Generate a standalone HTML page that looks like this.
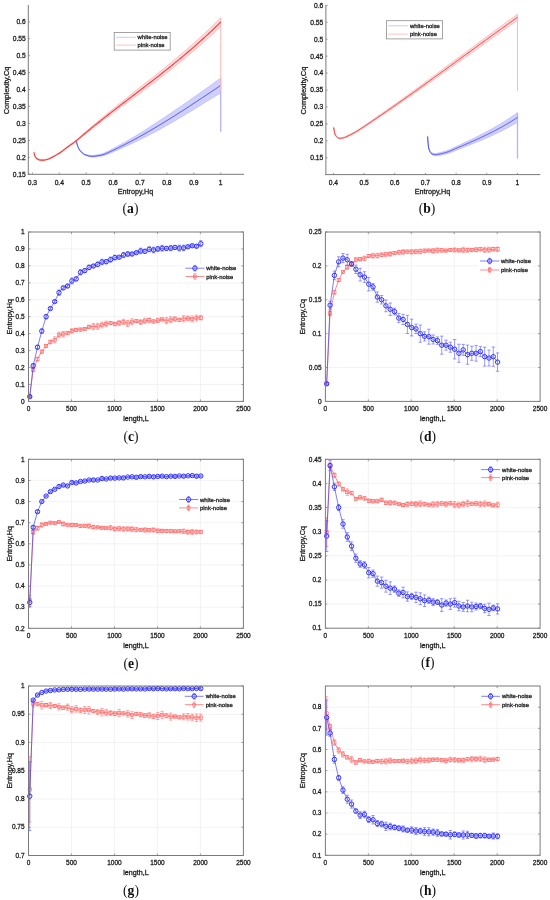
<!DOCTYPE html>
<html><head><meta charset="utf-8"><title>Figure</title>
<style>html,body{margin:0;padding:0;background:#fff;}svg{display:block;}</style></head>
<body><svg width="550" height="900" viewBox="0 0 550 900" font-family="Liberation Sans, Arial, sans-serif">
<rect width="550" height="900" fill="#fff"/>
<line x1="28.3" y1="5" x2="28.3" y2="174.8" stroke="#7a7a7a" stroke-width="1.0"/>
<line x1="27.8" y1="174.3" x2="244" y2="174.3" stroke="#7a7a7a" stroke-width="1.0"/>
<line x1="28.3" y1="174.2" x2="30.1" y2="174.2" stroke="#7a7a7a" stroke-width="0.7"/>
<text x="25.7" y="176.55" font-size="6.7" text-anchor="end" fill="#1a1a1a" stroke="#1a1a1a" stroke-width="0.28">0.15</text>
<line x1="28.3" y1="157.26" x2="30.1" y2="157.26" stroke="#7a7a7a" stroke-width="0.7"/>
<text x="25.7" y="159.61" font-size="6.7" text-anchor="end" fill="#1a1a1a" stroke="#1a1a1a" stroke-width="0.28">0.2</text>
<line x1="28.3" y1="140.33" x2="30.1" y2="140.33" stroke="#7a7a7a" stroke-width="0.7"/>
<text x="25.7" y="142.68" font-size="6.7" text-anchor="end" fill="#1a1a1a" stroke="#1a1a1a" stroke-width="0.28">0.25</text>
<line x1="28.3" y1="123.39" x2="30.1" y2="123.39" stroke="#7a7a7a" stroke-width="0.7"/>
<text x="25.7" y="125.74" font-size="6.7" text-anchor="end" fill="#1a1a1a" stroke="#1a1a1a" stroke-width="0.28">0.3</text>
<line x1="28.3" y1="106.46" x2="30.1" y2="106.46" stroke="#7a7a7a" stroke-width="0.7"/>
<text x="25.7" y="108.81" font-size="6.7" text-anchor="end" fill="#1a1a1a" stroke="#1a1a1a" stroke-width="0.28">0.35</text>
<line x1="28.3" y1="89.52" x2="30.1" y2="89.52" stroke="#7a7a7a" stroke-width="0.7"/>
<text x="25.7" y="91.87" font-size="6.7" text-anchor="end" fill="#1a1a1a" stroke="#1a1a1a" stroke-width="0.28">0.4</text>
<line x1="28.3" y1="72.59" x2="30.1" y2="72.59" stroke="#7a7a7a" stroke-width="0.7"/>
<text x="25.7" y="74.94" font-size="6.7" text-anchor="end" fill="#1a1a1a" stroke="#1a1a1a" stroke-width="0.28">0.45</text>
<line x1="28.3" y1="55.66" x2="30.1" y2="55.66" stroke="#7a7a7a" stroke-width="0.7"/>
<text x="25.7" y="58.01" font-size="6.7" text-anchor="end" fill="#1a1a1a" stroke="#1a1a1a" stroke-width="0.28">0.5</text>
<line x1="28.3" y1="38.72" x2="30.1" y2="38.72" stroke="#7a7a7a" stroke-width="0.7"/>
<text x="25.7" y="41.07" font-size="6.7" text-anchor="end" fill="#1a1a1a" stroke="#1a1a1a" stroke-width="0.28">0.55</text>
<line x1="28.3" y1="21.78" x2="30.1" y2="21.78" stroke="#7a7a7a" stroke-width="0.7"/>
<text x="25.7" y="24.13" font-size="6.7" text-anchor="end" fill="#1a1a1a" stroke="#1a1a1a" stroke-width="0.28">0.6</text>
<line x1="32.4" y1="174.3" x2="32.4" y2="172.5" stroke="#7a7a7a" stroke-width="0.7"/>
<text x="32.4" y="184.6" font-size="6.7" text-anchor="middle" fill="#1a1a1a" stroke="#1a1a1a" stroke-width="0.28">0.3</text>
<line x1="59.3" y1="174.3" x2="59.3" y2="172.5" stroke="#7a7a7a" stroke-width="0.7"/>
<text x="59.3" y="184.6" font-size="6.7" text-anchor="middle" fill="#1a1a1a" stroke="#1a1a1a" stroke-width="0.28">0.4</text>
<line x1="86.2" y1="174.3" x2="86.2" y2="172.5" stroke="#7a7a7a" stroke-width="0.7"/>
<text x="86.2" y="184.6" font-size="6.7" text-anchor="middle" fill="#1a1a1a" stroke="#1a1a1a" stroke-width="0.28">0.5</text>
<line x1="113.1" y1="174.3" x2="113.1" y2="172.5" stroke="#7a7a7a" stroke-width="0.7"/>
<text x="113.1" y="184.6" font-size="6.7" text-anchor="middle" fill="#1a1a1a" stroke="#1a1a1a" stroke-width="0.28">0.6</text>
<line x1="140" y1="174.3" x2="140" y2="172.5" stroke="#7a7a7a" stroke-width="0.7"/>
<text x="140" y="184.6" font-size="6.7" text-anchor="middle" fill="#1a1a1a" stroke="#1a1a1a" stroke-width="0.28">0.7</text>
<line x1="166.9" y1="174.3" x2="166.9" y2="172.5" stroke="#7a7a7a" stroke-width="0.7"/>
<text x="166.9" y="184.6" font-size="6.7" text-anchor="middle" fill="#1a1a1a" stroke="#1a1a1a" stroke-width="0.28">0.8</text>
<line x1="193.8" y1="174.3" x2="193.8" y2="172.5" stroke="#7a7a7a" stroke-width="0.7"/>
<text x="193.8" y="184.6" font-size="6.7" text-anchor="middle" fill="#1a1a1a" stroke="#1a1a1a" stroke-width="0.28">0.9</text>
<line x1="220.7" y1="174.3" x2="220.7" y2="172.5" stroke="#7a7a7a" stroke-width="0.7"/>
<text x="220.7" y="184.6" font-size="6.7" text-anchor="middle" fill="#1a1a1a" stroke="#1a1a1a" stroke-width="0.28">1</text>
<text x="8.9" y="90.45" font-size="7.45" text-anchor="middle" fill="#1a1a1a" stroke="#1a1a1a" stroke-width="0.28" transform="rotate(-90 8.9 90.45)">Complexity,Cq</text>
<text x="135.55" y="194.2" font-size="7.2" text-anchor="middle" fill="#1a1a1a" stroke="#1a1a1a" stroke-width="0.28">Entropy,Hq</text>
<polygon points="76.25,140.44 76.47,141.38 76.69,142.29 76.91,143.12 76.91,143.15 77.14,143.95 77.36,144.68 77.57,145.28 77.58,145.32 77.8,145.9 78.02,146.45 78.23,146.92 78.25,146.97 78.47,147.46 78.69,147.92 78.89,148.3 78.91,148.35 79.14,148.75 79.36,149.12 79.55,149.41 79.58,149.46 79.8,149.77 80.03,150.06 80.2,150.29 80.25,150.34 80.47,150.6 80.69,150.85 80.86,151.04 80.91,151.09 81.14,151.32 81.36,151.54 81.52,151.7 81.58,151.75 81.8,151.95 82.03,152.14 82.18,152.27 82.25,152.32 82.47,152.5 82.69,152.68 82.84,152.79 82.91,152.84 83.14,153.01 83.36,153.17 83.5,153.27 83.58,153.33 83.8,153.48 84.03,153.63 84.16,153.72 84.25,153.77 84.47,153.89 84.69,154 84.82,154.06 84.91,154.09 85.48,154.28 86.14,154.48 86.8,154.68 87.46,154.86 88.12,155.02 88.78,155.17 89.44,155.29 90.1,155.39 90.76,155.46 91.42,155.5 92.08,155.51 92.74,155.49 93.4,155.44 94.06,155.38 94.72,155.29 95.38,155.19 96.04,155.08 96.69,154.96 97.35,154.83 98.01,154.7 98.67,154.56 99.33,154.42 99.99,154.3 100.65,154.17 101.31,154 101.97,153.81 102.63,153.59 103.29,153.35 103.95,153.1 104.61,152.82 105.27,152.54 105.93,152.24 106.59,151.93 107.25,151.62 107.91,151.29 108.57,150.94 109.23,150.6 109.89,150.25 110.55,149.9 111.21,149.56 111.87,149.22 112.53,148.88 113.18,148.53 113.84,148.19 114.5,147.84 115.16,147.49 115.82,147.14 116.48,146.79 117.14,146.44 117.8,146.09 118.46,145.73 119.12,145.37 119.78,145.01 120.44,144.65 121.1,144.29 121.76,143.93 122.42,143.57 123.08,143.2 123.74,142.83 124.4,142.46 125.06,142.09 125.72,141.72 126.38,141.35 127.04,140.97 127.7,140.59 128.36,140.2 129.02,139.81 129.67,139.43 130.33,139.04 130.99,138.65 131.65,138.26 132.31,137.86 132.97,137.47 133.63,137.07 134.29,136.67 134.95,136.28 135.61,135.88 136.27,135.48 136.93,135.07 137.59,134.67 138.25,134.27 138.91,133.86 139.57,133.45 140.23,133.05 140.89,132.64 141.55,132.23 142.21,131.81 142.87,131.4 143.53,130.99 144.19,130.57 144.85,130.16 145.51,129.74 146.16,129.32 146.82,128.9 147.48,128.48 148.14,128.06 148.8,127.63 149.46,127.21 150.12,126.79 150.78,126.36 151.44,125.93 152.1,125.5 152.76,125.08 153.42,124.65 154.08,124.21 154.74,123.78 155.4,123.35 156.06,122.91 156.72,122.48 157.38,122.04 158.04,121.61 158.7,121.17 159.36,120.74 160.02,120.31 160.68,119.87 161.34,119.44 162,119.01 162.65,118.57 163.31,118.13 163.97,117.7 164.63,117.26 165.29,116.82 165.95,116.38 166.61,115.94 167.27,115.5 167.93,115.06 168.59,114.62 169.25,114.17 169.91,113.73 170.57,113.29 171.23,112.84 171.89,112.39 172.55,111.95 173.21,111.5 173.87,111.06 174.53,110.61 175.19,110.17 175.85,109.72 176.51,109.27 177.17,108.82 177.83,108.37 178.49,107.92 179.15,107.47 179.8,107.02 180.46,106.57 181.12,106.12 181.78,105.67 182.44,105.21 183.1,104.76 183.76,104.3 184.42,103.85 185.08,103.39 185.74,102.94 186.4,102.48 187.06,102.02 187.72,101.56 188.38,101.1 189.04,100.65 189.7,100.19 190.36,99.73 191.02,99.27 191.68,98.8 192.34,98.34 193,97.88 193.66,97.42 194.32,96.96 194.98,96.49 195.64,96.03 196.29,95.56 196.95,95.1 197.61,94.64 198.27,94.17 198.93,93.7 199.59,93.24 200.25,92.77 200.91,92.31 201.57,91.84 202.23,91.37 202.89,90.9 203.55,90.44 204.21,89.97 204.87,89.5 205.53,89.03 206.19,88.56 206.85,88.09 207.51,87.62 208.17,87.15 208.83,86.68 209.49,86.21 210.15,85.74 210.81,85.25 211.47,84.77 212.13,84.29 212.78,83.81 213.44,83.32 214.1,82.84 214.76,82.36 215.42,81.87 216.08,81.39 216.74,80.9 217.4,80.42 218.06,79.94 218.72,79.45 219.38,78.97 220.04,78.48 220.7,78 220.7,92.9 220.04,93.3 219.38,93.7 218.72,94.1 218.06,94.51 217.4,94.91 216.74,95.31 216.08,95.71 215.42,96.11 214.76,96.51 214.1,96.91 213.44,97.31 212.78,97.71 212.13,98.11 211.47,98.51 210.81,98.91 210.15,99.31 209.49,99.72 208.83,100.13 208.17,100.54 207.51,100.95 206.85,101.36 206.19,101.77 205.53,102.18 204.87,102.59 204.21,103 203.55,103.41 202.89,103.82 202.23,104.23 201.57,104.63 200.91,105.04 200.25,105.45 199.59,105.86 198.93,106.26 198.27,106.67 197.61,107.07 196.95,107.48 196.29,107.89 195.64,108.29 194.98,108.69 194.32,109.1 193.66,109.5 193,109.91 192.34,110.31 191.68,110.71 191.02,111.11 190.36,111.51 189.7,111.91 189.04,112.31 188.38,112.71 187.72,113.11 187.06,113.51 186.4,113.91 185.74,114.31 185.08,114.7 184.42,115.1 183.76,115.5 183.1,115.89 182.44,116.29 181.78,116.68 181.12,117.08 180.46,117.47 179.8,117.86 179.15,118.25 178.49,118.64 177.83,119.03 177.17,119.42 176.51,119.81 175.85,120.2 175.19,120.59 174.53,120.98 173.87,121.36 173.21,121.75 172.55,122.13 171.89,122.52 171.23,122.9 170.57,123.27 169.91,123.65 169.25,124.03 168.59,124.41 167.93,124.78 167.27,125.16 166.61,125.53 165.95,125.91 165.29,126.28 164.63,126.65 163.97,127.02 163.31,127.39 162.65,127.76 162,128.13 161.34,128.5 160.68,128.87 160.02,129.23 159.36,129.6 158.7,129.96 158.04,130.31 157.38,130.67 156.72,131.02 156.06,131.37 155.4,131.72 154.74,132.07 154.08,132.42 153.42,132.77 152.76,133.12 152.1,133.46 151.44,133.81 150.78,134.15 150.12,134.5 149.46,134.84 148.8,135.18 148.14,135.52 147.48,135.86 146.82,136.19 146.16,136.53 145.51,136.87 144.85,137.2 144.19,137.53 143.53,137.87 142.87,138.2 142.21,138.53 141.55,138.86 140.89,139.18 140.23,139.51 139.57,139.83 138.91,140.16 138.25,140.48 137.59,140.8 136.93,141.12 136.27,141.44 135.61,141.76 134.95,142.08 134.29,142.39 133.63,142.71 132.97,143.02 132.31,143.33 131.65,143.64 130.99,143.95 130.33,144.26 129.67,144.56 129.02,144.87 128.36,145.17 127.7,145.47 127.04,145.77 126.38,146.08 125.72,146.38 125.06,146.69 124.4,146.99 123.74,147.29 123.08,147.59 122.42,147.89 121.76,148.19 121.1,148.49 120.44,148.78 119.78,149.07 119.12,149.37 118.46,149.66 117.8,149.95 117.14,150.23 116.48,150.52 115.82,150.8 115.16,151.09 114.5,151.37 113.84,151.65 113.18,151.93 112.53,152.2 111.87,152.48 111.21,152.75 110.55,153.03 109.89,153.31 109.23,153.59 108.57,153.88 107.91,154.15 107.25,154.41 106.59,154.67 105.93,154.91 105.27,155.14 104.61,155.36 103.95,155.56 103.29,155.75 102.63,155.92 101.97,156.07 101.31,156.2 100.65,156.3 99.99,156.37 99.33,156.44 98.67,156.54 98.01,156.64 97.35,156.73 96.69,156.83 96.04,156.91 95.38,156.99 94.72,157.05 94.06,157.1 93.4,157.13 92.74,157.13 92.08,157.12 91.42,157.07 90.76,156.99 90.1,156.88 89.44,156.75 88.78,156.59 88.12,156.41 87.46,156.21 86.8,155.99 86.14,155.76 85.48,155.52 84.91,155.3 84.82,155.26 84.69,155.2 84.47,155.08 84.25,154.94 84.16,154.88 84.03,154.79 83.8,154.63 83.58,154.46 83.5,154.4 83.36,154.29 83.14,154.12 82.91,153.94 82.84,153.88 82.69,153.76 82.47,153.57 82.25,153.38 82.18,153.33 82.03,153.19 81.8,152.98 81.58,152.77 81.52,152.71 81.36,152.55 81.14,152.32 80.91,152.08 80.86,152.02 80.69,151.82 80.47,151.56 80.25,151.29 80.2,151.23 80.03,151 79.8,150.69 79.58,150.37 79.55,150.32 79.36,150.02 79.14,149.64 78.91,149.22 78.89,149.17 78.69,148.78 78.47,148.31 78.25,147.8 78.23,147.75 78.02,147.27 77.8,146.71 77.58,146.12 77.57,146.08 77.36,145.46 77.14,144.72 76.91,143.91 76.91,143.88 76.69,143.03 76.47,142.12 76.25,141.17" fill="#c4c4ff" stroke="none" fill-opacity="0.8"/>
<polyline points="76.25,140.44 76.47,141.38 76.69,142.29 76.91,143.12 76.91,143.15 77.14,143.95 77.36,144.68 77.57,145.28 77.58,145.32 77.8,145.9 78.02,146.45 78.23,146.92 78.25,146.97 78.47,147.46 78.69,147.92 78.89,148.3 78.91,148.35 79.14,148.75 79.36,149.12 79.55,149.41 79.58,149.46 79.8,149.77 80.03,150.06 80.2,150.29 80.25,150.34 80.47,150.6 80.69,150.85 80.86,151.04 80.91,151.09 81.14,151.32 81.36,151.54 81.52,151.7 81.58,151.75 81.8,151.95 82.03,152.14 82.18,152.27 82.25,152.32 82.47,152.5 82.69,152.68 82.84,152.79 82.91,152.84 83.14,153.01 83.36,153.17 83.5,153.27 83.58,153.33 83.8,153.48 84.03,153.63 84.16,153.72 84.25,153.77 84.47,153.89 84.69,154 84.82,154.06 84.91,154.09 85.48,154.28 86.14,154.48 86.8,154.68 87.46,154.86 88.12,155.02 88.78,155.17 89.44,155.29 90.1,155.39 90.76,155.46 91.42,155.5 92.08,155.51 92.74,155.49 93.4,155.44 94.06,155.38 94.72,155.29 95.38,155.19 96.04,155.08 96.69,154.96 97.35,154.83 98.01,154.7 98.67,154.56 99.33,154.42 99.99,154.3 100.65,154.17 101.31,154 101.97,153.81 102.63,153.59 103.29,153.35 103.95,153.1 104.61,152.82 105.27,152.54 105.93,152.24 106.59,151.93 107.25,151.62 107.91,151.29 108.57,150.94 109.23,150.6 109.89,150.25 110.55,149.9 111.21,149.56 111.87,149.22 112.53,148.88 113.18,148.53 113.84,148.19 114.5,147.84 115.16,147.49 115.82,147.14 116.48,146.79 117.14,146.44 117.8,146.09 118.46,145.73 119.12,145.37 119.78,145.01 120.44,144.65 121.1,144.29 121.76,143.93 122.42,143.57 123.08,143.2 123.74,142.83 124.4,142.46 125.06,142.09 125.72,141.72 126.38,141.35 127.04,140.97 127.7,140.59 128.36,140.2 129.02,139.81 129.67,139.43 130.33,139.04 130.99,138.65 131.65,138.26 132.31,137.86 132.97,137.47 133.63,137.07 134.29,136.67 134.95,136.28 135.61,135.88 136.27,135.48 136.93,135.07 137.59,134.67 138.25,134.27 138.91,133.86 139.57,133.45 140.23,133.05 140.89,132.64 141.55,132.23 142.21,131.81 142.87,131.4 143.53,130.99 144.19,130.57 144.85,130.16 145.51,129.74 146.16,129.32 146.82,128.9 147.48,128.48 148.14,128.06 148.8,127.63 149.46,127.21 150.12,126.79 150.78,126.36 151.44,125.93 152.1,125.5 152.76,125.08 153.42,124.65 154.08,124.21 154.74,123.78 155.4,123.35 156.06,122.91 156.72,122.48 157.38,122.04 158.04,121.61 158.7,121.17 159.36,120.74 160.02,120.31 160.68,119.87 161.34,119.44 162,119.01 162.65,118.57 163.31,118.13 163.97,117.7 164.63,117.26 165.29,116.82 165.95,116.38 166.61,115.94 167.27,115.5 167.93,115.06 168.59,114.62 169.25,114.17 169.91,113.73 170.57,113.29 171.23,112.84 171.89,112.39 172.55,111.95 173.21,111.5 173.87,111.06 174.53,110.61 175.19,110.17 175.85,109.72 176.51,109.27 177.17,108.82 177.83,108.37 178.49,107.92 179.15,107.47 179.8,107.02 180.46,106.57 181.12,106.12 181.78,105.67 182.44,105.21 183.1,104.76 183.76,104.3 184.42,103.85 185.08,103.39 185.74,102.94 186.4,102.48 187.06,102.02 187.72,101.56 188.38,101.1 189.04,100.65 189.7,100.19 190.36,99.73 191.02,99.27 191.68,98.8 192.34,98.34 193,97.88 193.66,97.42 194.32,96.96 194.98,96.49 195.64,96.03 196.29,95.56 196.95,95.1 197.61,94.64 198.27,94.17 198.93,93.7 199.59,93.24 200.25,92.77 200.91,92.31 201.57,91.84 202.23,91.37 202.89,90.9 203.55,90.44 204.21,89.97 204.87,89.5 205.53,89.03 206.19,88.56 206.85,88.09 207.51,87.62 208.17,87.15 208.83,86.68 209.49,86.21 210.15,85.74 210.81,85.25 211.47,84.77 212.13,84.29 212.78,83.81 213.44,83.32 214.1,82.84 214.76,82.36 215.42,81.87 216.08,81.39 216.74,80.9 217.4,80.42 218.06,79.94 218.72,79.45 219.38,78.97 220.04,78.48 220.7,78" fill="none" stroke="#a8a8ff" stroke-width="0.6" stroke-linejoin="round"/>
<polyline points="76.25,141.17 76.47,142.12 76.69,143.03 76.91,143.88 76.91,143.91 77.14,144.72 77.36,145.46 77.57,146.08 77.58,146.12 77.8,146.71 78.02,147.27 78.23,147.75 78.25,147.8 78.47,148.31 78.69,148.78 78.89,149.17 78.91,149.22 79.14,149.64 79.36,150.02 79.55,150.32 79.58,150.37 79.8,150.69 80.03,151 80.2,151.23 80.25,151.29 80.47,151.56 80.69,151.82 80.86,152.02 80.91,152.08 81.14,152.32 81.36,152.55 81.52,152.71 81.58,152.77 81.8,152.98 82.03,153.19 82.18,153.33 82.25,153.38 82.47,153.57 82.69,153.76 82.84,153.88 82.91,153.94 83.14,154.12 83.36,154.29 83.5,154.4 83.58,154.46 83.8,154.63 84.03,154.79 84.16,154.88 84.25,154.94 84.47,155.08 84.69,155.2 84.82,155.26 84.91,155.3 85.48,155.52 86.14,155.76 86.8,155.99 87.46,156.21 88.12,156.41 88.78,156.59 89.44,156.75 90.1,156.88 90.76,156.99 91.42,157.07 92.08,157.12 92.74,157.13 93.4,157.13 94.06,157.1 94.72,157.05 95.38,156.99 96.04,156.91 96.69,156.83 97.35,156.73 98.01,156.64 98.67,156.54 99.33,156.44 99.99,156.37 100.65,156.3 101.31,156.2 101.97,156.07 102.63,155.92 103.29,155.75 103.95,155.56 104.61,155.36 105.27,155.14 105.93,154.91 106.59,154.67 107.25,154.41 107.91,154.15 108.57,153.88 109.23,153.59 109.89,153.31 110.55,153.03 111.21,152.75 111.87,152.48 112.53,152.2 113.18,151.93 113.84,151.65 114.5,151.37 115.16,151.09 115.82,150.8 116.48,150.52 117.14,150.23 117.8,149.95 118.46,149.66 119.12,149.37 119.78,149.07 120.44,148.78 121.1,148.49 121.76,148.19 122.42,147.89 123.08,147.59 123.74,147.29 124.4,146.99 125.06,146.69 125.72,146.38 126.38,146.08 127.04,145.77 127.7,145.47 128.36,145.17 129.02,144.87 129.67,144.56 130.33,144.26 130.99,143.95 131.65,143.64 132.31,143.33 132.97,143.02 133.63,142.71 134.29,142.39 134.95,142.08 135.61,141.76 136.27,141.44 136.93,141.12 137.59,140.8 138.25,140.48 138.91,140.16 139.57,139.83 140.23,139.51 140.89,139.18 141.55,138.86 142.21,138.53 142.87,138.2 143.53,137.87 144.19,137.53 144.85,137.2 145.51,136.87 146.16,136.53 146.82,136.19 147.48,135.86 148.14,135.52 148.8,135.18 149.46,134.84 150.12,134.5 150.78,134.15 151.44,133.81 152.1,133.46 152.76,133.12 153.42,132.77 154.08,132.42 154.74,132.07 155.4,131.72 156.06,131.37 156.72,131.02 157.38,130.67 158.04,130.31 158.7,129.96 159.36,129.6 160.02,129.23 160.68,128.87 161.34,128.5 162,128.13 162.65,127.76 163.31,127.39 163.97,127.02 164.63,126.65 165.29,126.28 165.95,125.91 166.61,125.53 167.27,125.16 167.93,124.78 168.59,124.41 169.25,124.03 169.91,123.65 170.57,123.27 171.23,122.9 171.89,122.52 172.55,122.13 173.21,121.75 173.87,121.36 174.53,120.98 175.19,120.59 175.85,120.2 176.51,119.81 177.17,119.42 177.83,119.03 178.49,118.64 179.15,118.25 179.8,117.86 180.46,117.47 181.12,117.08 181.78,116.68 182.44,116.29 183.1,115.89 183.76,115.5 184.42,115.1 185.08,114.7 185.74,114.31 186.4,113.91 187.06,113.51 187.72,113.11 188.38,112.71 189.04,112.31 189.7,111.91 190.36,111.51 191.02,111.11 191.68,110.71 192.34,110.31 193,109.91 193.66,109.5 194.32,109.1 194.98,108.69 195.64,108.29 196.29,107.89 196.95,107.48 197.61,107.07 198.27,106.67 198.93,106.26 199.59,105.86 200.25,105.45 200.91,105.04 201.57,104.63 202.23,104.23 202.89,103.82 203.55,103.41 204.21,103 204.87,102.59 205.53,102.18 206.19,101.77 206.85,101.36 207.51,100.95 208.17,100.54 208.83,100.13 209.49,99.72 210.15,99.31 210.81,98.91 211.47,98.51 212.13,98.11 212.78,97.71 213.44,97.31 214.1,96.91 214.76,96.51 215.42,96.11 216.08,95.71 216.74,95.31 217.4,94.91 218.06,94.51 218.72,94.1 219.38,93.7 220.04,93.3 220.7,92.9" fill="none" stroke="#a8a8ff" stroke-width="0.6" stroke-linejoin="round"/>
<line x1="220.7" y1="78" x2="220.7" y2="131.86" stroke="#b4b4ff" stroke-width="1.3"/>
<polyline points="76.25,140.8 76.47,141.75 76.69,142.66 76.91,143.5 76.91,143.53 77.14,144.33 77.36,145.07 77.57,145.68 77.58,145.72 77.8,146.3 78.02,146.86 78.23,147.34 78.25,147.38 78.47,147.88 78.69,148.35 78.89,148.73 78.91,148.79 79.14,149.19 79.36,149.57 79.55,149.86 79.58,149.92 79.8,150.23 80.03,150.53 80.2,150.76 80.25,150.81 80.47,151.08 80.69,151.34 80.86,151.53 80.91,151.58 81.14,151.82 81.36,152.04 81.52,152.2 81.58,152.26 81.8,152.46 82.03,152.66 82.18,152.8 82.25,152.85 82.47,153.04 82.69,153.22 82.84,153.34 82.91,153.39 83.14,153.56 83.36,153.73 83.5,153.84 83.58,153.9 83.8,154.06 84.03,154.21 84.16,154.3 84.25,154.35 84.47,154.48 84.69,154.6 84.82,154.66 84.91,154.7 85.48,154.9 86.14,155.12 86.8,155.34 87.46,155.53 88.12,155.72 88.78,155.88 89.44,156.02 90.1,156.14 90.76,156.23 91.42,156.29 92.08,156.31 92.74,156.31 93.4,156.28 94.06,156.24 94.72,156.17 95.38,156.09 96.04,156 96.69,155.89 97.35,155.78 98.01,155.67 98.67,155.55 99.33,155.43 99.99,155.33 100.65,155.23 101.31,155.1 101.97,154.94 102.63,154.75 103.29,154.55 103.95,154.33 104.61,154.09 105.27,153.84 105.93,153.57 106.59,153.3 107.25,153.02 107.91,152.72 108.57,152.41 109.23,152.1 109.89,151.78 110.55,151.46 111.21,151.15 111.87,150.85 112.53,150.54 113.18,150.23 113.84,149.92 114.5,149.6 115.16,149.29 115.82,148.97 116.48,148.66 117.14,148.34 117.8,148.02 118.46,147.69 119.12,147.37 119.78,147.04 120.44,146.72 121.1,146.39 121.76,146.06 122.42,145.73 123.08,145.4 123.74,145.06 124.4,144.73 125.06,144.39 125.72,144.05 126.38,143.71 127.04,143.37 127.7,143.03 128.36,142.69 129.02,142.34 129.67,141.99 130.33,141.65 130.99,141.3 131.65,140.95 132.31,140.6 132.97,140.24 133.63,139.89 134.29,139.53 134.95,139.18 135.61,138.82 136.27,138.46 136.93,138.1 137.59,137.74 138.25,137.37 138.91,137.01 139.57,136.64 140.23,136.28 140.89,135.91 141.55,135.54 142.21,135.17 142.87,134.8 143.53,134.43 144.19,134.05 144.85,133.68 145.51,133.3 146.16,132.93 146.82,132.55 147.48,132.17 148.14,131.79 148.8,131.41 149.46,131.02 150.12,130.64 150.78,130.26 151.44,129.87 152.1,129.48 152.76,129.1 153.42,128.71 154.08,128.32 154.74,127.93 155.4,127.54 156.06,127.14 156.72,126.75 157.38,126.36 158.04,125.96 158.7,125.56 159.36,125.17 160.02,124.77 160.68,124.37 161.34,123.97 162,123.57 162.65,123.17 163.31,122.76 163.97,122.36 164.63,121.96 165.29,121.55 165.95,121.14 166.61,120.74 167.27,120.33 167.93,119.92 168.59,119.51 169.25,119.1 169.91,118.69 170.57,118.28 171.23,117.87 171.89,117.45 172.55,117.04 173.21,116.63 173.87,116.21 174.53,115.79 175.19,115.38 175.85,114.96 176.51,114.54 177.17,114.12 177.83,113.7 178.49,113.28 179.15,112.86 179.8,112.44 180.46,112.02 181.12,111.6 181.78,111.17 182.44,110.75 183.1,110.33 183.76,109.9 184.42,109.47 185.08,109.05 185.74,108.62 186.4,108.19 187.06,107.77 187.72,107.34 188.38,106.91 189.04,106.48 189.7,106.05 190.36,105.62 191.02,105.19 191.68,104.76 192.34,104.33 193,103.89 193.66,103.46 194.32,103.03 194.98,102.59 195.64,102.16 196.29,101.73 196.95,101.29 197.61,100.86 198.27,100.42 198.93,99.98 199.59,99.55 200.25,99.11 200.91,98.67 201.57,98.24 202.23,97.8 202.89,97.36 203.55,96.92 204.21,96.48 204.87,96.04 205.53,95.61 206.19,95.17 206.85,94.73 207.51,94.29 208.17,93.85 208.83,93.41 209.49,92.97 210.15,92.52 210.81,92.08 211.47,91.64 212.13,91.2 212.78,90.76 213.44,90.32 214.1,89.88 214.76,89.43 215.42,88.99 216.08,88.55 216.74,88.11 217.4,87.66 218.06,87.22 218.72,86.78 219.38,86.34 220.04,85.89 220.7,85.45" fill="none" stroke="#3a3af5" stroke-width="0.9" stroke-linejoin="round"/>
<polygon points="33.91,151.77 34.19,152.9 34.48,153.97 34.76,154.88 34.77,154.91 35.06,155.67 35.34,156.22 35.61,156.65 35.63,156.67 35.92,157.08 36.21,157.44 36.47,157.72 36.49,157.75 36.78,158.01 37.07,158.24 37.32,158.4 37.35,158.42 37.64,158.57 37.93,158.72 38.17,158.84 38.22,158.86 38.5,159 38.79,159.12 39.02,159.22 39.08,159.24 39.37,159.33 39.65,159.42 39.88,159.47 39.94,159.49 40.23,159.53 40.52,159.56 40.73,159.57 40.8,159.57 41.09,159.57 41.38,159.56 41.58,159.56 41.67,159.56 41.95,159.56 42.24,159.56 42.44,159.56 42.53,159.56 42.82,159.56 43.1,159.56 43.29,159.56 43.39,159.56 43.68,159.55 43.96,159.55 44.14,159.55 44.25,159.54 44.54,159.52 44.83,159.47 44.99,159.44 45.11,159.42 45.85,159.23 46.7,158.98 47.55,158.72 48.41,158.42 49.26,158.06 50.11,157.68 50.97,157.27 51.82,156.86 52.67,156.43 53.52,155.98 54.38,155.5 55.23,155.01 56.08,154.5 56.94,153.99 57.79,153.47 58.64,152.92 59.49,152.37 60.35,151.79 61.2,151.21 62.05,150.61 62.91,149.99 63.76,149.35 64.61,148.68 65.47,148 66.32,147.32 67.17,146.66 68.02,146.02 68.88,145.41 69.73,144.82 70.58,144.24 71.44,143.66 72.29,143.07 73.14,142.46 73.99,141.82 74.85,141.14 75.7,140.43 76.55,139.71 77.41,138.97 78.26,138.22 79.11,137.45 79.97,136.69 80.82,135.92 81.67,135.16 82.52,134.39 83.38,133.63 84.23,132.89 85.08,132.15 85.94,131.41 86.79,130.67 87.64,129.94 88.49,129.2 89.35,128.47 90.2,127.74 91.05,127.01 91.91,126.29 92.76,125.57 93.61,124.84 94.47,124.12 95.32,123.4 96.17,122.69 97.02,121.97 97.88,121.26 98.73,120.54 99.58,119.83 100.44,119.12 101.29,118.42 102.14,117.72 102.99,117.01 103.85,116.31 104.7,115.61 105.55,114.91 106.41,114.22 107.26,113.52 108.11,112.82 108.97,112.13 109.82,111.44 110.67,110.75 111.52,110.05 112.38,109.36 113.23,108.67 114.08,107.98 114.94,107.3 115.79,106.61 116.64,105.92 117.49,105.24 118.35,104.55 119.2,103.87 120.05,103.18 120.91,102.5 121.76,101.82 122.61,101.14 123.46,100.45 124.32,99.77 125.17,99.09 126.02,98.41 126.88,97.73 127.73,97.05 128.58,96.37 129.44,95.69 130.29,95.01 131.14,94.33 131.99,93.65 132.85,92.97 133.7,92.29 134.55,91.61 135.41,90.93 136.26,90.25 137.11,89.57 137.96,88.89 138.82,88.21 139.67,87.53 140.52,86.86 141.38,86.19 142.23,85.53 143.08,84.86 143.94,84.19 144.79,83.52 145.64,82.86 146.49,82.19 147.35,81.52 148.2,80.85 149.05,80.18 149.91,79.51 150.76,78.84 151.61,78.17 152.46,77.49 153.32,76.82 154.17,76.14 155.02,75.47 155.88,74.79 156.73,74.11 157.58,73.43 158.44,72.75 159.29,72.07 160.14,71.39 160.99,70.71 161.85,70.02 162.7,69.34 163.55,68.65 164.41,67.96 165.26,67.27 166.11,66.58 166.96,65.89 167.82,65.19 168.67,64.5 169.52,63.8 170.38,63.1 171.23,62.4 172.08,61.7 172.94,61 173.79,60.29 174.64,59.58 175.49,58.88 176.35,58.16 177.2,57.45 178.05,56.74 178.91,56.02 179.76,55.3 180.61,54.58 181.46,53.86 182.32,53.13 183.17,52.41 184.02,51.68 184.88,50.95 185.73,50.21 186.58,49.47 187.44,48.73 188.29,47.99 189.14,47.24 189.99,46.49 190.85,45.74 191.7,44.99 192.55,44.23 193.41,43.47 194.26,42.71 195.11,41.95 195.96,41.18 196.82,40.41 197.67,39.64 198.52,38.86 199.38,38.08 200.23,37.3 201.08,36.52 201.94,35.73 202.79,34.94 203.64,34.15 204.49,33.35 205.35,32.55 206.2,31.75 207.05,30.95 207.91,30.14 208.76,29.33 209.61,28.51 210.46,27.7 211.32,26.87 212.17,26.05 213.02,25.22 213.88,24.39 214.73,23.55 215.58,22.72 216.44,21.87 217.29,21.03 218.14,20.18 218.99,19.33 219.85,18.47 220.7,17.61 220.7,26.41 219.85,27.24 218.99,28.07 218.14,28.89 217.29,29.7 216.44,30.51 215.58,31.32 214.73,32.13 213.88,32.93 213.02,33.73 212.17,34.52 211.32,35.32 210.46,36.1 209.61,36.89 208.76,37.67 207.91,38.45 207.05,39.23 206.2,40 205.35,40.77 204.49,41.53 203.64,42.29 202.79,43.05 201.94,43.81 201.08,44.56 200.23,45.32 199.38,46.06 198.52,46.81 197.67,47.55 196.82,48.29 195.96,49.03 195.11,49.76 194.26,50.49 193.41,51.22 192.55,51.95 191.7,52.67 190.85,53.39 189.99,54.11 189.14,54.83 188.29,55.54 187.44,56.25 186.58,56.96 185.73,57.67 184.88,58.37 184.02,59.08 183.17,59.78 182.32,60.48 181.46,61.18 180.61,61.88 179.76,62.58 178.91,63.27 178.05,63.96 177.2,64.65 176.35,65.34 175.49,66.02 174.64,66.71 173.79,67.39 172.94,68.07 172.08,68.75 171.23,69.42 170.38,70.1 169.52,70.77 168.67,71.44 167.82,72.11 166.96,72.78 166.11,73.45 165.26,74.12 164.41,74.78 163.55,75.44 162.7,76.11 161.85,76.77 160.99,77.43 160.14,78.08 159.29,78.74 158.44,79.4 157.58,80.05 156.73,80.71 155.88,81.36 155.02,82.01 154.17,82.66 153.32,83.31 152.46,83.96 151.61,84.61 150.76,85.25 149.91,85.9 149.05,86.55 148.2,87.19 147.35,87.83 146.49,88.48 145.64,89.12 144.79,89.76 143.94,90.41 143.08,91.05 142.23,91.69 141.38,92.33 140.52,92.97 139.67,93.6 138.82,94.23 137.96,94.85 137.11,95.47 136.26,96.09 135.41,96.72 134.55,97.34 133.7,97.96 132.85,98.59 131.99,99.21 131.14,99.83 130.29,100.45 129.44,101.08 128.58,101.7 127.73,102.32 126.88,102.94 126.02,103.57 125.17,104.19 124.32,104.82 123.46,105.44 122.61,106.06 121.76,106.69 120.91,107.32 120.05,107.94 119.2,108.57 118.35,109.2 117.49,109.82 116.64,110.45 115.79,111.08 114.94,111.71 114.08,112.34 113.23,112.97 112.38,113.6 111.52,114.24 110.67,114.87 109.82,115.51 108.97,116.14 108.11,116.78 107.26,117.42 106.41,118.06 105.55,118.7 104.7,119.34 103.85,119.98 102.99,120.63 102.14,121.27 101.29,121.92 100.44,122.56 99.58,123.21 98.73,123.86 97.88,124.51 97.02,125.16 96.17,125.81 95.32,126.46 94.47,127.12 93.61,127.77 92.76,128.43 91.91,129.09 91.05,129.75 90.2,130.42 89.35,131.08 88.49,131.75 87.64,132.42 86.79,133.09 85.94,133.76 85.08,134.43 84.23,135.11 83.38,135.79 82.52,136.49 81.67,137.19 80.82,137.89 79.97,138.59 79.11,139.29 78.26,139.99 77.41,140.68 76.55,141.35 75.7,142.01 74.85,142.65 73.99,143.26 73.14,143.85 72.29,144.42 71.44,145.01 70.58,145.58 69.73,146.15 68.88,146.74 68.02,147.34 67.17,147.97 66.32,148.62 65.47,149.29 64.61,149.96 63.76,150.62 62.91,151.26 62.05,151.87 61.2,152.46 60.35,153.04 59.49,153.61 58.64,154.16 57.79,154.7 56.94,155.21 56.08,155.72 55.23,156.22 54.38,156.7 53.52,157.17 52.67,157.62 51.82,158.04 50.97,158.44 50.11,158.84 49.26,159.22 48.41,159.57 47.55,159.86 46.7,160.11 45.85,160.36 45.11,160.54 44.99,160.56 44.83,160.59 44.54,160.63 44.25,160.66 44.14,160.66 43.96,160.67 43.68,160.67 43.39,160.66 43.29,160.66 43.1,160.66 42.82,160.66 42.53,160.66 42.44,160.66 42.24,160.66 41.95,160.66 41.67,160.66 41.58,160.66 41.38,160.66 41.09,160.65 40.8,160.65 40.73,160.65 40.52,160.65 40.23,160.62 39.94,160.56 39.88,160.55 39.65,160.5 39.37,160.41 39.08,160.31 39.02,160.29 38.79,160.19 38.5,160.07 38.22,159.93 38.17,159.91 37.93,159.78 37.64,159.63 37.35,159.48 37.32,159.45 37.07,159.29 36.78,159.07 36.49,158.8 36.47,158.77 36.21,158.48 35.92,158.12 35.63,157.72 35.61,157.69 35.34,157.26 35.06,156.71 34.77,155.94 34.76,155.92 34.48,155 34.19,153.94 33.91,152.8" fill="#ffd0d0" stroke="none" fill-opacity="0.8"/>
<polyline points="33.91,151.77 34.19,152.9 34.48,153.97 34.76,154.88 34.77,154.91 35.06,155.67 35.34,156.22 35.61,156.65 35.63,156.67 35.92,157.08 36.21,157.44 36.47,157.72 36.49,157.75 36.78,158.01 37.07,158.24 37.32,158.4 37.35,158.42 37.64,158.57 37.93,158.72 38.17,158.84 38.22,158.86 38.5,159 38.79,159.12 39.02,159.22 39.08,159.24 39.37,159.33 39.65,159.42 39.88,159.47 39.94,159.49 40.23,159.53 40.52,159.56 40.73,159.57 40.8,159.57 41.09,159.57 41.38,159.56 41.58,159.56 41.67,159.56 41.95,159.56 42.24,159.56 42.44,159.56 42.53,159.56 42.82,159.56 43.1,159.56 43.29,159.56 43.39,159.56 43.68,159.55 43.96,159.55 44.14,159.55 44.25,159.54 44.54,159.52 44.83,159.47 44.99,159.44 45.11,159.42 45.85,159.23 46.7,158.98 47.55,158.72 48.41,158.42 49.26,158.06 50.11,157.68 50.97,157.27 51.82,156.86 52.67,156.43 53.52,155.98 54.38,155.5 55.23,155.01 56.08,154.5 56.94,153.99 57.79,153.47 58.64,152.92 59.49,152.37 60.35,151.79 61.2,151.21 62.05,150.61 62.91,149.99 63.76,149.35 64.61,148.68 65.47,148 66.32,147.32 67.17,146.66 68.02,146.02 68.88,145.41 69.73,144.82 70.58,144.24 71.44,143.66 72.29,143.07 73.14,142.46 73.99,141.82 74.85,141.14 75.7,140.43 76.55,139.71 77.41,138.97 78.26,138.22 79.11,137.45 79.97,136.69 80.82,135.92 81.67,135.16 82.52,134.39 83.38,133.63 84.23,132.89 85.08,132.15 85.94,131.41 86.79,130.67 87.64,129.94 88.49,129.2 89.35,128.47 90.2,127.74 91.05,127.01 91.91,126.29 92.76,125.57 93.61,124.84 94.47,124.12 95.32,123.4 96.17,122.69 97.02,121.97 97.88,121.26 98.73,120.54 99.58,119.83 100.44,119.12 101.29,118.42 102.14,117.72 102.99,117.01 103.85,116.31 104.7,115.61 105.55,114.91 106.41,114.22 107.26,113.52 108.11,112.82 108.97,112.13 109.82,111.44 110.67,110.75 111.52,110.05 112.38,109.36 113.23,108.67 114.08,107.98 114.94,107.3 115.79,106.61 116.64,105.92 117.49,105.24 118.35,104.55 119.2,103.87 120.05,103.18 120.91,102.5 121.76,101.82 122.61,101.14 123.46,100.45 124.32,99.77 125.17,99.09 126.02,98.41 126.88,97.73 127.73,97.05 128.58,96.37 129.44,95.69 130.29,95.01 131.14,94.33 131.99,93.65 132.85,92.97 133.7,92.29 134.55,91.61 135.41,90.93 136.26,90.25 137.11,89.57 137.96,88.89 138.82,88.21 139.67,87.53 140.52,86.86 141.38,86.19 142.23,85.53 143.08,84.86 143.94,84.19 144.79,83.52 145.64,82.86 146.49,82.19 147.35,81.52 148.2,80.85 149.05,80.18 149.91,79.51 150.76,78.84 151.61,78.17 152.46,77.49 153.32,76.82 154.17,76.14 155.02,75.47 155.88,74.79 156.73,74.11 157.58,73.43 158.44,72.75 159.29,72.07 160.14,71.39 160.99,70.71 161.85,70.02 162.7,69.34 163.55,68.65 164.41,67.96 165.26,67.27 166.11,66.58 166.96,65.89 167.82,65.19 168.67,64.5 169.52,63.8 170.38,63.1 171.23,62.4 172.08,61.7 172.94,61 173.79,60.29 174.64,59.58 175.49,58.88 176.35,58.16 177.2,57.45 178.05,56.74 178.91,56.02 179.76,55.3 180.61,54.58 181.46,53.86 182.32,53.13 183.17,52.41 184.02,51.68 184.88,50.95 185.73,50.21 186.58,49.47 187.44,48.73 188.29,47.99 189.14,47.24 189.99,46.49 190.85,45.74 191.7,44.99 192.55,44.23 193.41,43.47 194.26,42.71 195.11,41.95 195.96,41.18 196.82,40.41 197.67,39.64 198.52,38.86 199.38,38.08 200.23,37.3 201.08,36.52 201.94,35.73 202.79,34.94 203.64,34.15 204.49,33.35 205.35,32.55 206.2,31.75 207.05,30.95 207.91,30.14 208.76,29.33 209.61,28.51 210.46,27.7 211.32,26.87 212.17,26.05 213.02,25.22 213.88,24.39 214.73,23.55 215.58,22.72 216.44,21.87 217.29,21.03 218.14,20.18 218.99,19.33 219.85,18.47 220.7,17.61" fill="none" stroke="#ffa0a0" stroke-width="0.6" stroke-linejoin="round"/>
<polyline points="33.91,152.8 34.19,153.94 34.48,155 34.76,155.92 34.77,155.94 35.06,156.71 35.34,157.26 35.61,157.69 35.63,157.72 35.92,158.12 36.21,158.48 36.47,158.77 36.49,158.8 36.78,159.07 37.07,159.29 37.32,159.45 37.35,159.48 37.64,159.63 37.93,159.78 38.17,159.91 38.22,159.93 38.5,160.07 38.79,160.19 39.02,160.29 39.08,160.31 39.37,160.41 39.65,160.5 39.88,160.55 39.94,160.56 40.23,160.62 40.52,160.65 40.73,160.65 40.8,160.65 41.09,160.65 41.38,160.66 41.58,160.66 41.67,160.66 41.95,160.66 42.24,160.66 42.44,160.66 42.53,160.66 42.82,160.66 43.1,160.66 43.29,160.66 43.39,160.66 43.68,160.67 43.96,160.67 44.14,160.66 44.25,160.66 44.54,160.63 44.83,160.59 44.99,160.56 45.11,160.54 45.85,160.36 46.7,160.11 47.55,159.86 48.41,159.57 49.26,159.22 50.11,158.84 50.97,158.44 51.82,158.04 52.67,157.62 53.52,157.17 54.38,156.7 55.23,156.22 56.08,155.72 56.94,155.21 57.79,154.7 58.64,154.16 59.49,153.61 60.35,153.04 61.2,152.46 62.05,151.87 62.91,151.26 63.76,150.62 64.61,149.96 65.47,149.29 66.32,148.62 67.17,147.97 68.02,147.34 68.88,146.74 69.73,146.15 70.58,145.58 71.44,145.01 72.29,144.42 73.14,143.85 73.99,143.26 74.85,142.65 75.7,142.01 76.55,141.35 77.41,140.68 78.26,139.99 79.11,139.29 79.97,138.59 80.82,137.89 81.67,137.19 82.52,136.49 83.38,135.79 84.23,135.11 85.08,134.43 85.94,133.76 86.79,133.09 87.64,132.42 88.49,131.75 89.35,131.08 90.2,130.42 91.05,129.75 91.91,129.09 92.76,128.43 93.61,127.77 94.47,127.12 95.32,126.46 96.17,125.81 97.02,125.16 97.88,124.51 98.73,123.86 99.58,123.21 100.44,122.56 101.29,121.92 102.14,121.27 102.99,120.63 103.85,119.98 104.7,119.34 105.55,118.7 106.41,118.06 107.26,117.42 108.11,116.78 108.97,116.14 109.82,115.51 110.67,114.87 111.52,114.24 112.38,113.6 113.23,112.97 114.08,112.34 114.94,111.71 115.79,111.08 116.64,110.45 117.49,109.82 118.35,109.2 119.2,108.57 120.05,107.94 120.91,107.32 121.76,106.69 122.61,106.06 123.46,105.44 124.32,104.82 125.17,104.19 126.02,103.57 126.88,102.94 127.73,102.32 128.58,101.7 129.44,101.08 130.29,100.45 131.14,99.83 131.99,99.21 132.85,98.59 133.7,97.96 134.55,97.34 135.41,96.72 136.26,96.09 137.11,95.47 137.96,94.85 138.82,94.23 139.67,93.6 140.52,92.97 141.38,92.33 142.23,91.69 143.08,91.05 143.94,90.41 144.79,89.76 145.64,89.12 146.49,88.48 147.35,87.83 148.2,87.19 149.05,86.55 149.91,85.9 150.76,85.25 151.61,84.61 152.46,83.96 153.32,83.31 154.17,82.66 155.02,82.01 155.88,81.36 156.73,80.71 157.58,80.05 158.44,79.4 159.29,78.74 160.14,78.08 160.99,77.43 161.85,76.77 162.7,76.11 163.55,75.44 164.41,74.78 165.26,74.12 166.11,73.45 166.96,72.78 167.82,72.11 168.67,71.44 169.52,70.77 170.38,70.1 171.23,69.42 172.08,68.75 172.94,68.07 173.79,67.39 174.64,66.71 175.49,66.02 176.35,65.34 177.2,64.65 178.05,63.96 178.91,63.27 179.76,62.58 180.61,61.88 181.46,61.18 182.32,60.48 183.17,59.78 184.02,59.08 184.88,58.37 185.73,57.67 186.58,56.96 187.44,56.25 188.29,55.54 189.14,54.83 189.99,54.11 190.85,53.39 191.7,52.67 192.55,51.95 193.41,51.22 194.26,50.49 195.11,49.76 195.96,49.03 196.82,48.29 197.67,47.55 198.52,46.81 199.38,46.06 200.23,45.32 201.08,44.56 201.94,43.81 202.79,43.05 203.64,42.29 204.49,41.53 205.35,40.77 206.2,40 207.05,39.23 207.91,38.45 208.76,37.67 209.61,36.89 210.46,36.1 211.32,35.32 212.17,34.52 213.02,33.73 213.88,32.93 214.73,32.13 215.58,31.32 216.44,30.51 217.29,29.7 218.14,28.89 218.99,28.07 219.85,27.24 220.7,26.41" fill="none" stroke="#ffa0a0" stroke-width="0.6" stroke-linejoin="round"/>
<line x1="220.7" y1="17.61" x2="220.7" y2="89.86" stroke="#ffbcbc" stroke-width="1.1"/>
<polyline points="33.91,152.29 34.19,153.42 34.48,154.48 34.76,155.4 34.77,155.43 35.06,156.19 35.34,156.74 35.61,157.17 35.63,157.2 35.92,157.6 36.21,157.96 36.47,158.25 36.49,158.27 36.78,158.54 37.07,158.77 37.32,158.93 37.35,158.95 37.64,159.1 37.93,159.25 38.17,159.37 38.22,159.4 38.5,159.53 38.79,159.66 39.02,159.75 39.08,159.77 39.37,159.87 39.65,159.96 39.88,160.01 39.94,160.03 40.23,160.07 40.52,160.1 40.73,160.11 40.8,160.11 41.09,160.11 41.38,160.11 41.58,160.11 41.67,160.11 41.95,160.11 42.24,160.11 42.44,160.11 42.53,160.11 42.82,160.11 43.1,160.11 43.29,160.11 43.39,160.11 43.68,160.11 43.96,160.11 44.14,160.11 44.25,160.1 44.54,160.07 44.83,160.03 44.99,160 45.11,159.98 45.85,159.8 46.7,159.54 47.55,159.29 48.41,158.99 49.26,158.64 50.11,158.26 50.97,157.86 51.82,157.45 52.67,157.02 53.52,156.57 54.38,156.1 55.23,155.61 56.08,155.11 56.94,154.6 57.79,154.08 58.64,153.54 59.49,152.99 60.35,152.42 61.2,151.84 62.05,151.24 62.91,150.63 63.76,149.98 64.61,149.32 65.47,148.65 66.32,147.97 67.17,147.31 68.02,146.68 68.88,146.08 69.73,145.49 70.58,144.91 71.44,144.33 72.29,143.75 73.14,143.16 73.99,142.54 74.85,141.89 75.7,141.22 76.55,140.53 77.41,139.82 78.26,139.1 79.11,138.37 79.97,137.64 80.82,136.9 81.67,136.17 82.52,135.44 83.38,134.71 84.23,134 85.08,133.29 85.94,132.58 86.79,131.88 87.64,131.18 88.49,130.48 89.35,129.78 90.2,129.08 91.05,128.38 91.91,127.69 92.76,127 93.61,126.31 94.47,125.62 95.32,124.93 96.17,124.25 97.02,123.56 97.88,122.88 98.73,122.2 99.58,121.52 100.44,120.84 101.29,120.17 102.14,119.49 102.99,118.82 103.85,118.15 104.7,117.48 105.55,116.81 106.41,116.14 107.26,115.47 108.11,114.8 108.97,114.14 109.82,113.47 110.67,112.81 111.52,112.15 112.38,111.48 113.23,110.82 114.08,110.16 114.94,109.5 115.79,108.85 116.64,108.19 117.49,107.53 118.35,106.87 119.2,106.22 120.05,105.56 120.91,104.91 121.76,104.25 122.61,103.6 123.46,102.95 124.32,102.29 125.17,101.64 126.02,100.99 126.88,100.34 127.73,99.68 128.58,99.03 129.44,98.38 130.29,97.73 131.14,97.08 131.99,96.43 132.85,95.78 133.7,95.13 134.55,94.47 135.41,93.82 136.26,93.17 137.11,92.52 137.96,91.87 138.82,91.22 139.67,90.56 140.52,89.91 141.38,89.26 142.23,88.61 143.08,87.95 143.94,87.3 144.79,86.64 145.64,85.99 146.49,85.33 147.35,84.68 148.2,84.02 149.05,83.36 149.91,82.7 150.76,82.05 151.61,81.39 152.46,80.73 153.32,80.06 154.17,79.4 155.02,78.74 155.88,78.07 156.73,77.41 157.58,76.74 158.44,76.08 159.29,75.41 160.14,74.74 160.99,74.07 161.85,73.4 162.7,72.72 163.55,72.05 164.41,71.37 165.26,70.69 166.11,70.02 166.96,69.34 167.82,68.65 168.67,67.97 169.52,67.29 170.38,66.6 171.23,65.91 172.08,65.22 172.94,64.53 173.79,63.84 174.64,63.15 175.49,62.45 176.35,61.75 177.2,61.05 178.05,60.35 178.91,59.65 179.76,58.94 180.61,58.23 181.46,57.52 182.32,56.81 183.17,56.1 184.02,55.38 184.88,54.66 185.73,53.94 186.58,53.22 187.44,52.49 188.29,51.76 189.14,51.03 189.99,50.3 190.85,49.57 191.7,48.83 192.55,48.09 193.41,47.35 194.26,46.6 195.11,45.85 195.96,45.1 196.82,44.35 197.67,43.59 198.52,42.83 199.38,42.07 200.23,41.31 201.08,40.54 201.94,39.77 202.79,39 203.64,38.22 204.49,37.44 205.35,36.66 206.2,35.88 207.05,35.09 207.91,34.29 208.76,33.5 209.61,32.7 210.46,31.9 211.32,31.1 212.17,30.29 213.02,29.48 213.88,28.66 214.73,27.84 215.58,27.02 216.44,26.19 217.29,25.36 218.14,24.53 218.99,23.7 219.85,22.86 220.7,22.01" fill="none" stroke="#f23a3a" stroke-width="1.1" stroke-linejoin="round"/>
<rect x="114.2" y="32.4" width="56" height="17.7" fill="#fff" stroke="#8c8c8c" stroke-width="0.8"/>
<line x1="116.2" y1="37.3" x2="135.9" y2="37.3" stroke="#c8c8ff" stroke-width="1.0"/>
<line x1="116.2" y1="45.1" x2="135.9" y2="45.1" stroke="#ffc4c4" stroke-width="1.0"/>
<text x="137.6" y="39.4" font-size="5.95" text-anchor="start" fill="#1a1a1a" stroke="#1a1a1a" stroke-width="0.28">white-noise</text>
<text x="137.6" y="47.2" font-size="5.95" text-anchor="start" fill="#1a1a1a" stroke="#1a1a1a" stroke-width="0.28">pink-noise</text>
<text x="130.5" y="212.6" font-family="'Liberation Serif', 'Times New Roman', serif" font-size="13.6" text-anchor="middle" fill="#111">(<tspan font-weight="bold">a</tspan>)</text>
<line x1="325.9" y1="5" x2="325.9" y2="175.1" stroke="#7a7a7a" stroke-width="1.0"/>
<line x1="325.4" y1="174.6" x2="540.3" y2="174.6" stroke="#7a7a7a" stroke-width="1.0"/>
<line x1="325.9" y1="157.85" x2="327.7" y2="157.85" stroke="#7a7a7a" stroke-width="0.7"/>
<text x="323.3" y="160.2" font-size="6.7" text-anchor="end" fill="#1a1a1a" stroke="#1a1a1a" stroke-width="0.28">0.15</text>
<line x1="325.9" y1="140.9" x2="327.7" y2="140.9" stroke="#7a7a7a" stroke-width="0.7"/>
<text x="323.3" y="143.25" font-size="6.7" text-anchor="end" fill="#1a1a1a" stroke="#1a1a1a" stroke-width="0.28">0.2</text>
<line x1="325.9" y1="123.95" x2="327.7" y2="123.95" stroke="#7a7a7a" stroke-width="0.7"/>
<text x="323.3" y="126.3" font-size="6.7" text-anchor="end" fill="#1a1a1a" stroke="#1a1a1a" stroke-width="0.28">0.25</text>
<line x1="325.9" y1="107" x2="327.7" y2="107" stroke="#7a7a7a" stroke-width="0.7"/>
<text x="323.3" y="109.35" font-size="6.7" text-anchor="end" fill="#1a1a1a" stroke="#1a1a1a" stroke-width="0.28">0.3</text>
<line x1="325.9" y1="90.05" x2="327.7" y2="90.05" stroke="#7a7a7a" stroke-width="0.7"/>
<text x="323.3" y="92.4" font-size="6.7" text-anchor="end" fill="#1a1a1a" stroke="#1a1a1a" stroke-width="0.28">0.35</text>
<line x1="325.9" y1="73.1" x2="327.7" y2="73.1" stroke="#7a7a7a" stroke-width="0.7"/>
<text x="323.3" y="75.45" font-size="6.7" text-anchor="end" fill="#1a1a1a" stroke="#1a1a1a" stroke-width="0.28">0.4</text>
<line x1="325.9" y1="56.15" x2="327.7" y2="56.15" stroke="#7a7a7a" stroke-width="0.7"/>
<text x="323.3" y="58.5" font-size="6.7" text-anchor="end" fill="#1a1a1a" stroke="#1a1a1a" stroke-width="0.28">0.45</text>
<line x1="325.9" y1="39.2" x2="327.7" y2="39.2" stroke="#7a7a7a" stroke-width="0.7"/>
<text x="323.3" y="41.55" font-size="6.7" text-anchor="end" fill="#1a1a1a" stroke="#1a1a1a" stroke-width="0.28">0.5</text>
<line x1="325.9" y1="22.25" x2="327.7" y2="22.25" stroke="#7a7a7a" stroke-width="0.7"/>
<text x="323.3" y="24.6" font-size="6.7" text-anchor="end" fill="#1a1a1a" stroke="#1a1a1a" stroke-width="0.28">0.55</text>
<line x1="325.9" y1="5.3" x2="327.7" y2="5.3" stroke="#7a7a7a" stroke-width="0.7"/>
<text x="323.3" y="7.65" font-size="6.7" text-anchor="end" fill="#1a1a1a" stroke="#1a1a1a" stroke-width="0.28">0.6</text>
<line x1="333.4" y1="174.6" x2="333.4" y2="172.8" stroke="#7a7a7a" stroke-width="0.7"/>
<text x="333.4" y="184.6" font-size="6.7" text-anchor="middle" fill="#1a1a1a" stroke="#1a1a1a" stroke-width="0.28">0.4</text>
<line x1="364.08" y1="174.6" x2="364.08" y2="172.8" stroke="#7a7a7a" stroke-width="0.7"/>
<text x="364.08" y="184.6" font-size="6.7" text-anchor="middle" fill="#1a1a1a" stroke="#1a1a1a" stroke-width="0.28">0.5</text>
<line x1="394.76" y1="174.6" x2="394.76" y2="172.8" stroke="#7a7a7a" stroke-width="0.7"/>
<text x="394.76" y="184.6" font-size="6.7" text-anchor="middle" fill="#1a1a1a" stroke="#1a1a1a" stroke-width="0.28">0.6</text>
<line x1="425.44" y1="174.6" x2="425.44" y2="172.8" stroke="#7a7a7a" stroke-width="0.7"/>
<text x="425.44" y="184.6" font-size="6.7" text-anchor="middle" fill="#1a1a1a" stroke="#1a1a1a" stroke-width="0.28">0.7</text>
<line x1="456.12" y1="174.6" x2="456.12" y2="172.8" stroke="#7a7a7a" stroke-width="0.7"/>
<text x="456.12" y="184.6" font-size="6.7" text-anchor="middle" fill="#1a1a1a" stroke="#1a1a1a" stroke-width="0.28">0.8</text>
<line x1="486.8" y1="174.6" x2="486.8" y2="172.8" stroke="#7a7a7a" stroke-width="0.7"/>
<text x="486.8" y="184.6" font-size="6.7" text-anchor="middle" fill="#1a1a1a" stroke="#1a1a1a" stroke-width="0.28">0.9</text>
<line x1="517.48" y1="174.6" x2="517.48" y2="172.8" stroke="#7a7a7a" stroke-width="0.7"/>
<text x="517.48" y="184.6" font-size="6.7" text-anchor="middle" fill="#1a1a1a" stroke="#1a1a1a" stroke-width="0.28">1</text>
<text x="306.4" y="90.6" font-size="7.45" text-anchor="middle" fill="#1a1a1a" stroke="#1a1a1a" stroke-width="0.28" transform="rotate(-90 306.4 90.6)">Complexity,Cq</text>
<text x="432.5" y="194.2" font-size="7.2" text-anchor="middle" fill="#1a1a1a" stroke="#1a1a1a" stroke-width="0.28">Entropy,Hq</text>
<polygon points="427.59,135.72 427.73,137.78 427.86,139.68 428,141.28 428,141.33 428.14,142.72 428.28,144.03 428.41,145.16 428.42,145.23 428.56,146.29 428.69,147.14 428.82,147.72 428.83,147.77 428.97,148.25 429.11,148.69 429.23,149.04 429.25,149.09 429.39,149.45 429.52,149.77 429.64,150.02 429.66,150.07 429.8,150.33 429.94,150.57 430.05,150.75 430.08,150.8 430.22,151 430.35,151.2 430.46,151.35 430.49,151.39 430.63,151.57 430.77,151.75 430.87,151.88 430.91,151.92 431.04,152.08 431.18,152.24 431.28,152.34 431.32,152.38 431.46,152.51 431.6,152.63 431.69,152.7 431.74,152.74 431.87,152.83 432.01,152.9 432.1,152.94 432.15,152.96 432.29,153.01 432.43,153.05 432.51,153.08 432.57,153.09 432.7,153.13 432.84,153.17 432.92,153.19 432.98,153.21 433.33,153.3 433.74,153.38 434.16,153.45 434.57,153.49 434.98,153.52 435.39,153.51 435.8,153.49 436.21,153.44 436.62,153.38 437.03,153.31 437.44,153.23 437.85,153.14 438.26,153.05 438.67,152.96 439.08,152.87 439.49,152.78 439.9,152.69 440.31,152.59 440.72,152.48 441.13,152.38 441.54,152.27 441.95,152.16 442.36,152.05 442.77,151.93 443.19,151.8 443.6,151.68 444.01,151.56 444.42,151.44 444.83,151.32 445.24,151.2 445.65,151.07 446.06,150.93 446.47,150.79 446.88,150.64 447.29,150.49 447.7,150.34 448.11,150.18 448.52,150.02 448.93,149.86 449.34,149.68 449.75,149.51 450.16,149.33 450.57,149.15 450.98,148.96 451.39,148.78 451.81,148.59 452.22,148.4 452.63,148.2 453.04,148.01 453.45,147.82 453.86,147.62 454.27,147.43 454.68,147.23 455.09,147.03 455.5,146.84 455.91,146.64 456.32,146.45 456.73,146.26 457.14,146.08 457.55,145.89 457.96,145.7 458.37,145.51 458.78,145.32 459.19,145.13 459.6,144.94 460.01,144.76 460.43,144.57 460.84,144.38 461.25,144.19 461.66,144 462.07,143.81 462.48,143.62 462.89,143.43 463.3,143.24 463.71,143.05 464.12,142.86 464.53,142.67 464.94,142.48 465.35,142.29 465.76,142.1 466.17,141.91 466.58,141.71 466.99,141.52 467.4,141.33 467.81,141.14 468.22,140.95 468.63,140.75 469.04,140.56 469.46,140.37 469.87,140.17 470.28,139.98 470.69,139.79 471.1,139.59 471.51,139.4 471.92,139.19 472.33,138.99 472.74,138.79 473.15,138.58 473.56,138.38 473.97,138.17 474.38,137.97 474.79,137.76 475.2,137.56 475.61,137.35 476.02,137.15 476.43,136.94 476.84,136.73 477.25,136.52 477.66,136.32 478.08,136.11 478.49,135.9 478.9,135.69 479.31,135.48 479.72,135.27 480.13,135.06 480.54,134.84 480.95,134.63 481.36,134.42 481.77,134.21 482.18,133.99 482.59,133.78 483,133.56 483.41,133.35 483.82,133.13 484.23,132.92 484.64,132.7 485.05,132.48 485.46,132.26 485.87,132.04 486.28,131.82 486.69,131.6 487.11,131.38 487.52,131.16 487.93,130.94 488.34,130.72 488.75,130.49 489.16,130.27 489.57,130.05 489.98,129.82 490.39,129.59 490.8,129.37 491.21,129.14 491.62,128.91 492.03,128.68 492.44,128.45 492.85,128.22 493.26,127.99 493.67,127.76 494.08,127.52 494.49,127.29 494.9,127.06 495.31,126.82 495.73,126.58 496.14,126.35 496.55,126.11 496.96,125.87 497.37,125.63 497.78,125.39 498.19,125.15 498.6,124.91 499.01,124.67 499.42,124.42 499.83,124.18 500.24,123.93 500.65,123.69 501.06,123.44 501.47,123.19 501.88,122.94 502.29,122.69 502.7,122.44 503.11,122.19 503.52,121.93 503.93,121.68 504.35,121.42 504.76,121.17 505.17,120.91 505.58,120.65 505.99,120.39 506.4,120.13 506.81,119.87 507.22,119.61 507.63,119.35 508.04,119.08 508.45,118.82 508.86,118.55 509.27,118.28 509.68,118.01 510.09,117.74 510.5,117.47 510.91,117.2 511.32,116.93 511.73,116.65 512.14,116.38 512.55,116.1 512.96,115.82 513.38,115.55 513.79,115.27 514.2,114.98 514.61,114.7 515.02,114.42 515.43,114.13 515.84,113.85 516.25,113.56 516.66,113.27 517.07,112.98 517.48,112.69 517.48,122.18 517.07,122.43 516.66,122.68 516.25,122.92 515.84,123.17 515.43,123.41 515.02,123.66 514.61,123.9 514.2,124.14 513.79,124.38 513.38,124.61 512.96,124.85 512.55,125.09 512.14,125.32 511.73,125.55 511.32,125.79 510.91,126.02 510.5,126.25 510.09,126.47 509.68,126.7 509.27,126.93 508.86,127.15 508.45,127.38 508.04,127.6 507.63,127.82 507.22,128.04 506.81,128.26 506.4,128.48 505.99,128.7 505.58,128.92 505.17,129.13 504.76,129.35 504.35,129.56 503.93,129.77 503.52,129.99 503.11,130.2 502.7,130.41 502.29,130.62 501.88,130.82 501.47,131.03 501.06,131.24 500.65,131.44 500.24,131.65 499.83,131.85 499.42,132.05 499.01,132.25 498.6,132.45 498.19,132.65 497.78,132.85 497.37,133.05 496.96,133.25 496.55,133.44 496.14,133.64 495.73,133.83 495.31,134.03 494.9,134.22 494.49,134.41 494.08,134.6 493.67,134.79 493.26,134.98 492.85,135.17 492.44,135.36 492.03,135.55 491.62,135.74 491.21,135.92 490.8,136.11 490.39,136.29 489.98,136.48 489.57,136.66 489.16,136.84 488.75,137.02 488.34,137.2 487.93,137.38 487.52,137.56 487.11,137.74 486.69,137.92 486.28,138.1 485.87,138.28 485.46,138.45 485.05,138.63 484.64,138.8 484.23,138.98 483.82,139.15 483.41,139.33 483,139.5 482.59,139.67 482.18,139.84 481.77,140.02 481.36,140.19 480.95,140.36 480.54,140.53 480.13,140.7 479.72,140.86 479.31,141.03 478.9,141.2 478.49,141.37 478.08,141.53 477.66,141.7 477.25,141.87 476.84,142.03 476.43,142.2 476.02,142.36 475.61,142.53 475.2,142.69 474.79,142.85 474.38,143.02 473.97,143.18 473.56,143.34 473.15,143.5 472.74,143.66 472.33,143.83 471.92,143.99 471.51,144.15 471.1,144.31 470.69,144.48 470.28,144.65 469.87,144.81 469.46,144.98 469.04,145.15 468.63,145.31 468.22,145.48 467.81,145.64 467.4,145.81 466.99,145.97 466.58,146.14 466.17,146.3 465.76,146.47 465.35,146.63 464.94,146.79 464.53,146.96 464.12,147.12 463.71,147.28 463.3,147.45 462.89,147.61 462.48,147.77 462.07,147.93 461.66,148.09 461.25,148.26 460.84,148.42 460.43,148.58 460.01,148.74 459.6,148.9 459.19,149.07 458.78,149.23 458.37,149.39 457.96,149.55 457.55,149.71 457.14,149.87 456.73,150.03 456.32,150.2 455.91,150.36 455.5,150.53 455.09,150.69 454.68,150.86 454.27,151.03 453.86,151.2 453.45,151.37 453.04,151.53 452.63,151.7 452.22,151.87 451.81,152.03 451.39,152.19 450.98,152.35 450.57,152.51 450.16,152.66 449.75,152.82 449.34,152.96 448.93,153.11 448.52,153.25 448.11,153.38 447.7,153.51 447.29,153.64 446.88,153.76 446.47,153.88 446.06,153.99 445.65,154.1 445.24,154.2 444.83,154.3 444.42,154.4 444.01,154.48 443.6,154.58 443.19,154.68 442.77,154.77 442.36,154.86 441.95,154.95 441.54,155.04 441.13,155.12 440.72,155.19 440.31,155.26 439.9,155.32 439.49,155.38 439.08,155.43 438.67,155.49 438.26,155.54 437.85,155.6 437.44,155.65 437.03,155.69 436.62,155.73 436.21,155.75 435.8,155.76 435.39,155.75 434.98,155.71 434.57,155.66 434.16,155.57 433.74,155.47 433.33,155.35 432.98,155.23 432.92,155.21 432.84,155.18 432.7,155.13 432.57,155.08 432.51,155.06 432.43,155.02 432.29,154.97 432.15,154.91 432.1,154.89 432.01,154.84 431.87,154.75 431.74,154.65 431.69,154.61 431.6,154.53 431.46,154.4 431.32,154.26 431.28,154.21 431.18,154.1 431.04,153.93 430.91,153.76 430.87,153.71 430.77,153.58 430.63,153.39 430.49,153.19 430.46,153.15 430.35,152.99 430.22,152.78 430.08,152.56 430.05,152.52 429.94,152.33 429.8,152.07 429.66,151.8 429.64,151.75 429.52,151.49 429.39,151.16 429.25,150.78 429.23,150.73 429.11,150.37 428.97,149.92 428.83,149.42 428.82,149.37 428.69,148.79 428.56,147.92 428.42,146.85 428.41,146.78 428.28,145.63 428.14,144.31 428,142.91 428,142.87 427.86,141.25 427.73,139.34 427.59,137.27" fill="#c4c4ff" stroke="none" fill-opacity="0.8"/>
<polyline points="427.59,135.72 427.73,137.78 427.86,139.68 428,141.28 428,141.33 428.14,142.72 428.28,144.03 428.41,145.16 428.42,145.23 428.56,146.29 428.69,147.14 428.82,147.72 428.83,147.77 428.97,148.25 429.11,148.69 429.23,149.04 429.25,149.09 429.39,149.45 429.52,149.77 429.64,150.02 429.66,150.07 429.8,150.33 429.94,150.57 430.05,150.75 430.08,150.8 430.22,151 430.35,151.2 430.46,151.35 430.49,151.39 430.63,151.57 430.77,151.75 430.87,151.88 430.91,151.92 431.04,152.08 431.18,152.24 431.28,152.34 431.32,152.38 431.46,152.51 431.6,152.63 431.69,152.7 431.74,152.74 431.87,152.83 432.01,152.9 432.1,152.94 432.15,152.96 432.29,153.01 432.43,153.05 432.51,153.08 432.57,153.09 432.7,153.13 432.84,153.17 432.92,153.19 432.98,153.21 433.33,153.3 433.74,153.38 434.16,153.45 434.57,153.49 434.98,153.52 435.39,153.51 435.8,153.49 436.21,153.44 436.62,153.38 437.03,153.31 437.44,153.23 437.85,153.14 438.26,153.05 438.67,152.96 439.08,152.87 439.49,152.78 439.9,152.69 440.31,152.59 440.72,152.48 441.13,152.38 441.54,152.27 441.95,152.16 442.36,152.05 442.77,151.93 443.19,151.8 443.6,151.68 444.01,151.56 444.42,151.44 444.83,151.32 445.24,151.2 445.65,151.07 446.06,150.93 446.47,150.79 446.88,150.64 447.29,150.49 447.7,150.34 448.11,150.18 448.52,150.02 448.93,149.86 449.34,149.68 449.75,149.51 450.16,149.33 450.57,149.15 450.98,148.96 451.39,148.78 451.81,148.59 452.22,148.4 452.63,148.2 453.04,148.01 453.45,147.82 453.86,147.62 454.27,147.43 454.68,147.23 455.09,147.03 455.5,146.84 455.91,146.64 456.32,146.45 456.73,146.26 457.14,146.08 457.55,145.89 457.96,145.7 458.37,145.51 458.78,145.32 459.19,145.13 459.6,144.94 460.01,144.76 460.43,144.57 460.84,144.38 461.25,144.19 461.66,144 462.07,143.81 462.48,143.62 462.89,143.43 463.3,143.24 463.71,143.05 464.12,142.86 464.53,142.67 464.94,142.48 465.35,142.29 465.76,142.1 466.17,141.91 466.58,141.71 466.99,141.52 467.4,141.33 467.81,141.14 468.22,140.95 468.63,140.75 469.04,140.56 469.46,140.37 469.87,140.17 470.28,139.98 470.69,139.79 471.1,139.59 471.51,139.4 471.92,139.19 472.33,138.99 472.74,138.79 473.15,138.58 473.56,138.38 473.97,138.17 474.38,137.97 474.79,137.76 475.2,137.56 475.61,137.35 476.02,137.15 476.43,136.94 476.84,136.73 477.25,136.52 477.66,136.32 478.08,136.11 478.49,135.9 478.9,135.69 479.31,135.48 479.72,135.27 480.13,135.06 480.54,134.84 480.95,134.63 481.36,134.42 481.77,134.21 482.18,133.99 482.59,133.78 483,133.56 483.41,133.35 483.82,133.13 484.23,132.92 484.64,132.7 485.05,132.48 485.46,132.26 485.87,132.04 486.28,131.82 486.69,131.6 487.11,131.38 487.52,131.16 487.93,130.94 488.34,130.72 488.75,130.49 489.16,130.27 489.57,130.05 489.98,129.82 490.39,129.59 490.8,129.37 491.21,129.14 491.62,128.91 492.03,128.68 492.44,128.45 492.85,128.22 493.26,127.99 493.67,127.76 494.08,127.52 494.49,127.29 494.9,127.06 495.31,126.82 495.73,126.58 496.14,126.35 496.55,126.11 496.96,125.87 497.37,125.63 497.78,125.39 498.19,125.15 498.6,124.91 499.01,124.67 499.42,124.42 499.83,124.18 500.24,123.93 500.65,123.69 501.06,123.44 501.47,123.19 501.88,122.94 502.29,122.69 502.7,122.44 503.11,122.19 503.52,121.93 503.93,121.68 504.35,121.42 504.76,121.17 505.17,120.91 505.58,120.65 505.99,120.39 506.4,120.13 506.81,119.87 507.22,119.61 507.63,119.35 508.04,119.08 508.45,118.82 508.86,118.55 509.27,118.28 509.68,118.01 510.09,117.74 510.5,117.47 510.91,117.2 511.32,116.93 511.73,116.65 512.14,116.38 512.55,116.1 512.96,115.82 513.38,115.55 513.79,115.27 514.2,114.98 514.61,114.7 515.02,114.42 515.43,114.13 515.84,113.85 516.25,113.56 516.66,113.27 517.07,112.98 517.48,112.69" fill="none" stroke="#a8a8ff" stroke-width="0.6" stroke-linejoin="round"/>
<polyline points="427.59,137.27 427.73,139.34 427.86,141.25 428,142.87 428,142.91 428.14,144.31 428.28,145.63 428.41,146.78 428.42,146.85 428.56,147.92 428.69,148.79 428.82,149.37 428.83,149.42 428.97,149.92 429.11,150.37 429.23,150.73 429.25,150.78 429.39,151.16 429.52,151.49 429.64,151.75 429.66,151.8 429.8,152.07 429.94,152.33 430.05,152.52 430.08,152.56 430.22,152.78 430.35,152.99 430.46,153.15 430.49,153.19 430.63,153.39 430.77,153.58 430.87,153.71 430.91,153.76 431.04,153.93 431.18,154.1 431.28,154.21 431.32,154.26 431.46,154.4 431.6,154.53 431.69,154.61 431.74,154.65 431.87,154.75 432.01,154.84 432.1,154.89 432.15,154.91 432.29,154.97 432.43,155.02 432.51,155.06 432.57,155.08 432.7,155.13 432.84,155.18 432.92,155.21 432.98,155.23 433.33,155.35 433.74,155.47 434.16,155.57 434.57,155.66 434.98,155.71 435.39,155.75 435.8,155.76 436.21,155.75 436.62,155.73 437.03,155.69 437.44,155.65 437.85,155.6 438.26,155.54 438.67,155.49 439.08,155.43 439.49,155.38 439.9,155.32 440.31,155.26 440.72,155.19 441.13,155.12 441.54,155.04 441.95,154.95 442.36,154.86 442.77,154.77 443.19,154.68 443.6,154.58 444.01,154.48 444.42,154.4 444.83,154.3 445.24,154.2 445.65,154.1 446.06,153.99 446.47,153.88 446.88,153.76 447.29,153.64 447.7,153.51 448.11,153.38 448.52,153.25 448.93,153.11 449.34,152.96 449.75,152.82 450.16,152.66 450.57,152.51 450.98,152.35 451.39,152.19 451.81,152.03 452.22,151.87 452.63,151.7 453.04,151.53 453.45,151.37 453.86,151.2 454.27,151.03 454.68,150.86 455.09,150.69 455.5,150.53 455.91,150.36 456.32,150.2 456.73,150.03 457.14,149.87 457.55,149.71 457.96,149.55 458.37,149.39 458.78,149.23 459.19,149.07 459.6,148.9 460.01,148.74 460.43,148.58 460.84,148.42 461.25,148.26 461.66,148.09 462.07,147.93 462.48,147.77 462.89,147.61 463.3,147.45 463.71,147.28 464.12,147.12 464.53,146.96 464.94,146.79 465.35,146.63 465.76,146.47 466.17,146.3 466.58,146.14 466.99,145.97 467.4,145.81 467.81,145.64 468.22,145.48 468.63,145.31 469.04,145.15 469.46,144.98 469.87,144.81 470.28,144.65 470.69,144.48 471.1,144.31 471.51,144.15 471.92,143.99 472.33,143.83 472.74,143.66 473.15,143.5 473.56,143.34 473.97,143.18 474.38,143.02 474.79,142.85 475.2,142.69 475.61,142.53 476.02,142.36 476.43,142.2 476.84,142.03 477.25,141.87 477.66,141.7 478.08,141.53 478.49,141.37 478.9,141.2 479.31,141.03 479.72,140.86 480.13,140.7 480.54,140.53 480.95,140.36 481.36,140.19 481.77,140.02 482.18,139.84 482.59,139.67 483,139.5 483.41,139.33 483.82,139.15 484.23,138.98 484.64,138.8 485.05,138.63 485.46,138.45 485.87,138.28 486.28,138.1 486.69,137.92 487.11,137.74 487.52,137.56 487.93,137.38 488.34,137.2 488.75,137.02 489.16,136.84 489.57,136.66 489.98,136.48 490.39,136.29 490.8,136.11 491.21,135.92 491.62,135.74 492.03,135.55 492.44,135.36 492.85,135.17 493.26,134.98 493.67,134.79 494.08,134.6 494.49,134.41 494.9,134.22 495.31,134.03 495.73,133.83 496.14,133.64 496.55,133.44 496.96,133.25 497.37,133.05 497.78,132.85 498.19,132.65 498.6,132.45 499.01,132.25 499.42,132.05 499.83,131.85 500.24,131.65 500.65,131.44 501.06,131.24 501.47,131.03 501.88,130.82 502.29,130.62 502.7,130.41 503.11,130.2 503.52,129.99 503.93,129.77 504.35,129.56 504.76,129.35 505.17,129.13 505.58,128.92 505.99,128.7 506.4,128.48 506.81,128.26 507.22,128.04 507.63,127.82 508.04,127.6 508.45,127.38 508.86,127.15 509.27,126.93 509.68,126.7 510.09,126.47 510.5,126.25 510.91,126.02 511.32,125.79 511.73,125.55 512.14,125.32 512.55,125.09 512.96,124.85 513.38,124.61 513.79,124.38 514.2,124.14 514.61,123.9 515.02,123.66 515.43,123.41 515.84,123.17 516.25,122.92 516.66,122.68 517.07,122.43 517.48,122.18" fill="none" stroke="#a8a8ff" stroke-width="0.6" stroke-linejoin="round"/>
<line x1="517.48" y1="112.69" x2="517.48" y2="158.53" stroke="#b4b4ff" stroke-width="1.3"/>
<polyline points="427.59,136.49 427.73,138.56 427.86,140.47 428,142.07 428,142.12 428.14,143.52 428.28,144.83 428.41,145.97 428.42,146.04 428.56,147.1 428.69,147.97 428.82,148.54 428.83,148.59 428.97,149.09 429.11,149.53 429.23,149.89 429.25,149.94 429.39,150.3 429.52,150.63 429.64,150.89 429.66,150.93 429.8,151.2 429.94,151.45 430.05,151.64 430.08,151.68 430.22,151.89 430.35,152.09 430.46,152.25 430.49,152.29 430.63,152.48 430.77,152.66 430.87,152.8 430.91,152.84 431.04,153.01 431.18,153.17 431.28,153.28 431.32,153.32 431.46,153.46 431.6,153.58 431.69,153.66 431.74,153.69 431.87,153.79 432.01,153.87 432.1,153.92 432.15,153.94 432.29,153.99 432.43,154.04 432.51,154.07 432.57,154.09 432.7,154.13 432.84,154.18 432.92,154.2 432.98,154.22 433.33,154.32 433.74,154.43 434.16,154.51 434.57,154.57 434.98,154.61 435.39,154.63 435.8,154.62 436.21,154.6 436.62,154.55 437.03,154.5 437.44,154.44 437.85,154.37 438.26,154.3 438.67,154.22 439.08,154.15 439.49,154.08 439.9,154 440.31,153.92 440.72,153.84 441.13,153.75 441.54,153.65 441.95,153.56 442.36,153.45 442.77,153.35 443.19,153.24 443.6,153.13 444.01,153.02 444.42,152.92 444.83,152.81 445.24,152.7 445.65,152.58 446.06,152.46 446.47,152.33 446.88,152.2 447.29,152.06 447.7,151.92 448.11,151.78 448.52,151.63 448.93,151.48 449.34,151.32 449.75,151.16 450.16,151 450.57,150.83 450.98,150.66 451.39,150.48 451.81,150.31 452.22,150.13 452.63,149.95 453.04,149.77 453.45,149.59 453.86,149.41 454.27,149.23 454.68,149.05 455.09,148.86 455.5,148.68 455.91,148.5 456.32,148.32 456.73,148.15 457.14,147.97 457.55,147.8 457.96,147.62 458.37,147.45 458.78,147.27 459.19,147.1 459.6,146.92 460.01,146.75 460.43,146.57 460.84,146.4 461.25,146.22 461.66,146.05 462.07,145.87 462.48,145.7 462.89,145.52 463.3,145.34 463.71,145.17 464.12,144.99 464.53,144.81 464.94,144.64 465.35,144.46 465.76,144.28 466.17,144.1 466.58,143.93 466.99,143.75 467.4,143.57 467.81,143.39 468.22,143.21 468.63,143.03 469.04,142.85 469.46,142.67 469.87,142.49 470.28,142.31 470.69,142.13 471.1,141.95 471.51,141.77 471.92,141.59 472.33,141.41 472.74,141.23 473.15,141.04 473.56,140.86 473.97,140.68 474.38,140.49 474.79,140.31 475.2,140.12 475.61,139.94 476.02,139.75 476.43,139.57 476.84,139.38 477.25,139.2 477.66,139.01 478.08,138.82 478.49,138.63 478.9,138.44 479.31,138.26 479.72,138.07 480.13,137.88 480.54,137.69 480.95,137.49 481.36,137.3 481.77,137.11 482.18,136.92 482.59,136.73 483,136.53 483.41,136.34 483.82,136.14 484.23,135.95 484.64,135.75 485.05,135.56 485.46,135.36 485.87,135.16 486.28,134.96 486.69,134.76 487.11,134.56 487.52,134.36 487.93,134.16 488.34,133.96 488.75,133.76 489.16,133.56 489.57,133.35 489.98,133.15 490.39,132.94 490.8,132.74 491.21,132.53 491.62,132.32 492.03,132.12 492.44,131.91 492.85,131.7 493.26,131.49 493.67,131.28 494.08,131.06 494.49,130.85 494.9,130.64 495.31,130.42 495.73,130.21 496.14,129.99 496.55,129.78 496.96,129.56 497.37,129.34 497.78,129.12 498.19,128.9 498.6,128.68 499.01,128.46 499.42,128.24 499.83,128.01 500.24,127.79 500.65,127.56 501.06,127.34 501.47,127.11 501.88,126.88 502.29,126.65 502.7,126.42 503.11,126.19 503.52,125.96 503.93,125.73 504.35,125.49 504.76,125.26 505.17,125.02 505.58,124.78 505.99,124.55 506.4,124.31 506.81,124.07 507.22,123.83 507.63,123.58 508.04,123.34 508.45,123.1 508.86,122.85 509.27,122.61 509.68,122.36 510.09,122.11 510.5,121.86 510.91,121.61 511.32,121.36 511.73,121.1 512.14,120.85 512.55,120.59 512.96,120.34 513.38,120.08 513.79,119.82 514.2,119.56 514.61,119.3 515.02,119.04 515.43,118.77 515.84,118.51 516.25,118.24 516.66,117.97 517.07,117.71 517.48,117.44" fill="none" stroke="#3a3af5" stroke-width="0.9" stroke-linejoin="round"/>
<polygon points="333.71,127 333.99,128.94 334.27,130.68 334.55,132.05 334.55,132.08 334.84,133.03 335.12,133.79 335.39,134.4 335.4,134.44 335.69,134.99 335.97,135.43 336.22,135.75 336.25,135.78 336.53,136.05 336.82,136.32 337.06,136.53 337.1,136.57 337.38,136.8 337.66,137.01 337.9,137.17 337.95,137.2 338.23,137.36 338.51,137.5 338.74,137.58 338.8,137.6 339.08,137.67 339.36,137.7 339.58,137.69 339.64,137.69 339.93,137.68 340.21,137.66 340.42,137.65 340.49,137.64 340.77,137.61 341.06,137.58 341.26,137.55 341.34,137.54 341.62,137.5 341.91,137.46 342.1,137.43 342.19,137.41 342.47,137.37 342.75,137.32 342.94,137.29 343.04,137.27 343.32,137.2 343.6,137.13 343.78,137.08 343.89,137.05 344.17,136.96 344.45,136.86 344.62,136.8 344.73,136.76 345.45,136.46 346.29,136.09 347.13,135.68 347.97,135.27 348.81,134.86 349.65,134.46 350.49,134.02 351.33,133.56 352.17,133.1 353.01,132.63 353.85,132.16 354.69,131.67 355.52,131.19 356.36,130.69 357.2,130.18 358.04,129.66 358.88,129.13 359.72,128.59 360.56,128.04 361.4,127.48 362.24,126.92 363.08,126.34 363.92,125.77 364.76,125.19 365.59,124.62 366.43,124.05 367.27,123.47 368.11,122.9 368.95,122.32 369.79,121.75 370.63,121.17 371.47,120.59 372.31,120.01 373.15,119.43 373.99,118.85 374.83,118.27 375.66,117.69 376.5,117.11 377.34,116.52 378.18,115.94 379.02,115.35 379.86,114.77 380.7,114.18 381.54,113.6 382.38,113.01 383.22,112.42 384.06,111.83 384.89,111.24 385.73,110.65 386.57,110.06 387.41,109.47 388.25,108.87 389.09,108.28 389.93,107.69 390.77,107.09 391.61,106.5 392.45,105.9 393.29,105.3 394.13,104.71 394.96,104.11 395.8,103.51 396.64,102.91 397.48,102.3 398.32,101.7 399.16,101.1 400,100.49 400.84,99.89 401.68,99.29 402.52,98.68 403.36,98.07 404.2,97.47 405.03,96.86 405.87,96.25 406.71,95.65 407.55,95.04 408.39,94.43 409.23,93.82 410.07,93.21 410.91,92.6 411.75,91.99 412.59,91.38 413.43,90.77 414.26,90.15 415.1,89.54 415.94,88.93 416.78,88.32 417.62,87.7 418.46,87.09 419.3,86.47 420.14,85.86 420.98,85.24 421.82,84.63 422.66,84.01 423.5,83.4 424.33,82.78 425.17,82.16 426.01,81.54 426.85,80.93 427.69,80.31 428.53,79.69 429.37,79.07 430.21,78.45 431.05,77.83 431.89,77.21 432.73,76.59 433.57,75.97 434.4,75.35 435.24,74.73 436.08,74.11 436.92,73.49 437.76,72.87 438.6,72.25 439.44,71.63 440.28,71 441.12,70.38 441.96,69.76 442.8,69.14 443.64,68.51 444.47,67.89 445.31,67.27 446.15,66.64 446.99,66.02 447.83,65.4 448.67,64.77 449.51,64.15 450.35,63.53 451.19,62.9 452.03,62.28 452.87,61.65 453.7,61.03 454.54,60.41 455.38,59.78 456.22,59.16 457.06,58.54 457.9,57.92 458.74,57.3 459.58,56.68 460.42,56.06 461.26,55.44 462.1,54.82 462.94,54.2 463.77,53.58 464.61,52.96 465.45,52.34 466.29,51.72 467.13,51.09 467.97,50.47 468.81,49.85 469.65,49.23 470.49,48.61 471.33,47.99 472.17,47.38 473.01,46.76 473.84,46.14 474.68,45.52 475.52,44.9 476.36,44.28 477.2,43.66 478.04,43.04 478.88,42.42 479.72,41.8 480.56,41.18 481.4,40.56 482.24,39.95 483.07,39.33 483.91,38.71 484.75,38.09 485.59,37.47 486.43,36.86 487.27,36.24 488.11,35.62 488.95,35 489.79,34.39 490.63,33.77 491.47,33.16 492.31,32.54 493.14,31.92 493.98,31.31 494.82,30.69 495.66,30.08 496.5,29.46 497.34,28.85 498.18,28.24 499.02,27.62 499.86,27.01 500.7,26.4 501.54,25.78 502.38,25.17 503.21,24.56 504.05,23.95 504.89,23.34 505.73,22.73 506.57,22.11 507.41,21.5 508.25,20.89 509.09,20.29 509.93,19.68 510.77,19.07 511.61,18.46 512.45,17.85 513.28,17.24 514.12,16.64 514.96,16.03 515.8,15.43 516.64,14.82 517.48,14.22 517.48,20.32 516.64,20.9 515.8,21.49 514.96,22.08 514.12,22.67 513.28,23.25 512.45,23.84 511.61,24.43 510.77,25.02 509.93,25.61 509.09,26.2 508.25,26.79 507.41,27.38 506.57,27.98 505.73,28.57 504.89,29.16 504.05,29.75 503.21,30.35 502.38,30.94 501.54,31.53 500.7,32.13 499.86,32.72 499.02,33.32 498.18,33.91 497.34,34.51 496.5,35.1 495.66,35.7 494.82,36.3 493.98,36.89 493.14,37.49 492.31,38.09 491.47,38.68 490.63,39.28 489.79,39.88 488.95,40.48 488.11,41.07 487.27,41.67 486.43,42.27 485.59,42.87 484.75,43.47 483.91,44.07 483.07,44.67 482.24,45.27 481.4,45.87 480.56,46.47 479.72,47.07 478.88,47.67 478.04,48.27 477.2,48.87 476.36,49.47 475.52,50.07 474.68,50.67 473.84,51.27 473.01,51.87 472.17,52.48 471.33,53.08 470.49,53.68 469.65,54.28 468.81,54.88 467.97,55.48 467.13,56.08 466.29,56.69 465.45,57.29 464.61,57.89 463.77,58.49 462.94,59.09 462.1,59.69 461.26,60.3 460.42,60.9 459.58,61.5 458.74,62.1 457.9,62.7 457.06,63.3 456.22,63.91 455.38,64.5 454.54,65.1 453.7,65.7 452.87,66.29 452.03,66.89 451.19,67.48 450.35,68.08 449.51,68.68 448.67,69.27 447.83,69.87 446.99,70.46 446.15,71.06 445.31,71.66 444.47,72.25 443.64,72.85 442.8,73.44 441.96,74.04 441.12,74.63 440.28,75.22 439.44,75.82 438.6,76.41 437.76,77.01 436.92,77.6 436.08,78.19 435.24,78.79 434.4,79.38 433.57,79.97 432.73,80.56 431.89,81.16 431.05,81.75 430.21,82.34 429.37,82.93 428.53,83.52 427.69,84.11 426.85,84.7 426.01,85.29 425.17,85.88 424.33,86.47 423.5,87.06 422.66,87.65 421.82,88.24 420.98,88.82 420.14,89.41 419.3,90 418.46,90.59 417.62,91.17 416.78,91.76 415.94,92.34 415.1,92.93 414.26,93.51 413.43,94.1 412.59,94.68 411.75,95.26 410.91,95.85 410.07,96.43 409.23,97.01 408.39,97.59 407.55,98.17 406.71,98.75 405.87,99.33 405.03,99.91 404.2,100.49 403.36,101.07 402.52,101.65 401.68,102.23 400.84,102.8 400,103.38 399.16,103.96 398.32,104.53 397.48,105.11 396.64,105.68 395.8,106.25 394.96,106.83 394.13,107.4 393.29,107.97 392.45,108.55 391.61,109.12 390.77,109.69 389.93,110.26 389.09,110.83 388.25,111.4 387.41,111.97 386.57,112.54 385.73,113.11 384.89,113.68 384.06,114.25 383.22,114.81 382.38,115.38 381.54,115.94 380.7,116.51 379.86,117.07 379.02,117.63 378.18,118.19 377.34,118.75 376.5,119.31 375.66,119.87 374.83,120.43 373.99,120.99 373.15,121.55 372.31,122.1 371.47,122.66 370.63,123.21 369.79,123.77 368.95,124.32 368.11,124.87 367.27,125.43 366.43,125.98 365.59,126.53 364.76,127.07 363.92,127.63 363.08,128.18 362.24,128.73 361.4,129.27 360.56,129.81 359.72,130.33 358.88,130.85 358.04,131.36 357.2,131.86 356.36,132.34 355.52,132.81 354.69,133.28 353.85,133.74 353.01,134.19 352.17,134.63 351.33,135.07 350.49,135.51 349.65,135.92 348.81,136.31 347.97,136.69 347.13,137.08 346.29,137.46 345.45,137.81 344.73,138.09 344.62,138.13 344.45,138.18 344.17,138.27 343.89,138.35 343.78,138.38 343.6,138.43 343.32,138.49 343.04,138.55 342.94,138.57 342.75,138.6 342.47,138.64 342.19,138.67 342.1,138.69 341.91,138.71 341.62,138.74 341.34,138.78 341.26,138.78 341.06,138.8 340.77,138.83 340.49,138.85 340.42,138.86 340.21,138.87 339.93,138.88 339.64,138.88 339.58,138.88 339.36,138.88 339.08,138.84 338.8,138.77 338.74,138.75 338.51,138.66 338.23,138.51 337.95,138.34 337.9,138.31 337.66,138.15 337.38,137.92 337.1,137.68 337.06,137.65 336.82,137.43 336.53,137.16 336.25,136.87 336.22,136.84 335.97,136.52 335.69,136.07 335.4,135.51 335.39,135.47 335.12,134.85 334.84,134.09 334.55,133.13 334.55,133.09 334.27,131.72 333.99,129.97 333.71,128.02" fill="#ffd0d0" stroke="none" fill-opacity="0.8"/>
<polyline points="333.71,127 333.99,128.94 334.27,130.68 334.55,132.05 334.55,132.08 334.84,133.03 335.12,133.79 335.39,134.4 335.4,134.44 335.69,134.99 335.97,135.43 336.22,135.75 336.25,135.78 336.53,136.05 336.82,136.32 337.06,136.53 337.1,136.57 337.38,136.8 337.66,137.01 337.9,137.17 337.95,137.2 338.23,137.36 338.51,137.5 338.74,137.58 338.8,137.6 339.08,137.67 339.36,137.7 339.58,137.69 339.64,137.69 339.93,137.68 340.21,137.66 340.42,137.65 340.49,137.64 340.77,137.61 341.06,137.58 341.26,137.55 341.34,137.54 341.62,137.5 341.91,137.46 342.1,137.43 342.19,137.41 342.47,137.37 342.75,137.32 342.94,137.29 343.04,137.27 343.32,137.2 343.6,137.13 343.78,137.08 343.89,137.05 344.17,136.96 344.45,136.86 344.62,136.8 344.73,136.76 345.45,136.46 346.29,136.09 347.13,135.68 347.97,135.27 348.81,134.86 349.65,134.46 350.49,134.02 351.33,133.56 352.17,133.1 353.01,132.63 353.85,132.16 354.69,131.67 355.52,131.19 356.36,130.69 357.2,130.18 358.04,129.66 358.88,129.13 359.72,128.59 360.56,128.04 361.4,127.48 362.24,126.92 363.08,126.34 363.92,125.77 364.76,125.19 365.59,124.62 366.43,124.05 367.27,123.47 368.11,122.9 368.95,122.32 369.79,121.75 370.63,121.17 371.47,120.59 372.31,120.01 373.15,119.43 373.99,118.85 374.83,118.27 375.66,117.69 376.5,117.11 377.34,116.52 378.18,115.94 379.02,115.35 379.86,114.77 380.7,114.18 381.54,113.6 382.38,113.01 383.22,112.42 384.06,111.83 384.89,111.24 385.73,110.65 386.57,110.06 387.41,109.47 388.25,108.87 389.09,108.28 389.93,107.69 390.77,107.09 391.61,106.5 392.45,105.9 393.29,105.3 394.13,104.71 394.96,104.11 395.8,103.51 396.64,102.91 397.48,102.3 398.32,101.7 399.16,101.1 400,100.49 400.84,99.89 401.68,99.29 402.52,98.68 403.36,98.07 404.2,97.47 405.03,96.86 405.87,96.25 406.71,95.65 407.55,95.04 408.39,94.43 409.23,93.82 410.07,93.21 410.91,92.6 411.75,91.99 412.59,91.38 413.43,90.77 414.26,90.15 415.1,89.54 415.94,88.93 416.78,88.32 417.62,87.7 418.46,87.09 419.3,86.47 420.14,85.86 420.98,85.24 421.82,84.63 422.66,84.01 423.5,83.4 424.33,82.78 425.17,82.16 426.01,81.54 426.85,80.93 427.69,80.31 428.53,79.69 429.37,79.07 430.21,78.45 431.05,77.83 431.89,77.21 432.73,76.59 433.57,75.97 434.4,75.35 435.24,74.73 436.08,74.11 436.92,73.49 437.76,72.87 438.6,72.25 439.44,71.63 440.28,71 441.12,70.38 441.96,69.76 442.8,69.14 443.64,68.51 444.47,67.89 445.31,67.27 446.15,66.64 446.99,66.02 447.83,65.4 448.67,64.77 449.51,64.15 450.35,63.53 451.19,62.9 452.03,62.28 452.87,61.65 453.7,61.03 454.54,60.41 455.38,59.78 456.22,59.16 457.06,58.54 457.9,57.92 458.74,57.3 459.58,56.68 460.42,56.06 461.26,55.44 462.1,54.82 462.94,54.2 463.77,53.58 464.61,52.96 465.45,52.34 466.29,51.72 467.13,51.09 467.97,50.47 468.81,49.85 469.65,49.23 470.49,48.61 471.33,47.99 472.17,47.38 473.01,46.76 473.84,46.14 474.68,45.52 475.52,44.9 476.36,44.28 477.2,43.66 478.04,43.04 478.88,42.42 479.72,41.8 480.56,41.18 481.4,40.56 482.24,39.95 483.07,39.33 483.91,38.71 484.75,38.09 485.59,37.47 486.43,36.86 487.27,36.24 488.11,35.62 488.95,35 489.79,34.39 490.63,33.77 491.47,33.16 492.31,32.54 493.14,31.92 493.98,31.31 494.82,30.69 495.66,30.08 496.5,29.46 497.34,28.85 498.18,28.24 499.02,27.62 499.86,27.01 500.7,26.4 501.54,25.78 502.38,25.17 503.21,24.56 504.05,23.95 504.89,23.34 505.73,22.73 506.57,22.11 507.41,21.5 508.25,20.89 509.09,20.29 509.93,19.68 510.77,19.07 511.61,18.46 512.45,17.85 513.28,17.24 514.12,16.64 514.96,16.03 515.8,15.43 516.64,14.82 517.48,14.22" fill="none" stroke="#ffa0a0" stroke-width="0.6" stroke-linejoin="round"/>
<polyline points="333.71,128.02 333.99,129.97 334.27,131.72 334.55,133.09 334.55,133.13 334.84,134.09 335.12,134.85 335.39,135.47 335.4,135.51 335.69,136.07 335.97,136.52 336.22,136.84 336.25,136.87 336.53,137.16 336.82,137.43 337.06,137.65 337.1,137.68 337.38,137.92 337.66,138.15 337.9,138.31 337.95,138.34 338.23,138.51 338.51,138.66 338.74,138.75 338.8,138.77 339.08,138.84 339.36,138.88 339.58,138.88 339.64,138.88 339.93,138.88 340.21,138.87 340.42,138.86 340.49,138.85 340.77,138.83 341.06,138.8 341.26,138.78 341.34,138.78 341.62,138.74 341.91,138.71 342.1,138.69 342.19,138.67 342.47,138.64 342.75,138.6 342.94,138.57 343.04,138.55 343.32,138.49 343.6,138.43 343.78,138.38 343.89,138.35 344.17,138.27 344.45,138.18 344.62,138.13 344.73,138.09 345.45,137.81 346.29,137.46 347.13,137.08 347.97,136.69 348.81,136.31 349.65,135.92 350.49,135.51 351.33,135.07 352.17,134.63 353.01,134.19 353.85,133.74 354.69,133.28 355.52,132.81 356.36,132.34 357.2,131.86 358.04,131.36 358.88,130.85 359.72,130.33 360.56,129.81 361.4,129.27 362.24,128.73 363.08,128.18 363.92,127.63 364.76,127.07 365.59,126.53 366.43,125.98 367.27,125.43 368.11,124.87 368.95,124.32 369.79,123.77 370.63,123.21 371.47,122.66 372.31,122.1 373.15,121.55 373.99,120.99 374.83,120.43 375.66,119.87 376.5,119.31 377.34,118.75 378.18,118.19 379.02,117.63 379.86,117.07 380.7,116.51 381.54,115.94 382.38,115.38 383.22,114.81 384.06,114.25 384.89,113.68 385.73,113.11 386.57,112.54 387.41,111.97 388.25,111.4 389.09,110.83 389.93,110.26 390.77,109.69 391.61,109.12 392.45,108.55 393.29,107.97 394.13,107.4 394.96,106.83 395.8,106.25 396.64,105.68 397.48,105.11 398.32,104.53 399.16,103.96 400,103.38 400.84,102.8 401.68,102.23 402.52,101.65 403.36,101.07 404.2,100.49 405.03,99.91 405.87,99.33 406.71,98.75 407.55,98.17 408.39,97.59 409.23,97.01 410.07,96.43 410.91,95.85 411.75,95.26 412.59,94.68 413.43,94.1 414.26,93.51 415.1,92.93 415.94,92.34 416.78,91.76 417.62,91.17 418.46,90.59 419.3,90 420.14,89.41 420.98,88.82 421.82,88.24 422.66,87.65 423.5,87.06 424.33,86.47 425.17,85.88 426.01,85.29 426.85,84.7 427.69,84.11 428.53,83.52 429.37,82.93 430.21,82.34 431.05,81.75 431.89,81.16 432.73,80.56 433.57,79.97 434.4,79.38 435.24,78.79 436.08,78.19 436.92,77.6 437.76,77.01 438.6,76.41 439.44,75.82 440.28,75.22 441.12,74.63 441.96,74.04 442.8,73.44 443.64,72.85 444.47,72.25 445.31,71.66 446.15,71.06 446.99,70.46 447.83,69.87 448.67,69.27 449.51,68.68 450.35,68.08 451.19,67.48 452.03,66.89 452.87,66.29 453.7,65.7 454.54,65.1 455.38,64.5 456.22,63.91 457.06,63.3 457.9,62.7 458.74,62.1 459.58,61.5 460.42,60.9 461.26,60.3 462.1,59.69 462.94,59.09 463.77,58.49 464.61,57.89 465.45,57.29 466.29,56.69 467.13,56.08 467.97,55.48 468.81,54.88 469.65,54.28 470.49,53.68 471.33,53.08 472.17,52.48 473.01,51.87 473.84,51.27 474.68,50.67 475.52,50.07 476.36,49.47 477.2,48.87 478.04,48.27 478.88,47.67 479.72,47.07 480.56,46.47 481.4,45.87 482.24,45.27 483.07,44.67 483.91,44.07 484.75,43.47 485.59,42.87 486.43,42.27 487.27,41.67 488.11,41.07 488.95,40.48 489.79,39.88 490.63,39.28 491.47,38.68 492.31,38.09 493.14,37.49 493.98,36.89 494.82,36.3 495.66,35.7 496.5,35.1 497.34,34.51 498.18,33.91 499.02,33.32 499.86,32.72 500.7,32.13 501.54,31.53 502.38,30.94 503.21,30.35 504.05,29.75 504.89,29.16 505.73,28.57 506.57,27.98 507.41,27.38 508.25,26.79 509.09,26.2 509.93,25.61 510.77,25.02 511.61,24.43 512.45,23.84 513.28,23.25 514.12,22.67 514.96,22.08 515.8,21.49 516.64,20.9 517.48,20.32" fill="none" stroke="#ffa0a0" stroke-width="0.6" stroke-linejoin="round"/>
<line x1="517.48" y1="14.22" x2="517.48" y2="91.07" stroke="#ffbcbc" stroke-width="1.1"/>
<polyline points="333.71,127.51 333.99,129.45 334.27,131.2 334.55,132.57 334.55,132.61 334.84,133.56 335.12,134.32 335.39,134.94 335.4,134.98 335.69,135.53 335.97,135.98 336.22,136.3 336.25,136.33 336.53,136.61 336.82,136.87 337.06,137.09 337.1,137.12 337.38,137.36 337.66,137.58 337.9,137.74 337.95,137.77 338.23,137.94 338.51,138.08 338.74,138.17 338.8,138.18 339.08,138.26 339.36,138.29 339.58,138.29 339.64,138.29 339.93,138.28 340.21,138.27 340.42,138.25 340.49,138.24 340.77,138.22 341.06,138.19 341.26,138.17 341.34,138.16 341.62,138.12 341.91,138.08 342.1,138.06 342.19,138.04 342.47,138 342.75,137.96 342.94,137.93 343.04,137.91 343.32,137.85 343.6,137.78 343.78,137.73 343.89,137.7 344.17,137.61 344.45,137.52 344.62,137.46 344.73,137.42 345.45,137.14 346.29,136.77 347.13,136.38 347.97,135.98 348.81,135.58 349.65,135.19 350.49,134.77 351.33,134.32 352.17,133.86 353.01,133.41 353.85,132.95 354.69,132.48 355.52,132 356.36,131.52 357.2,131.02 358.04,130.51 358.88,129.99 359.72,129.46 360.56,128.92 361.4,128.38 362.24,127.82 363.08,127.26 363.92,126.7 364.76,126.13 365.59,125.57 366.43,125.01 367.27,124.45 368.11,123.89 368.95,123.32 369.79,122.76 370.63,122.19 371.47,121.63 372.31,121.06 373.15,120.49 373.99,119.92 374.83,119.35 375.66,118.78 376.5,118.21 377.34,117.64 378.18,117.07 379.02,116.49 379.86,115.92 380.7,115.34 381.54,114.77 382.38,114.19 383.22,113.62 384.06,113.04 384.89,112.46 385.73,111.88 386.57,111.3 387.41,110.72 388.25,110.14 389.09,109.56 389.93,108.97 390.77,108.39 391.61,107.81 392.45,107.22 393.29,106.64 394.13,106.05 394.96,105.47 395.8,104.88 396.64,104.29 397.48,103.7 398.32,103.12 399.16,102.53 400,101.94 400.84,101.35 401.68,100.76 402.52,100.16 403.36,99.57 404.2,98.98 405.03,98.39 405.87,97.79 406.71,97.2 407.55,96.61 408.39,96.01 409.23,95.42 410.07,94.82 410.91,94.22 411.75,93.63 412.59,93.03 413.43,92.43 414.26,91.83 415.1,91.24 415.94,90.64 416.78,90.04 417.62,89.44 418.46,88.84 419.3,88.24 420.14,87.64 420.98,87.03 421.82,86.43 422.66,85.83 423.5,85.23 424.33,84.62 425.17,84.02 426.01,83.42 426.85,82.81 427.69,82.21 428.53,81.61 429.37,81 430.21,80.4 431.05,79.79 431.89,79.18 432.73,78.58 433.57,77.97 434.4,77.37 435.24,76.76 436.08,76.15 436.92,75.55 437.76,74.94 438.6,74.33 439.44,73.72 440.28,73.11 441.12,72.51 441.96,71.9 442.8,71.29 443.64,70.68 444.47,70.07 445.31,69.46 446.15,68.85 446.99,68.24 447.83,67.63 448.67,67.02 449.51,66.41 450.35,65.8 451.19,65.19 452.03,64.58 452.87,63.97 453.7,63.36 454.54,62.75 455.38,62.14 456.22,61.53 457.06,60.92 457.9,60.31 458.74,59.7 459.58,59.09 460.42,58.48 461.26,57.87 462.1,57.26 462.94,56.64 463.77,56.03 464.61,55.42 465.45,54.81 466.29,54.2 467.13,53.59 467.97,52.98 468.81,52.37 469.65,51.76 470.49,51.15 471.33,50.54 472.17,49.93 473.01,49.31 473.84,48.7 474.68,48.09 475.52,47.48 476.36,46.87 477.2,46.26 478.04,45.65 478.88,45.04 479.72,44.43 480.56,43.83 481.4,43.22 482.24,42.61 483.07,42 483.91,41.39 484.75,40.78 485.59,40.17 486.43,39.56 487.27,38.96 488.11,38.35 488.95,37.74 489.79,37.13 490.63,36.53 491.47,35.92 492.31,35.31 493.14,34.71 493.98,34.1 494.82,33.49 495.66,32.89 496.5,32.28 497.34,31.68 498.18,31.07 499.02,30.47 499.86,29.87 500.7,29.26 501.54,28.66 502.38,28.06 503.21,27.45 504.05,26.85 504.89,26.25 505.73,25.65 506.57,25.05 507.41,24.44 508.25,23.84 509.09,23.24 509.93,22.64 510.77,22.04 511.61,21.45 512.45,20.85 513.28,20.25 514.12,19.65 514.96,19.05 515.8,18.46 516.64,17.86 517.48,17.27" fill="none" stroke="#f23a3a" stroke-width="1.0" stroke-linejoin="round"/>
<rect x="386.4" y="20.7" width="56" height="18.2" fill="#fff" stroke="#8c8c8c" stroke-width="0.8"/>
<line x1="388.3" y1="25.8" x2="408" y2="25.8" stroke="#c8c8ff" stroke-width="1.0"/>
<line x1="388.3" y1="34.1" x2="408" y2="34.1" stroke="#ffc4c4" stroke-width="1.0"/>
<text x="409.9" y="27.9" font-size="5.95" text-anchor="start" fill="#1a1a1a" stroke="#1a1a1a" stroke-width="0.28">white-noise</text>
<text x="409.9" y="36.2" font-size="5.95" text-anchor="start" fill="#1a1a1a" stroke="#1a1a1a" stroke-width="0.28">pink-noise</text>
<text x="427" y="212.6" font-family="'Liberation Serif', 'Times New Roman', serif" font-size="13.6" text-anchor="middle" fill="#111">(<tspan font-weight="bold">b</tspan>)</text>
<line x1="71.48" y1="232" x2="71.48" y2="401.4" stroke="#eeeeee" stroke-width="0.7"/>
<line x1="114.46" y1="232" x2="114.46" y2="401.4" stroke="#eeeeee" stroke-width="0.7"/>
<line x1="157.44" y1="232" x2="157.44" y2="401.4" stroke="#eeeeee" stroke-width="0.7"/>
<line x1="200.42" y1="232" x2="200.42" y2="401.4" stroke="#eeeeee" stroke-width="0.7"/>
<line x1="28.5" y1="384.46" x2="243.4" y2="384.46" stroke="#eeeeee" stroke-width="0.7"/>
<line x1="28.5" y1="367.52" x2="243.4" y2="367.52" stroke="#eeeeee" stroke-width="0.7"/>
<line x1="28.5" y1="350.58" x2="243.4" y2="350.58" stroke="#eeeeee" stroke-width="0.7"/>
<line x1="28.5" y1="333.64" x2="243.4" y2="333.64" stroke="#eeeeee" stroke-width="0.7"/>
<line x1="28.5" y1="316.7" x2="243.4" y2="316.7" stroke="#eeeeee" stroke-width="0.7"/>
<line x1="28.5" y1="299.76" x2="243.4" y2="299.76" stroke="#eeeeee" stroke-width="0.7"/>
<line x1="28.5" y1="282.82" x2="243.4" y2="282.82" stroke="#eeeeee" stroke-width="0.7"/>
<line x1="28.5" y1="265.88" x2="243.4" y2="265.88" stroke="#eeeeee" stroke-width="0.7"/>
<line x1="28.5" y1="248.94" x2="243.4" y2="248.94" stroke="#eeeeee" stroke-width="0.7"/>
<line x1="71.48" y1="401.4" x2="71.48" y2="399.4" stroke="#7a7a7a" stroke-width="0.7"/>
<line x1="71.48" y1="232" x2="71.48" y2="234" stroke="#7a7a7a" stroke-width="0.7"/>
<line x1="114.46" y1="401.4" x2="114.46" y2="399.4" stroke="#7a7a7a" stroke-width="0.7"/>
<line x1="114.46" y1="232" x2="114.46" y2="234" stroke="#7a7a7a" stroke-width="0.7"/>
<line x1="157.44" y1="401.4" x2="157.44" y2="399.4" stroke="#7a7a7a" stroke-width="0.7"/>
<line x1="157.44" y1="232" x2="157.44" y2="234" stroke="#7a7a7a" stroke-width="0.7"/>
<line x1="200.42" y1="401.4" x2="200.42" y2="399.4" stroke="#7a7a7a" stroke-width="0.7"/>
<line x1="200.42" y1="232" x2="200.42" y2="234" stroke="#7a7a7a" stroke-width="0.7"/>
<line x1="28.5" y1="401.4" x2="30.5" y2="401.4" stroke="#7a7a7a" stroke-width="0.7"/>
<line x1="243.4" y1="401.4" x2="241.4" y2="401.4" stroke="#7a7a7a" stroke-width="0.7"/>
<line x1="28.5" y1="384.46" x2="30.5" y2="384.46" stroke="#7a7a7a" stroke-width="0.7"/>
<line x1="243.4" y1="384.46" x2="241.4" y2="384.46" stroke="#7a7a7a" stroke-width="0.7"/>
<line x1="28.5" y1="367.52" x2="30.5" y2="367.52" stroke="#7a7a7a" stroke-width="0.7"/>
<line x1="243.4" y1="367.52" x2="241.4" y2="367.52" stroke="#7a7a7a" stroke-width="0.7"/>
<line x1="28.5" y1="350.58" x2="30.5" y2="350.58" stroke="#7a7a7a" stroke-width="0.7"/>
<line x1="243.4" y1="350.58" x2="241.4" y2="350.58" stroke="#7a7a7a" stroke-width="0.7"/>
<line x1="28.5" y1="333.64" x2="30.5" y2="333.64" stroke="#7a7a7a" stroke-width="0.7"/>
<line x1="243.4" y1="333.64" x2="241.4" y2="333.64" stroke="#7a7a7a" stroke-width="0.7"/>
<line x1="28.5" y1="316.7" x2="30.5" y2="316.7" stroke="#7a7a7a" stroke-width="0.7"/>
<line x1="243.4" y1="316.7" x2="241.4" y2="316.7" stroke="#7a7a7a" stroke-width="0.7"/>
<line x1="28.5" y1="299.76" x2="30.5" y2="299.76" stroke="#7a7a7a" stroke-width="0.7"/>
<line x1="243.4" y1="299.76" x2="241.4" y2="299.76" stroke="#7a7a7a" stroke-width="0.7"/>
<line x1="28.5" y1="282.82" x2="30.5" y2="282.82" stroke="#7a7a7a" stroke-width="0.7"/>
<line x1="243.4" y1="282.82" x2="241.4" y2="282.82" stroke="#7a7a7a" stroke-width="0.7"/>
<line x1="28.5" y1="265.88" x2="30.5" y2="265.88" stroke="#7a7a7a" stroke-width="0.7"/>
<line x1="243.4" y1="265.88" x2="241.4" y2="265.88" stroke="#7a7a7a" stroke-width="0.7"/>
<line x1="28.5" y1="248.94" x2="30.5" y2="248.94" stroke="#7a7a7a" stroke-width="0.7"/>
<line x1="243.4" y1="248.94" x2="241.4" y2="248.94" stroke="#7a7a7a" stroke-width="0.7"/>
<line x1="28.5" y1="232" x2="30.5" y2="232" stroke="#7a7a7a" stroke-width="0.7"/>
<line x1="243.4" y1="232" x2="241.4" y2="232" stroke="#7a7a7a" stroke-width="0.7"/>
<text x="28.5" y="411.1" font-size="6.5" text-anchor="middle" fill="#1a1a1a" stroke="#1a1a1a" stroke-width="0.28">0</text>
<text x="71.48" y="411.1" font-size="6.5" text-anchor="middle" fill="#1a1a1a" stroke="#1a1a1a" stroke-width="0.28">500</text>
<text x="114.46" y="411.1" font-size="6.5" text-anchor="middle" fill="#1a1a1a" stroke="#1a1a1a" stroke-width="0.28">1000</text>
<text x="157.44" y="411.1" font-size="6.5" text-anchor="middle" fill="#1a1a1a" stroke="#1a1a1a" stroke-width="0.28">1500</text>
<text x="200.42" y="411.1" font-size="6.5" text-anchor="middle" fill="#1a1a1a" stroke="#1a1a1a" stroke-width="0.28">2000</text>
<text x="243.4" y="411.1" font-size="6.5" text-anchor="middle" fill="#1a1a1a" stroke="#1a1a1a" stroke-width="0.28">2500</text>
<text x="24.6" y="403.6" font-size="6.5" text-anchor="end" fill="#1a1a1a" stroke="#1a1a1a" stroke-width="0.28">0</text>
<text x="24.6" y="386.66" font-size="6.5" text-anchor="end" fill="#1a1a1a" stroke="#1a1a1a" stroke-width="0.28">0.1</text>
<text x="24.6" y="369.72" font-size="6.5" text-anchor="end" fill="#1a1a1a" stroke="#1a1a1a" stroke-width="0.28">0.2</text>
<text x="24.6" y="352.78" font-size="6.5" text-anchor="end" fill="#1a1a1a" stroke="#1a1a1a" stroke-width="0.28">0.3</text>
<text x="24.6" y="335.84" font-size="6.5" text-anchor="end" fill="#1a1a1a" stroke="#1a1a1a" stroke-width="0.28">0.4</text>
<text x="24.6" y="318.9" font-size="6.5" text-anchor="end" fill="#1a1a1a" stroke="#1a1a1a" stroke-width="0.28">0.5</text>
<text x="24.6" y="301.96" font-size="6.5" text-anchor="end" fill="#1a1a1a" stroke="#1a1a1a" stroke-width="0.28">0.6</text>
<text x="24.6" y="285.02" font-size="6.5" text-anchor="end" fill="#1a1a1a" stroke="#1a1a1a" stroke-width="0.28">0.7</text>
<text x="24.6" y="268.08" font-size="6.5" text-anchor="end" fill="#1a1a1a" stroke="#1a1a1a" stroke-width="0.28">0.8</text>
<text x="24.6" y="251.14" font-size="6.5" text-anchor="end" fill="#1a1a1a" stroke="#1a1a1a" stroke-width="0.28">0.9</text>
<text x="24.6" y="234.2" font-size="6.5" text-anchor="end" fill="#1a1a1a" stroke="#1a1a1a" stroke-width="0.28">1</text>
<text x="11.9" y="316.7" font-size="7.2" text-anchor="middle" fill="#1a1a1a" stroke="#1a1a1a" stroke-width="0.28" transform="rotate(-90 11.9 316.7)">Entropy,Hq</text>
<text x="135.95" y="421.2" font-size="7.2" text-anchor="middle" fill="#1a1a1a" stroke="#1a1a1a" stroke-width="0.28">length,L</text>
<text x="131" y="440.6" font-family="'Liberation Serif', 'Times New Roman', serif" font-size="13.6" text-anchor="middle" fill="#111">(<tspan font-weight="bold">c</tspan>)</text>
<polyline points="29.76,396.66 33.2,369.89 37.5,359.05 41.79,351.6 46.09,346.01 50.39,341.94 54.69,339.91 58.99,335 63.28,334.32 67.58,332.96 71.88,330.93 76.18,329.91 80.48,329.57 84.77,328.9 89.07,326.86 93.37,326.53 97.67,326.36 101.97,325 106.26,323.98 110.56,322.97 114.86,323.98 119.16,322.97 123.46,321.95 127.75,323.48 132.05,321.78 136.35,321.1 140.65,322.12 144.95,320.77 149.24,320.26 153.54,321.44 157.84,320.43 162.14,319.41 166.44,320.6 170.73,319.75 175.03,319.07 179.33,319.92 183.63,318.73 187.93,318.39 192.22,318.9 196.52,318.06 200.82,317.72" fill="none" stroke="#ff4d4d" stroke-width="0.65" stroke-linejoin="round"/>
<path d="M29.76 395.98V397.33M28.06 395.98h3.4M28.06 397.33h3.4M33.2 368.56V371.22M31.5 368.56h3.4M31.5 371.22h3.4M37.5 357.08V361.02M35.8 357.08h3.4M35.8 361.02h3.4M41.79 350.15V353.04M40.09 350.15h3.4M40.09 353.04h3.4M46.09 344.76V347.25M44.39 344.76h3.4M44.39 347.25h3.4M50.39 339.96V343.93M48.69 339.96h3.4M48.69 343.93h3.4M54.69 336.79V343.03M52.99 336.79h3.4M52.99 343.03h3.4M58.99 332.13V337.86M57.29 332.13h3.4M57.29 337.86h3.4M63.28 331.53V337.1M61.58 331.53h3.4M61.58 337.1h3.4M67.58 331.37V334.55M65.88 331.37h3.4M65.88 334.55h3.4M71.88 328.65V333.21M70.18 328.65h3.4M70.18 333.21h3.4M76.18 328.2V331.62M74.48 328.2h3.4M74.48 331.62h3.4M80.48 328.09V331.06M78.78 328.09h3.4M78.78 331.06h3.4M84.77 327.56V330.23M83.07 327.56h3.4M83.07 330.23h3.4M89.07 325.29V328.44M87.37 325.29h3.4M87.37 328.44h3.4M93.37 323.38V329.67M91.67 323.38h3.4M91.67 329.67h3.4M97.67 323.43V329.28M95.97 323.43h3.4M95.97 329.28h3.4M101.97 322.12V327.88M100.27 322.12h3.4M100.27 327.88h3.4M106.26 321.12V326.85M104.56 321.12h3.4M104.56 326.85h3.4M110.56 321.44V324.49M108.86 321.44h3.4M108.86 324.49h3.4M114.86 322.2V325.77M113.16 322.2h3.4M113.16 325.77h3.4M119.16 320.49V325.45M117.46 320.49h3.4M117.46 325.45h3.4M123.46 319.24V324.66M121.76 319.24h3.4M121.76 324.66h3.4M127.75 320.49V326.46M126.05 320.49h3.4M126.05 326.46h3.4M132.05 318.74V324.82M130.35 318.74h3.4M130.35 324.82h3.4M136.35 319.81V322.4M134.65 319.81h3.4M134.65 322.4h3.4M140.65 319.69V324.56M138.95 319.69h3.4M138.95 324.56h3.4M144.95 318.19V323.35M143.25 318.19h3.4M143.25 323.35h3.4M149.24 318.04V322.47M147.54 318.04h3.4M147.54 322.47h3.4M153.54 319.95V322.94M151.84 319.95h3.4M151.84 322.94h3.4M157.84 318.28V322.57M156.14 318.28h3.4M156.14 322.57h3.4M162.14 318.11V320.71M160.44 318.11h3.4M160.44 320.71h3.4M166.44 317.44V323.76M164.74 317.44h3.4M164.74 323.76h3.4M170.73 316.74V322.76M169.03 316.74h3.4M169.03 322.76h3.4M175.03 316.76V321.38M173.33 316.76h3.4M173.33 321.38h3.4M179.33 318.16V321.68M177.63 318.16h3.4M177.63 321.68h3.4M183.63 315.63V321.84M181.93 315.63h3.4M181.93 321.84h3.4M187.93 316.03V320.76M186.23 316.03h3.4M186.23 320.76h3.4M192.22 315.86V321.95M190.52 315.86h3.4M190.52 321.95h3.4M196.52 315.09V321.02M194.82 315.09h3.4M194.82 321.02h3.4M200.82 315.5V319.94M199.12 315.5h3.4M199.12 319.94h3.4" stroke="#ff6a6a" stroke-width="0.55" fill="none"/>
<rect x="28.16" y="395.06" width="3.2" height="3.2" fill="none" stroke="#ff6262" stroke-width="0.62"/>
<rect x="31.6" y="368.29" width="3.2" height="3.2" fill="none" stroke="#ff6262" stroke-width="0.62"/>
<rect x="35.9" y="357.45" width="3.2" height="3.2" fill="none" stroke="#ff6262" stroke-width="0.62"/>
<rect x="40.19" y="350" width="3.2" height="3.2" fill="none" stroke="#ff6262" stroke-width="0.62"/>
<rect x="44.49" y="344.41" width="3.2" height="3.2" fill="none" stroke="#ff6262" stroke-width="0.62"/>
<rect x="48.79" y="340.34" width="3.2" height="3.2" fill="none" stroke="#ff6262" stroke-width="0.62"/>
<rect x="53.09" y="338.31" width="3.2" height="3.2" fill="none" stroke="#ff6262" stroke-width="0.62"/>
<rect x="57.39" y="333.4" width="3.2" height="3.2" fill="none" stroke="#ff6262" stroke-width="0.62"/>
<rect x="61.68" y="332.72" width="3.2" height="3.2" fill="none" stroke="#ff6262" stroke-width="0.62"/>
<rect x="65.98" y="331.36" width="3.2" height="3.2" fill="none" stroke="#ff6262" stroke-width="0.62"/>
<rect x="70.28" y="329.33" width="3.2" height="3.2" fill="none" stroke="#ff6262" stroke-width="0.62"/>
<rect x="74.58" y="328.31" width="3.2" height="3.2" fill="none" stroke="#ff6262" stroke-width="0.62"/>
<rect x="78.88" y="327.97" width="3.2" height="3.2" fill="none" stroke="#ff6262" stroke-width="0.62"/>
<rect x="83.17" y="327.3" width="3.2" height="3.2" fill="none" stroke="#ff6262" stroke-width="0.62"/>
<rect x="87.47" y="325.26" width="3.2" height="3.2" fill="none" stroke="#ff6262" stroke-width="0.62"/>
<rect x="91.77" y="324.93" width="3.2" height="3.2" fill="none" stroke="#ff6262" stroke-width="0.62"/>
<rect x="96.07" y="324.76" width="3.2" height="3.2" fill="none" stroke="#ff6262" stroke-width="0.62"/>
<rect x="100.37" y="323.4" width="3.2" height="3.2" fill="none" stroke="#ff6262" stroke-width="0.62"/>
<rect x="104.66" y="322.38" width="3.2" height="3.2" fill="none" stroke="#ff6262" stroke-width="0.62"/>
<rect x="108.96" y="321.37" width="3.2" height="3.2" fill="none" stroke="#ff6262" stroke-width="0.62"/>
<rect x="113.26" y="322.38" width="3.2" height="3.2" fill="none" stroke="#ff6262" stroke-width="0.62"/>
<rect x="117.56" y="321.37" width="3.2" height="3.2" fill="none" stroke="#ff6262" stroke-width="0.62"/>
<rect x="121.86" y="320.35" width="3.2" height="3.2" fill="none" stroke="#ff6262" stroke-width="0.62"/>
<rect x="126.15" y="321.88" width="3.2" height="3.2" fill="none" stroke="#ff6262" stroke-width="0.62"/>
<rect x="130.45" y="320.18" width="3.2" height="3.2" fill="none" stroke="#ff6262" stroke-width="0.62"/>
<rect x="134.75" y="319.5" width="3.2" height="3.2" fill="none" stroke="#ff6262" stroke-width="0.62"/>
<rect x="139.05" y="320.52" width="3.2" height="3.2" fill="none" stroke="#ff6262" stroke-width="0.62"/>
<rect x="143.35" y="319.17" width="3.2" height="3.2" fill="none" stroke="#ff6262" stroke-width="0.62"/>
<rect x="147.64" y="318.66" width="3.2" height="3.2" fill="none" stroke="#ff6262" stroke-width="0.62"/>
<rect x="151.94" y="319.84" width="3.2" height="3.2" fill="none" stroke="#ff6262" stroke-width="0.62"/>
<rect x="156.24" y="318.83" width="3.2" height="3.2" fill="none" stroke="#ff6262" stroke-width="0.62"/>
<rect x="160.54" y="317.81" width="3.2" height="3.2" fill="none" stroke="#ff6262" stroke-width="0.62"/>
<rect x="164.84" y="319" width="3.2" height="3.2" fill="none" stroke="#ff6262" stroke-width="0.62"/>
<rect x="169.13" y="318.15" width="3.2" height="3.2" fill="none" stroke="#ff6262" stroke-width="0.62"/>
<rect x="173.43" y="317.47" width="3.2" height="3.2" fill="none" stroke="#ff6262" stroke-width="0.62"/>
<rect x="177.73" y="318.32" width="3.2" height="3.2" fill="none" stroke="#ff6262" stroke-width="0.62"/>
<rect x="182.03" y="317.13" width="3.2" height="3.2" fill="none" stroke="#ff6262" stroke-width="0.62"/>
<rect x="186.33" y="316.79" width="3.2" height="3.2" fill="none" stroke="#ff6262" stroke-width="0.62"/>
<rect x="190.62" y="317.3" width="3.2" height="3.2" fill="none" stroke="#ff6262" stroke-width="0.62"/>
<rect x="194.92" y="316.46" width="3.2" height="3.2" fill="none" stroke="#ff6262" stroke-width="0.62"/>
<rect x="199.22" y="316.12" width="3.2" height="3.2" fill="none" stroke="#ff6262" stroke-width="0.62"/>
<polyline points="29.76,396.66 33.2,365.83 37.5,347.19 41.79,331.1 46.09,316.7 50.39,308.57 54.69,301.62 58.99,292.65 63.28,287.9 67.58,286.04 71.88,280.96 76.18,278.92 80.48,272.32 84.77,270.62 89.07,267.4 93.37,266.05 97.67,264.36 101.97,261.98 106.26,261.64 110.56,259.61 114.86,257.58 119.16,257.24 123.46,255.04 127.75,254.02 132.05,254.02 136.35,252.67 140.65,250.97 144.95,251.31 149.24,249.28 153.54,249.96 157.84,248.94 162.14,248.26 166.44,248.43 170.73,248.09 175.03,247.42 179.33,248.09 183.63,247.92 187.93,246.74 192.22,245.72 196.52,246.23 200.82,243.69" fill="none" stroke="#3a3aff" stroke-width="0.65" stroke-linejoin="round"/>
<path d="M29.76 395.98V397.33M28.06 395.98h3.4M28.06 397.33h3.4M33.2 363.7V367.95M31.5 363.7h3.4M31.5 367.95h3.4M37.5 345.42V348.96M35.8 345.42h3.4M35.8 348.96h3.4M41.79 328.85V333.34M40.09 328.85h3.4M40.09 333.34h3.4M46.09 314.41V318.99M44.39 314.41h3.4M44.39 318.99h3.4M50.39 307.42V309.72M48.69 307.42h3.4M48.69 309.72h3.4M54.69 300.58V302.67M52.99 300.58h3.4M52.99 302.67h3.4M58.99 289.93V295.36M57.29 289.93h3.4M57.29 295.36h3.4M63.28 286.36V289.45M61.58 286.36h3.4M61.58 289.45h3.4M67.58 284.55V287.53M65.88 284.55h3.4M65.88 287.53h3.4M71.88 277.92V284M70.18 277.92h3.4M70.18 284h3.4M76.18 276.95V280.9M74.48 276.95h3.4M74.48 280.9h3.4M80.48 269.6V275.03M78.78 269.6h3.4M78.78 275.03h3.4M84.77 268.64V272.61M83.07 268.64h3.4M83.07 272.61h3.4M89.07 265.09V269.72M87.37 265.09h3.4M87.37 269.72h3.4M93.37 264.73V267.37M91.67 264.73h3.4M91.67 267.37h3.4M97.67 262.05V266.66M95.97 262.05h3.4M95.97 266.66h3.4M101.97 259.2V264.76M100.27 259.2h3.4M100.27 264.76h3.4M106.26 259.57V263.72M104.56 259.57h3.4M104.56 263.72h3.4M110.56 257.09V262.14M108.86 257.09h3.4M108.86 262.14h3.4M114.86 255.2V259.96M113.16 255.2h3.4M113.16 259.96h3.4M119.16 256.09V258.39M117.46 256.09h3.4M117.46 258.39h3.4M123.46 252.48V257.6M121.76 252.48h3.4M121.76 257.6h3.4M127.75 251.8V256.24M126.05 251.8h3.4M126.05 256.24h3.4M132.05 252.39V255.65M130.35 252.39h3.4M130.35 255.65h3.4M136.35 251.59V253.75M134.65 251.59h3.4M134.65 253.75h3.4M140.65 248.2V253.75M138.95 248.2h3.4M138.95 253.75h3.4M144.95 249.33V253.29M143.25 249.33h3.4M143.25 253.29h3.4M149.24 246.8V251.76M147.54 246.8h3.4M147.54 251.76h3.4M153.54 247.15V252.76M151.84 247.15h3.4M151.84 252.76h3.4M157.84 246.47V251.41M156.14 246.47h3.4M156.14 251.41h3.4M162.14 245.37V251.15M160.44 245.37h3.4M160.44 251.15h3.4M166.44 246.61V250.25M164.74 246.61h3.4M164.74 250.25h3.4M170.73 245.45V250.74M169.03 245.45h3.4M169.03 250.74h3.4M175.03 245.5V249.34M173.33 245.5h3.4M173.33 249.34h3.4M179.33 245.17V251.01M177.63 245.17h3.4M177.63 251.01h3.4M183.63 245.12V250.73M181.93 245.12h3.4M181.93 250.73h3.4M187.93 245.52V247.95M186.23 245.52h3.4M186.23 247.95h3.4M192.22 244.43V247.01M190.52 244.43h3.4M190.52 247.01h3.4M196.52 244.77V247.69M194.82 244.77h3.4M194.82 247.69h3.4M200.82 240.71V246.67M199.12 240.71h3.4M199.12 246.67h3.4" stroke="#4a4aff" stroke-width="0.55" fill="none"/>
<circle cx="29.76" cy="396.66" r="2.2" fill="none" stroke="#2a2aff" stroke-width="0.95"/>
<circle cx="33.2" cy="365.83" r="2.2" fill="none" stroke="#2a2aff" stroke-width="0.95"/>
<circle cx="37.5" cy="347.19" r="2.2" fill="none" stroke="#2a2aff" stroke-width="0.95"/>
<circle cx="41.79" cy="331.1" r="2.2" fill="none" stroke="#2a2aff" stroke-width="0.95"/>
<circle cx="46.09" cy="316.7" r="2.2" fill="none" stroke="#2a2aff" stroke-width="0.95"/>
<circle cx="50.39" cy="308.57" r="2.2" fill="none" stroke="#2a2aff" stroke-width="0.95"/>
<circle cx="54.69" cy="301.62" r="2.2" fill="none" stroke="#2a2aff" stroke-width="0.95"/>
<circle cx="58.99" cy="292.65" r="2.2" fill="none" stroke="#2a2aff" stroke-width="0.95"/>
<circle cx="63.28" cy="287.9" r="2.2" fill="none" stroke="#2a2aff" stroke-width="0.95"/>
<circle cx="67.58" cy="286.04" r="2.2" fill="none" stroke="#2a2aff" stroke-width="0.95"/>
<circle cx="71.88" cy="280.96" r="2.2" fill="none" stroke="#2a2aff" stroke-width="0.95"/>
<circle cx="76.18" cy="278.92" r="2.2" fill="none" stroke="#2a2aff" stroke-width="0.95"/>
<circle cx="80.48" cy="272.32" r="2.2" fill="none" stroke="#2a2aff" stroke-width="0.95"/>
<circle cx="84.77" cy="270.62" r="2.2" fill="none" stroke="#2a2aff" stroke-width="0.95"/>
<circle cx="89.07" cy="267.4" r="2.2" fill="none" stroke="#2a2aff" stroke-width="0.95"/>
<circle cx="93.37" cy="266.05" r="2.2" fill="none" stroke="#2a2aff" stroke-width="0.95"/>
<circle cx="97.67" cy="264.36" r="2.2" fill="none" stroke="#2a2aff" stroke-width="0.95"/>
<circle cx="101.97" cy="261.98" r="2.2" fill="none" stroke="#2a2aff" stroke-width="0.95"/>
<circle cx="106.26" cy="261.64" r="2.2" fill="none" stroke="#2a2aff" stroke-width="0.95"/>
<circle cx="110.56" cy="259.61" r="2.2" fill="none" stroke="#2a2aff" stroke-width="0.95"/>
<circle cx="114.86" cy="257.58" r="2.2" fill="none" stroke="#2a2aff" stroke-width="0.95"/>
<circle cx="119.16" cy="257.24" r="2.2" fill="none" stroke="#2a2aff" stroke-width="0.95"/>
<circle cx="123.46" cy="255.04" r="2.2" fill="none" stroke="#2a2aff" stroke-width="0.95"/>
<circle cx="127.75" cy="254.02" r="2.2" fill="none" stroke="#2a2aff" stroke-width="0.95"/>
<circle cx="132.05" cy="254.02" r="2.2" fill="none" stroke="#2a2aff" stroke-width="0.95"/>
<circle cx="136.35" cy="252.67" r="2.2" fill="none" stroke="#2a2aff" stroke-width="0.95"/>
<circle cx="140.65" cy="250.97" r="2.2" fill="none" stroke="#2a2aff" stroke-width="0.95"/>
<circle cx="144.95" cy="251.31" r="2.2" fill="none" stroke="#2a2aff" stroke-width="0.95"/>
<circle cx="149.24" cy="249.28" r="2.2" fill="none" stroke="#2a2aff" stroke-width="0.95"/>
<circle cx="153.54" cy="249.96" r="2.2" fill="none" stroke="#2a2aff" stroke-width="0.95"/>
<circle cx="157.84" cy="248.94" r="2.2" fill="none" stroke="#2a2aff" stroke-width="0.95"/>
<circle cx="162.14" cy="248.26" r="2.2" fill="none" stroke="#2a2aff" stroke-width="0.95"/>
<circle cx="166.44" cy="248.43" r="2.2" fill="none" stroke="#2a2aff" stroke-width="0.95"/>
<circle cx="170.73" cy="248.09" r="2.2" fill="none" stroke="#2a2aff" stroke-width="0.95"/>
<circle cx="175.03" cy="247.42" r="2.2" fill="none" stroke="#2a2aff" stroke-width="0.95"/>
<circle cx="179.33" cy="248.09" r="2.2" fill="none" stroke="#2a2aff" stroke-width="0.95"/>
<circle cx="183.63" cy="247.92" r="2.2" fill="none" stroke="#2a2aff" stroke-width="0.95"/>
<circle cx="187.93" cy="246.74" r="2.2" fill="none" stroke="#2a2aff" stroke-width="0.95"/>
<circle cx="192.22" cy="245.72" r="2.2" fill="none" stroke="#2a2aff" stroke-width="0.95"/>
<circle cx="196.52" cy="246.23" r="2.2" fill="none" stroke="#2a2aff" stroke-width="0.95"/>
<circle cx="200.82" cy="243.69" r="2.2" fill="none" stroke="#2a2aff" stroke-width="0.95"/>
<rect x="28.5" y="232" width="214.9" height="169.4" fill="none" stroke="#7a7a7a" stroke-width="1.0"/>
<rect x="183.4" y="263.7" width="53.9" height="17.3" fill="#fff"/>
<line x1="185.4" y1="268.2" x2="204.4" y2="268.2" stroke="#3a3aff" stroke-width="0.65"/>
<path d="M194.9 265.4V271M193.5 265.4h2.8M193.5 271h2.8" stroke="#4a4aff" stroke-width="0.55" fill="none"/>
<circle cx="194.9" cy="268.2" r="2.2" fill="none" stroke="#2a2aff" stroke-width="0.95"/>
<line x1="185.4" y1="276.5" x2="204.4" y2="276.5" stroke="#ff4d4d" stroke-width="0.65"/>
<path d="M194.9 273.7V279.3M193.5 273.7h2.8M193.5 279.3h2.8" stroke="#ff6060" stroke-width="0.55" fill="none"/>
<rect x="193.5" y="275.1" width="2.8" height="2.8" fill="none" stroke="#ff5a5a" stroke-width="0.6"/>
<text x="206.3" y="270.3" font-size="5.95" text-anchor="start" fill="#1a1a1a" stroke="#1a1a1a" stroke-width="0.28">white-noise</text>
<text x="206.3" y="278.6" font-size="5.95" text-anchor="start" fill="#1a1a1a" stroke="#1a1a1a" stroke-width="0.28">pink-noise</text>
<line x1="368.34" y1="232" x2="368.34" y2="401.4" stroke="#eeeeee" stroke-width="0.7"/>
<line x1="411.28" y1="232" x2="411.28" y2="401.4" stroke="#eeeeee" stroke-width="0.7"/>
<line x1="454.22" y1="232" x2="454.22" y2="401.4" stroke="#eeeeee" stroke-width="0.7"/>
<line x1="497.16" y1="232" x2="497.16" y2="401.4" stroke="#eeeeee" stroke-width="0.7"/>
<line x1="325.4" y1="367.52" x2="540.1" y2="367.52" stroke="#eeeeee" stroke-width="0.7"/>
<line x1="325.4" y1="333.64" x2="540.1" y2="333.64" stroke="#eeeeee" stroke-width="0.7"/>
<line x1="325.4" y1="299.76" x2="540.1" y2="299.76" stroke="#eeeeee" stroke-width="0.7"/>
<line x1="325.4" y1="265.88" x2="540.1" y2="265.88" stroke="#eeeeee" stroke-width="0.7"/>
<line x1="368.34" y1="401.4" x2="368.34" y2="399.4" stroke="#7a7a7a" stroke-width="0.7"/>
<line x1="368.34" y1="232" x2="368.34" y2="234" stroke="#7a7a7a" stroke-width="0.7"/>
<line x1="411.28" y1="401.4" x2="411.28" y2="399.4" stroke="#7a7a7a" stroke-width="0.7"/>
<line x1="411.28" y1="232" x2="411.28" y2="234" stroke="#7a7a7a" stroke-width="0.7"/>
<line x1="454.22" y1="401.4" x2="454.22" y2="399.4" stroke="#7a7a7a" stroke-width="0.7"/>
<line x1="454.22" y1="232" x2="454.22" y2="234" stroke="#7a7a7a" stroke-width="0.7"/>
<line x1="497.16" y1="401.4" x2="497.16" y2="399.4" stroke="#7a7a7a" stroke-width="0.7"/>
<line x1="497.16" y1="232" x2="497.16" y2="234" stroke="#7a7a7a" stroke-width="0.7"/>
<line x1="325.4" y1="401.4" x2="327.4" y2="401.4" stroke="#7a7a7a" stroke-width="0.7"/>
<line x1="540.1" y1="401.4" x2="538.1" y2="401.4" stroke="#7a7a7a" stroke-width="0.7"/>
<line x1="325.4" y1="367.52" x2="327.4" y2="367.52" stroke="#7a7a7a" stroke-width="0.7"/>
<line x1="540.1" y1="367.52" x2="538.1" y2="367.52" stroke="#7a7a7a" stroke-width="0.7"/>
<line x1="325.4" y1="333.64" x2="327.4" y2="333.64" stroke="#7a7a7a" stroke-width="0.7"/>
<line x1="540.1" y1="333.64" x2="538.1" y2="333.64" stroke="#7a7a7a" stroke-width="0.7"/>
<line x1="325.4" y1="299.76" x2="327.4" y2="299.76" stroke="#7a7a7a" stroke-width="0.7"/>
<line x1="540.1" y1="299.76" x2="538.1" y2="299.76" stroke="#7a7a7a" stroke-width="0.7"/>
<line x1="325.4" y1="265.88" x2="327.4" y2="265.88" stroke="#7a7a7a" stroke-width="0.7"/>
<line x1="540.1" y1="265.88" x2="538.1" y2="265.88" stroke="#7a7a7a" stroke-width="0.7"/>
<line x1="325.4" y1="232" x2="327.4" y2="232" stroke="#7a7a7a" stroke-width="0.7"/>
<line x1="540.1" y1="232" x2="538.1" y2="232" stroke="#7a7a7a" stroke-width="0.7"/>
<text x="325.4" y="411.1" font-size="6.5" text-anchor="middle" fill="#1a1a1a" stroke="#1a1a1a" stroke-width="0.28">0</text>
<text x="368.34" y="411.1" font-size="6.5" text-anchor="middle" fill="#1a1a1a" stroke="#1a1a1a" stroke-width="0.28">500</text>
<text x="411.28" y="411.1" font-size="6.5" text-anchor="middle" fill="#1a1a1a" stroke="#1a1a1a" stroke-width="0.28">1000</text>
<text x="454.22" y="411.1" font-size="6.5" text-anchor="middle" fill="#1a1a1a" stroke="#1a1a1a" stroke-width="0.28">1500</text>
<text x="497.16" y="411.1" font-size="6.5" text-anchor="middle" fill="#1a1a1a" stroke="#1a1a1a" stroke-width="0.28">2000</text>
<text x="540.1" y="411.1" font-size="6.5" text-anchor="middle" fill="#1a1a1a" stroke="#1a1a1a" stroke-width="0.28">2500</text>
<text x="321.5" y="403.6" font-size="6.5" text-anchor="end" fill="#1a1a1a" stroke="#1a1a1a" stroke-width="0.28">0</text>
<text x="321.5" y="369.72" font-size="6.5" text-anchor="end" fill="#1a1a1a" stroke="#1a1a1a" stroke-width="0.28">0.05</text>
<text x="321.5" y="335.84" font-size="6.5" text-anchor="end" fill="#1a1a1a" stroke="#1a1a1a" stroke-width="0.28">0.1</text>
<text x="321.5" y="301.96" font-size="6.5" text-anchor="end" fill="#1a1a1a" stroke="#1a1a1a" stroke-width="0.28">0.15</text>
<text x="321.5" y="268.08" font-size="6.5" text-anchor="end" fill="#1a1a1a" stroke="#1a1a1a" stroke-width="0.28">0.2</text>
<text x="321.5" y="234.2" font-size="6.5" text-anchor="end" fill="#1a1a1a" stroke="#1a1a1a" stroke-width="0.28">0.25</text>
<text x="305.3" y="316.7" font-size="7.2" text-anchor="middle" fill="#1a1a1a" stroke="#1a1a1a" stroke-width="0.28" transform="rotate(-90 305.3 316.7)">Entropy,Cq</text>
<text x="432.75" y="421.2" font-size="7.2" text-anchor="middle" fill="#1a1a1a" stroke="#1a1a1a" stroke-width="0.28">length,L</text>
<text x="427.7" y="440.6" font-family="'Liberation Serif', 'Times New Roman', serif" font-size="13.6" text-anchor="middle" fill="#111">(<tspan font-weight="bold">d</tspan>)</text>
<polyline points="326.66,383.78 330.09,313.31 334.39,292.31 338.68,280.11 342.98,271.98 347.27,267.24 351.56,264.12 355.86,259.78 360.15,259.1 364.45,258.43 368.74,256.05 373.03,255.72 377.33,255.58 381.62,254.7 385.92,254.36 390.21,254.02 394.5,253.01 398.8,252.33 403.09,251.99 407.39,251.65 411.68,251.79 415.97,251.63 420.27,251.47 424.56,250.68 428.86,250.5 433.15,250.81 437.44,250.28 441.74,250.35 446.03,250.56 450.33,250.04 454.62,249.96 458.91,250.33 463.21,249.88 467.5,250.16 471.8,250.07 476.09,249.69 480.38,249.24 484.68,249.84 488.97,249.68 493.27,249.23 497.56,249.28" fill="none" stroke="#ff4d4d" stroke-width="0.65" stroke-linejoin="round"/>
<path d="M326.66 382.77V384.8M324.96 382.77h3.4M324.96 384.8h3.4M330.09 310.93V315.7M328.39 310.93h3.4M328.39 315.7h3.4M334.39 290.43V294.18M332.69 290.43h3.4M332.69 294.18h3.4M338.68 278.57V281.65M336.98 278.57h3.4M336.98 281.65h3.4M342.98 270.84V273.12M341.28 270.84h3.4M341.28 273.12h3.4M347.27 265.09V269.38M345.57 265.09h3.4M345.57 269.38h3.4M351.56 262.27V265.97M349.86 262.27h3.4M349.86 265.97h3.4M355.86 257.49V262.07M354.16 257.49h3.4M354.16 262.07h3.4M360.15 257.4V260.81M358.45 257.4h3.4M358.45 260.81h3.4M364.45 256.12V260.73M362.75 256.12h3.4M362.75 260.73h3.4M368.74 254.5V257.61M367.04 254.5h3.4M367.04 257.61h3.4M373.03 253.36V258.07M371.33 253.36h3.4M371.33 258.07h3.4M377.33 253.33V257.83M375.63 253.33h3.4M375.63 257.83h3.4M381.62 252.93V256.47M379.92 252.93h3.4M379.92 256.47h3.4M385.92 252.41V256.32M384.22 252.41h3.4M384.22 256.32h3.4M390.21 251.85V256.2M388.51 251.85h3.4M388.51 256.2h3.4M394.5 251.57V254.44M392.8 251.57h3.4M392.8 254.44h3.4M398.8 250.35V254.31M397.1 250.35h3.4M397.1 254.31h3.4M403.09 249.63V254.35M401.39 249.63h3.4M401.39 254.35h3.4M407.39 250.11V253.19M405.69 250.11h3.4M405.69 253.19h3.4M411.68 249.43V254.14M409.98 249.43h3.4M409.98 254.14h3.4M415.97 249.45V253.81M414.27 249.45h3.4M414.27 253.81h3.4M420.27 249.05V253.89M418.57 249.05h3.4M418.57 253.89h3.4M424.56 249.03V252.32M422.86 249.03h3.4M422.86 252.32h3.4M428.86 249.22V251.78M427.16 249.22h3.4M427.16 251.78h3.4M433.15 248.46V253.17M431.45 248.46h3.4M431.45 253.17h3.4M437.44 247.92V252.64M435.74 247.92h3.4M435.74 252.64h3.4M441.74 248.54V252.17M440.04 248.54h3.4M440.04 252.17h3.4M446.03 249.28V251.84M444.33 249.28h3.4M444.33 251.84h3.4M450.33 248.6V251.48M448.63 248.6h3.4M448.63 251.48h3.4M454.62 247.85V252.06M452.92 247.85h3.4M452.92 252.06h3.4M458.91 248.75V251.91M457.21 248.75h3.4M457.21 251.91h3.4M463.21 247.3V252.47M461.51 247.3h3.4M461.51 252.47h3.4M467.5 248.13V252.19M465.8 248.13h3.4M465.8 252.19h3.4M471.8 248.63V251.52M470.1 248.63h3.4M470.1 251.52h3.4M476.09 247.56V251.82M474.39 247.56h3.4M474.39 251.82h3.4M480.38 247.55V250.93M478.68 247.55h3.4M478.68 250.93h3.4M484.68 247.28V252.39M482.98 247.28h3.4M482.98 252.39h3.4M488.97 247.16V252.2M487.27 247.16h3.4M487.27 252.2h3.4M493.27 247.31V251.15M491.57 247.31h3.4M491.57 251.15h3.4M497.56 247.16V251.4M495.86 247.16h3.4M495.86 251.4h3.4" stroke="#ff6a6a" stroke-width="0.55" fill="none"/>
<rect x="325.06" y="382.18" width="3.2" height="3.2" fill="none" stroke="#ff6262" stroke-width="0.62"/>
<rect x="328.49" y="311.71" width="3.2" height="3.2" fill="none" stroke="#ff6262" stroke-width="0.62"/>
<rect x="332.79" y="290.71" width="3.2" height="3.2" fill="none" stroke="#ff6262" stroke-width="0.62"/>
<rect x="337.08" y="278.51" width="3.2" height="3.2" fill="none" stroke="#ff6262" stroke-width="0.62"/>
<rect x="341.38" y="270.38" width="3.2" height="3.2" fill="none" stroke="#ff6262" stroke-width="0.62"/>
<rect x="345.67" y="265.64" width="3.2" height="3.2" fill="none" stroke="#ff6262" stroke-width="0.62"/>
<rect x="349.96" y="262.52" width="3.2" height="3.2" fill="none" stroke="#ff6262" stroke-width="0.62"/>
<rect x="354.26" y="258.18" width="3.2" height="3.2" fill="none" stroke="#ff6262" stroke-width="0.62"/>
<rect x="358.55" y="257.5" width="3.2" height="3.2" fill="none" stroke="#ff6262" stroke-width="0.62"/>
<rect x="362.85" y="256.83" width="3.2" height="3.2" fill="none" stroke="#ff6262" stroke-width="0.62"/>
<rect x="367.14" y="254.45" width="3.2" height="3.2" fill="none" stroke="#ff6262" stroke-width="0.62"/>
<rect x="371.43" y="254.12" width="3.2" height="3.2" fill="none" stroke="#ff6262" stroke-width="0.62"/>
<rect x="375.73" y="253.98" width="3.2" height="3.2" fill="none" stroke="#ff6262" stroke-width="0.62"/>
<rect x="380.02" y="253.1" width="3.2" height="3.2" fill="none" stroke="#ff6262" stroke-width="0.62"/>
<rect x="384.32" y="252.76" width="3.2" height="3.2" fill="none" stroke="#ff6262" stroke-width="0.62"/>
<rect x="388.61" y="252.42" width="3.2" height="3.2" fill="none" stroke="#ff6262" stroke-width="0.62"/>
<rect x="392.9" y="251.41" width="3.2" height="3.2" fill="none" stroke="#ff6262" stroke-width="0.62"/>
<rect x="397.2" y="250.73" width="3.2" height="3.2" fill="none" stroke="#ff6262" stroke-width="0.62"/>
<rect x="401.49" y="250.39" width="3.2" height="3.2" fill="none" stroke="#ff6262" stroke-width="0.62"/>
<rect x="405.79" y="250.05" width="3.2" height="3.2" fill="none" stroke="#ff6262" stroke-width="0.62"/>
<rect x="410.08" y="250.19" width="3.2" height="3.2" fill="none" stroke="#ff6262" stroke-width="0.62"/>
<rect x="414.37" y="250.03" width="3.2" height="3.2" fill="none" stroke="#ff6262" stroke-width="0.62"/>
<rect x="418.67" y="249.87" width="3.2" height="3.2" fill="none" stroke="#ff6262" stroke-width="0.62"/>
<rect x="422.96" y="249.08" width="3.2" height="3.2" fill="none" stroke="#ff6262" stroke-width="0.62"/>
<rect x="427.26" y="248.9" width="3.2" height="3.2" fill="none" stroke="#ff6262" stroke-width="0.62"/>
<rect x="431.55" y="249.21" width="3.2" height="3.2" fill="none" stroke="#ff6262" stroke-width="0.62"/>
<rect x="435.84" y="248.68" width="3.2" height="3.2" fill="none" stroke="#ff6262" stroke-width="0.62"/>
<rect x="440.14" y="248.75" width="3.2" height="3.2" fill="none" stroke="#ff6262" stroke-width="0.62"/>
<rect x="444.43" y="248.96" width="3.2" height="3.2" fill="none" stroke="#ff6262" stroke-width="0.62"/>
<rect x="448.73" y="248.44" width="3.2" height="3.2" fill="none" stroke="#ff6262" stroke-width="0.62"/>
<rect x="453.02" y="248.36" width="3.2" height="3.2" fill="none" stroke="#ff6262" stroke-width="0.62"/>
<rect x="457.31" y="248.73" width="3.2" height="3.2" fill="none" stroke="#ff6262" stroke-width="0.62"/>
<rect x="461.61" y="248.28" width="3.2" height="3.2" fill="none" stroke="#ff6262" stroke-width="0.62"/>
<rect x="465.9" y="248.56" width="3.2" height="3.2" fill="none" stroke="#ff6262" stroke-width="0.62"/>
<rect x="470.2" y="248.47" width="3.2" height="3.2" fill="none" stroke="#ff6262" stroke-width="0.62"/>
<rect x="474.49" y="248.09" width="3.2" height="3.2" fill="none" stroke="#ff6262" stroke-width="0.62"/>
<rect x="478.78" y="247.64" width="3.2" height="3.2" fill="none" stroke="#ff6262" stroke-width="0.62"/>
<rect x="483.08" y="248.24" width="3.2" height="3.2" fill="none" stroke="#ff6262" stroke-width="0.62"/>
<rect x="487.37" y="248.08" width="3.2" height="3.2" fill="none" stroke="#ff6262" stroke-width="0.62"/>
<rect x="491.67" y="247.63" width="3.2" height="3.2" fill="none" stroke="#ff6262" stroke-width="0.62"/>
<rect x="495.96" y="247.68" width="3.2" height="3.2" fill="none" stroke="#ff6262" stroke-width="0.62"/>
<polyline points="326.66,383.78 330.09,305.18 334.39,275.37 338.68,261.81 342.98,258.09 347.27,259.78 351.56,263.85 355.86,269.27 360.15,274.69 364.45,277.06 368.74,284.18 373.03,286.89 377.33,297.05 381.62,299.76 385.92,305.86 390.21,309.25 394.5,311.62 398.8,318.06 403.09,319.41 407.39,324.42 411.68,327.54 415.97,328.9 420.27,333.64 424.56,336.35 428.86,336.69 433.15,339.47 437.44,340.62 441.74,345.16 446.03,345.16 450.33,347.19 454.62,349.22 458.91,353.29 463.21,349.9 467.5,354.65 471.8,353.29 476.09,353.29 480.38,351.6 484.68,356.68 488.97,358.03 493.27,356.68 497.56,362.1" fill="none" stroke="#3a3aff" stroke-width="0.65" stroke-linejoin="round"/>
<path d="M326.66 382.77V384.8M324.96 382.77h3.4M324.96 384.8h3.4M330.09 301.24V309.12M328.39 301.24h3.4M328.39 309.12h3.4M334.39 271.04V279.7M332.69 271.04h3.4M332.69 279.7h3.4M338.68 256.77V266.86M336.98 256.77h3.4M336.98 266.86h3.4M342.98 253.47V262.7M341.28 253.47h3.4M341.28 262.7h3.4M347.27 254.29V265.28M345.57 254.29h3.4M345.57 265.28h3.4M351.56 261.45V266.25M349.86 261.45h3.4M349.86 266.25h3.4M355.86 265.05V273.49M354.16 265.05h3.4M354.16 273.49h3.4M360.15 268.34V281.04M358.45 268.34h3.4M358.45 281.04h3.4M364.45 271.7V282.42M362.75 271.7h3.4M362.75 282.42h3.4M368.74 277.49V290.86M367.04 277.49h3.4M367.04 290.86h3.4M373.03 283.56V290.21M371.33 283.56h3.4M371.33 290.21h3.4M377.33 291.91V302.19M375.63 291.91h3.4M375.63 302.19h3.4M381.62 295.54V303.98M379.92 295.54h3.4M379.92 303.98h3.4M385.92 299.98V311.74M384.22 299.98h3.4M384.22 311.74h3.4M390.21 303.01V315.48M388.51 303.01h3.4M388.51 315.48h3.4M394.5 308.23V315.01M392.8 308.23h3.4M392.8 315.01h3.4M398.8 313.42V322.69M397.1 313.42h3.4M397.1 322.69h3.4M403.09 314.28V324.54M401.39 314.28h3.4M401.39 324.54h3.4M407.39 315.37V333.48M405.69 315.37h3.4M405.69 333.48h3.4M411.68 319.15V335.94M409.98 319.15h3.4M409.98 335.94h3.4M415.97 324.2V333.6M414.27 324.2h3.4M414.27 333.6h3.4M420.27 325.05V342.23M418.57 325.05h3.4M418.57 342.23h3.4M424.56 331.78V340.92M422.86 331.78h3.4M422.86 340.92h3.4M428.86 329.2V344.18M427.16 329.2h3.4M427.16 344.18h3.4M433.15 334.97V343.97M431.45 334.97h3.4M431.45 343.97h3.4M437.44 336.88V344.36M435.74 336.88h3.4M435.74 344.36h3.4M441.74 336.12V354.2M440.04 336.12h3.4M440.04 354.2h3.4M446.03 340.16V350.16M444.33 340.16h3.4M444.33 350.16h3.4M450.33 342.15V352.23M448.63 342.15h3.4M448.63 352.23h3.4M454.62 339.51V358.94M452.92 339.51h3.4M452.92 358.94h3.4M458.91 344.24V362.34M457.21 344.24h3.4M457.21 362.34h3.4M463.21 344.41V355.39M461.51 344.41h3.4M461.51 355.39h3.4M467.5 345.06V364.24M465.8 345.06h3.4M465.8 364.24h3.4M471.8 346.28V360.31M470.1 346.28h3.4M470.1 360.31h3.4M476.09 345.43V361.15M474.39 345.43h3.4M474.39 361.15h3.4M480.38 346.62V356.57M478.68 346.62h3.4M478.68 356.57h3.4M484.68 347.21V366.14M482.98 347.21h3.4M482.98 366.14h3.4M488.97 350.09V365.97M487.27 350.09h3.4M487.27 365.97h3.4M493.27 347.06V366.3M491.57 347.06h3.4M491.57 366.3h3.4M497.56 352.92V371.28M495.86 352.92h3.4M495.86 371.28h3.4" stroke="#4a4aff" stroke-width="0.55" fill="none"/>
<circle cx="326.66" cy="383.78" r="2.2" fill="none" stroke="#2a2aff" stroke-width="0.95"/>
<circle cx="330.09" cy="305.18" r="2.2" fill="none" stroke="#2a2aff" stroke-width="0.95"/>
<circle cx="334.39" cy="275.37" r="2.2" fill="none" stroke="#2a2aff" stroke-width="0.95"/>
<circle cx="338.68" cy="261.81" r="2.2" fill="none" stroke="#2a2aff" stroke-width="0.95"/>
<circle cx="342.98" cy="258.09" r="2.2" fill="none" stroke="#2a2aff" stroke-width="0.95"/>
<circle cx="347.27" cy="259.78" r="2.2" fill="none" stroke="#2a2aff" stroke-width="0.95"/>
<circle cx="351.56" cy="263.85" r="2.2" fill="none" stroke="#2a2aff" stroke-width="0.95"/>
<circle cx="355.86" cy="269.27" r="2.2" fill="none" stroke="#2a2aff" stroke-width="0.95"/>
<circle cx="360.15" cy="274.69" r="2.2" fill="none" stroke="#2a2aff" stroke-width="0.95"/>
<circle cx="364.45" cy="277.06" r="2.2" fill="none" stroke="#2a2aff" stroke-width="0.95"/>
<circle cx="368.74" cy="284.18" r="2.2" fill="none" stroke="#2a2aff" stroke-width="0.95"/>
<circle cx="373.03" cy="286.89" r="2.2" fill="none" stroke="#2a2aff" stroke-width="0.95"/>
<circle cx="377.33" cy="297.05" r="2.2" fill="none" stroke="#2a2aff" stroke-width="0.95"/>
<circle cx="381.62" cy="299.76" r="2.2" fill="none" stroke="#2a2aff" stroke-width="0.95"/>
<circle cx="385.92" cy="305.86" r="2.2" fill="none" stroke="#2a2aff" stroke-width="0.95"/>
<circle cx="390.21" cy="309.25" r="2.2" fill="none" stroke="#2a2aff" stroke-width="0.95"/>
<circle cx="394.5" cy="311.62" r="2.2" fill="none" stroke="#2a2aff" stroke-width="0.95"/>
<circle cx="398.8" cy="318.06" r="2.2" fill="none" stroke="#2a2aff" stroke-width="0.95"/>
<circle cx="403.09" cy="319.41" r="2.2" fill="none" stroke="#2a2aff" stroke-width="0.95"/>
<circle cx="407.39" cy="324.42" r="2.2" fill="none" stroke="#2a2aff" stroke-width="0.95"/>
<circle cx="411.68" cy="327.54" r="2.2" fill="none" stroke="#2a2aff" stroke-width="0.95"/>
<circle cx="415.97" cy="328.9" r="2.2" fill="none" stroke="#2a2aff" stroke-width="0.95"/>
<circle cx="420.27" cy="333.64" r="2.2" fill="none" stroke="#2a2aff" stroke-width="0.95"/>
<circle cx="424.56" cy="336.35" r="2.2" fill="none" stroke="#2a2aff" stroke-width="0.95"/>
<circle cx="428.86" cy="336.69" r="2.2" fill="none" stroke="#2a2aff" stroke-width="0.95"/>
<circle cx="433.15" cy="339.47" r="2.2" fill="none" stroke="#2a2aff" stroke-width="0.95"/>
<circle cx="437.44" cy="340.62" r="2.2" fill="none" stroke="#2a2aff" stroke-width="0.95"/>
<circle cx="441.74" cy="345.16" r="2.2" fill="none" stroke="#2a2aff" stroke-width="0.95"/>
<circle cx="446.03" cy="345.16" r="2.2" fill="none" stroke="#2a2aff" stroke-width="0.95"/>
<circle cx="450.33" cy="347.19" r="2.2" fill="none" stroke="#2a2aff" stroke-width="0.95"/>
<circle cx="454.62" cy="349.22" r="2.2" fill="none" stroke="#2a2aff" stroke-width="0.95"/>
<circle cx="458.91" cy="353.29" r="2.2" fill="none" stroke="#2a2aff" stroke-width="0.95"/>
<circle cx="463.21" cy="349.9" r="2.2" fill="none" stroke="#2a2aff" stroke-width="0.95"/>
<circle cx="467.5" cy="354.65" r="2.2" fill="none" stroke="#2a2aff" stroke-width="0.95"/>
<circle cx="471.8" cy="353.29" r="2.2" fill="none" stroke="#2a2aff" stroke-width="0.95"/>
<circle cx="476.09" cy="353.29" r="2.2" fill="none" stroke="#2a2aff" stroke-width="0.95"/>
<circle cx="480.38" cy="351.6" r="2.2" fill="none" stroke="#2a2aff" stroke-width="0.95"/>
<circle cx="484.68" cy="356.68" r="2.2" fill="none" stroke="#2a2aff" stroke-width="0.95"/>
<circle cx="488.97" cy="358.03" r="2.2" fill="none" stroke="#2a2aff" stroke-width="0.95"/>
<circle cx="493.27" cy="356.68" r="2.2" fill="none" stroke="#2a2aff" stroke-width="0.95"/>
<circle cx="497.56" cy="362.1" r="2.2" fill="none" stroke="#2a2aff" stroke-width="0.95"/>
<rect x="325.4" y="232" width="214.7" height="169.4" fill="none" stroke="#7a7a7a" stroke-width="1.0"/>
<rect x="478" y="256.5" width="54" height="18" fill="#fff"/>
<line x1="480" y1="261" x2="499.4" y2="261" stroke="#3a3aff" stroke-width="0.65"/>
<path d="M489.7 258.2V263.8M488.3 258.2h2.8M488.3 263.8h2.8" stroke="#4a4aff" stroke-width="0.55" fill="none"/>
<circle cx="489.7" cy="261" r="2.2" fill="none" stroke="#2a2aff" stroke-width="0.95"/>
<line x1="480" y1="270" x2="499.4" y2="270" stroke="#ff4d4d" stroke-width="0.65"/>
<path d="M489.7 267.2V272.8M488.3 267.2h2.8M488.3 272.8h2.8" stroke="#ff6060" stroke-width="0.55" fill="none"/>
<rect x="488.3" y="268.6" width="2.8" height="2.8" fill="none" stroke="#ff5a5a" stroke-width="0.6"/>
<text x="501" y="263.1" font-size="5.95" text-anchor="start" fill="#1a1a1a" stroke="#1a1a1a" stroke-width="0.28">white-noise</text>
<text x="501" y="272.1" font-size="5.95" text-anchor="start" fill="#1a1a1a" stroke="#1a1a1a" stroke-width="0.28">pink-noise</text>
<line x1="71.48" y1="459.3" x2="71.48" y2="628.3" stroke="#eeeeee" stroke-width="0.7"/>
<line x1="114.46" y1="459.3" x2="114.46" y2="628.3" stroke="#eeeeee" stroke-width="0.7"/>
<line x1="157.44" y1="459.3" x2="157.44" y2="628.3" stroke="#eeeeee" stroke-width="0.7"/>
<line x1="200.42" y1="459.3" x2="200.42" y2="628.3" stroke="#eeeeee" stroke-width="0.7"/>
<line x1="28.5" y1="607.17" x2="243.4" y2="607.17" stroke="#eeeeee" stroke-width="0.7"/>
<line x1="28.5" y1="586.05" x2="243.4" y2="586.05" stroke="#eeeeee" stroke-width="0.7"/>
<line x1="28.5" y1="564.92" x2="243.4" y2="564.92" stroke="#eeeeee" stroke-width="0.7"/>
<line x1="28.5" y1="543.8" x2="243.4" y2="543.8" stroke="#eeeeee" stroke-width="0.7"/>
<line x1="28.5" y1="522.67" x2="243.4" y2="522.67" stroke="#eeeeee" stroke-width="0.7"/>
<line x1="28.5" y1="501.55" x2="243.4" y2="501.55" stroke="#eeeeee" stroke-width="0.7"/>
<line x1="28.5" y1="480.43" x2="243.4" y2="480.43" stroke="#eeeeee" stroke-width="0.7"/>
<line x1="71.48" y1="628.3" x2="71.48" y2="626.3" stroke="#7a7a7a" stroke-width="0.7"/>
<line x1="71.48" y1="459.3" x2="71.48" y2="461.3" stroke="#7a7a7a" stroke-width="0.7"/>
<line x1="114.46" y1="628.3" x2="114.46" y2="626.3" stroke="#7a7a7a" stroke-width="0.7"/>
<line x1="114.46" y1="459.3" x2="114.46" y2="461.3" stroke="#7a7a7a" stroke-width="0.7"/>
<line x1="157.44" y1="628.3" x2="157.44" y2="626.3" stroke="#7a7a7a" stroke-width="0.7"/>
<line x1="157.44" y1="459.3" x2="157.44" y2="461.3" stroke="#7a7a7a" stroke-width="0.7"/>
<line x1="200.42" y1="628.3" x2="200.42" y2="626.3" stroke="#7a7a7a" stroke-width="0.7"/>
<line x1="200.42" y1="459.3" x2="200.42" y2="461.3" stroke="#7a7a7a" stroke-width="0.7"/>
<line x1="28.5" y1="628.3" x2="30.5" y2="628.3" stroke="#7a7a7a" stroke-width="0.7"/>
<line x1="243.4" y1="628.3" x2="241.4" y2="628.3" stroke="#7a7a7a" stroke-width="0.7"/>
<line x1="28.5" y1="607.17" x2="30.5" y2="607.17" stroke="#7a7a7a" stroke-width="0.7"/>
<line x1="243.4" y1="607.17" x2="241.4" y2="607.17" stroke="#7a7a7a" stroke-width="0.7"/>
<line x1="28.5" y1="586.05" x2="30.5" y2="586.05" stroke="#7a7a7a" stroke-width="0.7"/>
<line x1="243.4" y1="586.05" x2="241.4" y2="586.05" stroke="#7a7a7a" stroke-width="0.7"/>
<line x1="28.5" y1="564.92" x2="30.5" y2="564.92" stroke="#7a7a7a" stroke-width="0.7"/>
<line x1="243.4" y1="564.92" x2="241.4" y2="564.92" stroke="#7a7a7a" stroke-width="0.7"/>
<line x1="28.5" y1="543.8" x2="30.5" y2="543.8" stroke="#7a7a7a" stroke-width="0.7"/>
<line x1="243.4" y1="543.8" x2="241.4" y2="543.8" stroke="#7a7a7a" stroke-width="0.7"/>
<line x1="28.5" y1="522.67" x2="30.5" y2="522.67" stroke="#7a7a7a" stroke-width="0.7"/>
<line x1="243.4" y1="522.67" x2="241.4" y2="522.67" stroke="#7a7a7a" stroke-width="0.7"/>
<line x1="28.5" y1="501.55" x2="30.5" y2="501.55" stroke="#7a7a7a" stroke-width="0.7"/>
<line x1="243.4" y1="501.55" x2="241.4" y2="501.55" stroke="#7a7a7a" stroke-width="0.7"/>
<line x1="28.5" y1="480.43" x2="30.5" y2="480.43" stroke="#7a7a7a" stroke-width="0.7"/>
<line x1="243.4" y1="480.43" x2="241.4" y2="480.43" stroke="#7a7a7a" stroke-width="0.7"/>
<line x1="28.5" y1="459.3" x2="30.5" y2="459.3" stroke="#7a7a7a" stroke-width="0.7"/>
<line x1="243.4" y1="459.3" x2="241.4" y2="459.3" stroke="#7a7a7a" stroke-width="0.7"/>
<text x="28.5" y="638" font-size="6.5" text-anchor="middle" fill="#1a1a1a" stroke="#1a1a1a" stroke-width="0.28">0</text>
<text x="71.48" y="638" font-size="6.5" text-anchor="middle" fill="#1a1a1a" stroke="#1a1a1a" stroke-width="0.28">500</text>
<text x="114.46" y="638" font-size="6.5" text-anchor="middle" fill="#1a1a1a" stroke="#1a1a1a" stroke-width="0.28">1000</text>
<text x="157.44" y="638" font-size="6.5" text-anchor="middle" fill="#1a1a1a" stroke="#1a1a1a" stroke-width="0.28">1500</text>
<text x="200.42" y="638" font-size="6.5" text-anchor="middle" fill="#1a1a1a" stroke="#1a1a1a" stroke-width="0.28">2000</text>
<text x="243.4" y="638" font-size="6.5" text-anchor="middle" fill="#1a1a1a" stroke="#1a1a1a" stroke-width="0.28">2500</text>
<text x="24.6" y="630.5" font-size="6.5" text-anchor="end" fill="#1a1a1a" stroke="#1a1a1a" stroke-width="0.28">0.2</text>
<text x="24.6" y="609.38" font-size="6.5" text-anchor="end" fill="#1a1a1a" stroke="#1a1a1a" stroke-width="0.28">0.3</text>
<text x="24.6" y="588.25" font-size="6.5" text-anchor="end" fill="#1a1a1a" stroke="#1a1a1a" stroke-width="0.28">0.4</text>
<text x="24.6" y="567.12" font-size="6.5" text-anchor="end" fill="#1a1a1a" stroke="#1a1a1a" stroke-width="0.28">0.5</text>
<text x="24.6" y="546" font-size="6.5" text-anchor="end" fill="#1a1a1a" stroke="#1a1a1a" stroke-width="0.28">0.6</text>
<text x="24.6" y="524.88" font-size="6.5" text-anchor="end" fill="#1a1a1a" stroke="#1a1a1a" stroke-width="0.28">0.7</text>
<text x="24.6" y="503.75" font-size="6.5" text-anchor="end" fill="#1a1a1a" stroke="#1a1a1a" stroke-width="0.28">0.8</text>
<text x="24.6" y="482.62" font-size="6.5" text-anchor="end" fill="#1a1a1a" stroke="#1a1a1a" stroke-width="0.28">0.9</text>
<text x="24.6" y="461.5" font-size="6.5" text-anchor="end" fill="#1a1a1a" stroke="#1a1a1a" stroke-width="0.28">1</text>
<text x="11.9" y="543.8" font-size="7.2" text-anchor="middle" fill="#1a1a1a" stroke="#1a1a1a" stroke-width="0.28" transform="rotate(-90 11.9 543.8)">Entropy,Hq</text>
<text x="135.95" y="648.1" font-size="7.2" text-anchor="middle" fill="#1a1a1a" stroke="#1a1a1a" stroke-width="0.28">length,L</text>
<text x="131" y="667.5" font-family="'Liberation Serif', 'Times New Roman', serif" font-size="13.6" text-anchor="middle" fill="#111">(<tspan font-weight="bold">e</tspan>)</text>
<polyline points="29.76,600.84 33.2,532.18 37.5,528.17 41.79,525 46.09,523.94 50.39,522.67 54.69,523.1 58.99,522.04 63.28,523.94 67.58,524.79 71.88,525 76.18,525 80.48,526.05 84.77,525.84 89.07,526.05 93.37,527.11 97.67,527.32 101.97,527.75 106.26,528.17 110.56,527.75 114.86,529.01 119.16,528.59 123.46,529.01 127.75,528.8 132.05,529.22 136.35,529.6 140.65,529.86 144.95,529.99 149.24,530.28 153.54,529.95 157.84,530.7 162.14,530.85 166.44,530.91 170.73,531.12 175.03,531.34 179.33,531.23 183.63,531.34 187.93,532.05 192.22,531.97 196.52,531.95 200.82,531.97" fill="none" stroke="#ff4d4d" stroke-width="0.65" stroke-linejoin="round"/>
<path d="M29.76 595.56V606.12M28.06 595.56h3.4M28.06 606.12h3.4M33.2 530.18V534.18M31.5 530.18h3.4M31.5 534.18h3.4M37.5 526.17V530.17M35.8 526.17h3.4M35.8 530.17h3.4M41.79 522.72V527.28M40.09 522.72h3.4M40.09 527.28h3.4M46.09 522.78V525.1M44.39 522.78h3.4M44.39 525.1h3.4M50.39 521.44V523.91M48.69 521.44h3.4M48.69 523.91h3.4M54.69 522V524.19M52.99 522h3.4M52.99 524.19h3.4M58.99 520.82V523.27M57.29 520.82h3.4M57.29 523.27h3.4M63.28 521.86V526.03M61.58 521.86h3.4M61.58 526.03h3.4M67.58 523.72V525.85M65.88 523.72h3.4M65.88 525.85h3.4M71.88 523.26V526.74M70.18 523.26h3.4M70.18 526.74h3.4M76.18 523.79V526.21M74.48 523.79h3.4M74.48 526.21h3.4M80.48 524.71V527.4M78.78 524.71h3.4M78.78 527.4h3.4M84.77 524.27V527.42M83.07 524.27h3.4M83.07 527.42h3.4M89.07 523.79V528.32M87.37 523.79h3.4M87.37 528.32h3.4M93.37 525.24V528.98M91.67 525.24h3.4M91.67 528.98h3.4M97.67 526.45V528.19M95.97 526.45h3.4M95.97 528.19h3.4M101.97 526.43V529.06M100.27 526.43h3.4M100.27 529.06h3.4M106.26 527.07V529.26M104.56 527.07h3.4M104.56 529.26h3.4M110.56 525.43V530.06M108.86 525.43h3.4M108.86 530.06h3.4M114.86 526.8V531.23M113.16 526.8h3.4M113.16 531.23h3.4M119.16 526.38V530.8M117.46 526.38h3.4M117.46 530.8h3.4M123.46 526.77V531.25M121.76 526.77h3.4M121.76 531.25h3.4M127.75 526.7V530.9M126.05 526.7h3.4M126.05 530.9h3.4M132.05 526.77V531.67M130.35 526.77h3.4M130.35 531.67h3.4M136.35 527.41V531.79M134.65 527.41h3.4M134.65 531.79h3.4M140.65 528.58V531.14M138.95 528.58h3.4M138.95 531.14h3.4M144.95 527.71V532.27M143.25 527.71h3.4M143.25 532.27h3.4M149.24 528.61V531.95M147.54 528.61h3.4M147.54 531.95h3.4M153.54 527.83V532.07M151.84 527.83h3.4M151.84 532.07h3.4M157.84 528.9V532.5M156.14 528.9h3.4M156.14 532.5h3.4M162.14 529.28V532.42M160.44 529.28h3.4M160.44 532.42h3.4M166.44 529.45V532.37M164.74 529.45h3.4M164.74 532.37h3.4M170.73 529.54V532.69M169.03 529.54h3.4M169.03 532.69h3.4M175.03 529.96V532.71M173.33 529.96h3.4M173.33 532.71h3.4M179.33 530.18V532.27M177.63 530.18h3.4M177.63 532.27h3.4M183.63 529.11V533.57M181.93 529.11h3.4M181.93 533.57h3.4M187.93 529.86V534.25M186.23 529.86h3.4M186.23 534.25h3.4M192.22 529.46V534.48M190.52 529.46h3.4M190.52 534.48h3.4M196.52 529.94V533.97M194.82 529.94h3.4M194.82 533.97h3.4M200.82 530.19V533.75M199.12 530.19h3.4M199.12 533.75h3.4" stroke="#ff6a6a" stroke-width="0.55" fill="none"/>
<rect x="28.16" y="599.24" width="3.2" height="3.2" fill="none" stroke="#ff6262" stroke-width="0.62"/>
<rect x="31.6" y="530.58" width="3.2" height="3.2" fill="none" stroke="#ff6262" stroke-width="0.62"/>
<rect x="35.9" y="526.57" width="3.2" height="3.2" fill="none" stroke="#ff6262" stroke-width="0.62"/>
<rect x="40.19" y="523.4" width="3.2" height="3.2" fill="none" stroke="#ff6262" stroke-width="0.62"/>
<rect x="44.49" y="522.34" width="3.2" height="3.2" fill="none" stroke="#ff6262" stroke-width="0.62"/>
<rect x="48.79" y="521.07" width="3.2" height="3.2" fill="none" stroke="#ff6262" stroke-width="0.62"/>
<rect x="53.09" y="521.5" width="3.2" height="3.2" fill="none" stroke="#ff6262" stroke-width="0.62"/>
<rect x="57.39" y="520.44" width="3.2" height="3.2" fill="none" stroke="#ff6262" stroke-width="0.62"/>
<rect x="61.68" y="522.34" width="3.2" height="3.2" fill="none" stroke="#ff6262" stroke-width="0.62"/>
<rect x="65.98" y="523.19" width="3.2" height="3.2" fill="none" stroke="#ff6262" stroke-width="0.62"/>
<rect x="70.28" y="523.4" width="3.2" height="3.2" fill="none" stroke="#ff6262" stroke-width="0.62"/>
<rect x="74.58" y="523.4" width="3.2" height="3.2" fill="none" stroke="#ff6262" stroke-width="0.62"/>
<rect x="78.88" y="524.45" width="3.2" height="3.2" fill="none" stroke="#ff6262" stroke-width="0.62"/>
<rect x="83.17" y="524.24" width="3.2" height="3.2" fill="none" stroke="#ff6262" stroke-width="0.62"/>
<rect x="87.47" y="524.45" width="3.2" height="3.2" fill="none" stroke="#ff6262" stroke-width="0.62"/>
<rect x="91.77" y="525.51" width="3.2" height="3.2" fill="none" stroke="#ff6262" stroke-width="0.62"/>
<rect x="96.07" y="525.72" width="3.2" height="3.2" fill="none" stroke="#ff6262" stroke-width="0.62"/>
<rect x="100.37" y="526.14" width="3.2" height="3.2" fill="none" stroke="#ff6262" stroke-width="0.62"/>
<rect x="104.66" y="526.57" width="3.2" height="3.2" fill="none" stroke="#ff6262" stroke-width="0.62"/>
<rect x="108.96" y="526.14" width="3.2" height="3.2" fill="none" stroke="#ff6262" stroke-width="0.62"/>
<rect x="113.26" y="527.41" width="3.2" height="3.2" fill="none" stroke="#ff6262" stroke-width="0.62"/>
<rect x="117.56" y="526.99" width="3.2" height="3.2" fill="none" stroke="#ff6262" stroke-width="0.62"/>
<rect x="121.86" y="527.41" width="3.2" height="3.2" fill="none" stroke="#ff6262" stroke-width="0.62"/>
<rect x="126.15" y="527.2" width="3.2" height="3.2" fill="none" stroke="#ff6262" stroke-width="0.62"/>
<rect x="130.45" y="527.62" width="3.2" height="3.2" fill="none" stroke="#ff6262" stroke-width="0.62"/>
<rect x="134.75" y="528" width="3.2" height="3.2" fill="none" stroke="#ff6262" stroke-width="0.62"/>
<rect x="139.05" y="528.26" width="3.2" height="3.2" fill="none" stroke="#ff6262" stroke-width="0.62"/>
<rect x="143.35" y="528.39" width="3.2" height="3.2" fill="none" stroke="#ff6262" stroke-width="0.62"/>
<rect x="147.64" y="528.68" width="3.2" height="3.2" fill="none" stroke="#ff6262" stroke-width="0.62"/>
<rect x="151.94" y="528.35" width="3.2" height="3.2" fill="none" stroke="#ff6262" stroke-width="0.62"/>
<rect x="156.24" y="529.1" width="3.2" height="3.2" fill="none" stroke="#ff6262" stroke-width="0.62"/>
<rect x="160.54" y="529.25" width="3.2" height="3.2" fill="none" stroke="#ff6262" stroke-width="0.62"/>
<rect x="164.84" y="529.31" width="3.2" height="3.2" fill="none" stroke="#ff6262" stroke-width="0.62"/>
<rect x="169.13" y="529.52" width="3.2" height="3.2" fill="none" stroke="#ff6262" stroke-width="0.62"/>
<rect x="173.43" y="529.74" width="3.2" height="3.2" fill="none" stroke="#ff6262" stroke-width="0.62"/>
<rect x="177.73" y="529.63" width="3.2" height="3.2" fill="none" stroke="#ff6262" stroke-width="0.62"/>
<rect x="182.03" y="529.74" width="3.2" height="3.2" fill="none" stroke="#ff6262" stroke-width="0.62"/>
<rect x="186.33" y="530.45" width="3.2" height="3.2" fill="none" stroke="#ff6262" stroke-width="0.62"/>
<rect x="190.62" y="530.37" width="3.2" height="3.2" fill="none" stroke="#ff6262" stroke-width="0.62"/>
<rect x="194.92" y="530.35" width="3.2" height="3.2" fill="none" stroke="#ff6262" stroke-width="0.62"/>
<rect x="199.22" y="530.37" width="3.2" height="3.2" fill="none" stroke="#ff6262" stroke-width="0.62"/>
<polyline points="29.76,602.53 33.2,527.32 37.5,511.69 41.79,501.55 46.09,496.06 50.39,491.62 54.69,489.3 58.99,486.55 63.28,485.07 67.58,485.92 71.88,482.54 76.18,482.96 80.48,481.48 84.77,481.06 89.07,480 93.37,480 97.67,480 101.97,478.52 106.26,478.95 110.56,478.1 114.86,478.1 119.16,477.89 123.46,477.89 127.75,477.05 132.05,476.83 136.35,477.26 140.65,476.62 144.95,476.83 149.24,476.41 153.54,476.83 157.84,476.41 162.14,476.2 166.44,476.62 170.73,476.2 175.03,476.41 179.33,475.99 183.63,476.2 187.93,475.78 192.22,475.57 196.52,476.2 200.82,475.99" fill="none" stroke="#3a3aff" stroke-width="0.65" stroke-linejoin="round"/>
<path d="M29.76 598.3V606.75M28.06 598.3h3.4M28.06 606.75h3.4M33.2 526.22V528.42M31.5 526.22h3.4M31.5 528.42h3.4M37.5 510.58V512.8M35.8 510.58h3.4M35.8 512.8h3.4M41.79 500.94V502.16M40.09 500.94h3.4M40.09 502.16h3.4M46.09 495.57V496.54M44.39 495.57h3.4M44.39 496.54h3.4M50.39 490.79V492.45M48.69 490.79h3.4M48.69 492.45h3.4M54.69 488.56V490.03M52.99 488.56h3.4M52.99 490.03h3.4M58.99 485.31V487.8M57.29 485.31h3.4M57.29 487.8h3.4M63.28 483.94V486.2M61.58 483.94h3.4M61.58 486.2h3.4M67.58 484.87V486.96M65.88 484.87h3.4M65.88 486.96h3.4M71.88 481.53V483.54M70.18 481.53h3.4M70.18 483.54h3.4M76.18 481.86V484.06M74.48 481.86h3.4M74.48 484.06h3.4M80.48 480.87V482.09M78.78 480.87h3.4M78.78 482.09h3.4M84.77 480.17V481.95M83.07 480.17h3.4M83.07 481.95h3.4M89.07 479.37V480.63M87.37 479.37h3.4M87.37 480.63h3.4M93.37 478.67V481.34M91.67 478.67h3.4M91.67 481.34h3.4M97.67 479.47V480.53M95.97 479.47h3.4M95.97 480.53h3.4M101.97 477.27V479.78M100.27 477.27h3.4M100.27 479.78h3.4M106.26 478.4V479.49M104.56 478.4h3.4M104.56 479.49h3.4M110.56 476.97V479.23M108.86 476.97h3.4M108.86 479.23h3.4M114.86 477.31V478.9M113.16 477.31h3.4M113.16 478.9h3.4M119.16 477.03V478.75M117.46 477.03h3.4M117.46 478.75h3.4M123.46 476.61V479.17M121.76 476.61h3.4M121.76 479.17h3.4M127.75 476.55V477.54M126.05 476.55h3.4M126.05 477.54h3.4M132.05 476.3V477.37M130.35 476.3h3.4M130.35 477.37h3.4M136.35 475.91V478.6M134.65 475.91h3.4M134.65 478.6h3.4M140.65 475.66V477.58M138.95 475.66h3.4M138.95 477.58h3.4M144.95 476.27V477.4M143.25 476.27h3.4M143.25 477.4h3.4M149.24 475V477.82M147.54 475h3.4M147.54 477.82h3.4M153.54 475.46V478.21M151.84 475.46h3.4M151.84 478.21h3.4M157.84 475.83V476.99M156.14 475.83h3.4M156.14 476.99h3.4M162.14 475.32V477.08M160.44 475.32h3.4M160.44 477.08h3.4M166.44 476.02V477.23M164.74 476.02h3.4M164.74 477.23h3.4M170.73 475.43V476.97M169.03 475.43h3.4M169.03 476.97h3.4M175.03 475.35V477.48M173.33 475.35h3.4M173.33 477.48h3.4M179.33 475.36V476.62M177.63 475.36h3.4M177.63 476.62h3.4M183.63 475.06V477.34M181.93 475.06h3.4M181.93 477.34h3.4M187.93 475.25V476.3M186.23 475.25h3.4M186.23 476.3h3.4M192.22 474.93V476.2M190.52 474.93h3.4M190.52 476.2h3.4M196.52 474.95V477.45M194.82 474.95h3.4M194.82 477.45h3.4M200.82 475.13V476.84M199.12 475.13h3.4M199.12 476.84h3.4" stroke="#4a4aff" stroke-width="0.55" fill="none"/>
<circle cx="29.76" cy="602.53" r="2.2" fill="none" stroke="#2a2aff" stroke-width="0.95"/>
<circle cx="33.2" cy="527.32" r="2.2" fill="none" stroke="#2a2aff" stroke-width="0.95"/>
<circle cx="37.5" cy="511.69" r="2.2" fill="none" stroke="#2a2aff" stroke-width="0.95"/>
<circle cx="41.79" cy="501.55" r="2.2" fill="none" stroke="#2a2aff" stroke-width="0.95"/>
<circle cx="46.09" cy="496.06" r="2.2" fill="none" stroke="#2a2aff" stroke-width="0.95"/>
<circle cx="50.39" cy="491.62" r="2.2" fill="none" stroke="#2a2aff" stroke-width="0.95"/>
<circle cx="54.69" cy="489.3" r="2.2" fill="none" stroke="#2a2aff" stroke-width="0.95"/>
<circle cx="58.99" cy="486.55" r="2.2" fill="none" stroke="#2a2aff" stroke-width="0.95"/>
<circle cx="63.28" cy="485.07" r="2.2" fill="none" stroke="#2a2aff" stroke-width="0.95"/>
<circle cx="67.58" cy="485.92" r="2.2" fill="none" stroke="#2a2aff" stroke-width="0.95"/>
<circle cx="71.88" cy="482.54" r="2.2" fill="none" stroke="#2a2aff" stroke-width="0.95"/>
<circle cx="76.18" cy="482.96" r="2.2" fill="none" stroke="#2a2aff" stroke-width="0.95"/>
<circle cx="80.48" cy="481.48" r="2.2" fill="none" stroke="#2a2aff" stroke-width="0.95"/>
<circle cx="84.77" cy="481.06" r="2.2" fill="none" stroke="#2a2aff" stroke-width="0.95"/>
<circle cx="89.07" cy="480" r="2.2" fill="none" stroke="#2a2aff" stroke-width="0.95"/>
<circle cx="93.37" cy="480" r="2.2" fill="none" stroke="#2a2aff" stroke-width="0.95"/>
<circle cx="97.67" cy="480" r="2.2" fill="none" stroke="#2a2aff" stroke-width="0.95"/>
<circle cx="101.97" cy="478.52" r="2.2" fill="none" stroke="#2a2aff" stroke-width="0.95"/>
<circle cx="106.26" cy="478.95" r="2.2" fill="none" stroke="#2a2aff" stroke-width="0.95"/>
<circle cx="110.56" cy="478.1" r="2.2" fill="none" stroke="#2a2aff" stroke-width="0.95"/>
<circle cx="114.86" cy="478.1" r="2.2" fill="none" stroke="#2a2aff" stroke-width="0.95"/>
<circle cx="119.16" cy="477.89" r="2.2" fill="none" stroke="#2a2aff" stroke-width="0.95"/>
<circle cx="123.46" cy="477.89" r="2.2" fill="none" stroke="#2a2aff" stroke-width="0.95"/>
<circle cx="127.75" cy="477.05" r="2.2" fill="none" stroke="#2a2aff" stroke-width="0.95"/>
<circle cx="132.05" cy="476.83" r="2.2" fill="none" stroke="#2a2aff" stroke-width="0.95"/>
<circle cx="136.35" cy="477.26" r="2.2" fill="none" stroke="#2a2aff" stroke-width="0.95"/>
<circle cx="140.65" cy="476.62" r="2.2" fill="none" stroke="#2a2aff" stroke-width="0.95"/>
<circle cx="144.95" cy="476.83" r="2.2" fill="none" stroke="#2a2aff" stroke-width="0.95"/>
<circle cx="149.24" cy="476.41" r="2.2" fill="none" stroke="#2a2aff" stroke-width="0.95"/>
<circle cx="153.54" cy="476.83" r="2.2" fill="none" stroke="#2a2aff" stroke-width="0.95"/>
<circle cx="157.84" cy="476.41" r="2.2" fill="none" stroke="#2a2aff" stroke-width="0.95"/>
<circle cx="162.14" cy="476.2" r="2.2" fill="none" stroke="#2a2aff" stroke-width="0.95"/>
<circle cx="166.44" cy="476.62" r="2.2" fill="none" stroke="#2a2aff" stroke-width="0.95"/>
<circle cx="170.73" cy="476.2" r="2.2" fill="none" stroke="#2a2aff" stroke-width="0.95"/>
<circle cx="175.03" cy="476.41" r="2.2" fill="none" stroke="#2a2aff" stroke-width="0.95"/>
<circle cx="179.33" cy="475.99" r="2.2" fill="none" stroke="#2a2aff" stroke-width="0.95"/>
<circle cx="183.63" cy="476.2" r="2.2" fill="none" stroke="#2a2aff" stroke-width="0.95"/>
<circle cx="187.93" cy="475.78" r="2.2" fill="none" stroke="#2a2aff" stroke-width="0.95"/>
<circle cx="192.22" cy="475.57" r="2.2" fill="none" stroke="#2a2aff" stroke-width="0.95"/>
<circle cx="196.52" cy="476.2" r="2.2" fill="none" stroke="#2a2aff" stroke-width="0.95"/>
<circle cx="200.82" cy="475.99" r="2.2" fill="none" stroke="#2a2aff" stroke-width="0.95"/>
<rect x="28.5" y="459.3" width="214.9" height="169" fill="none" stroke="#7a7a7a" stroke-width="1.0"/>
<rect x="177.1" y="495" width="53.9" height="17.4" fill="#fff"/>
<line x1="179.1" y1="499.5" x2="198" y2="499.5" stroke="#3a3aff" stroke-width="0.65"/>
<path d="M188.55 496.7V502.3M187.15 496.7h2.8M187.15 502.3h2.8" stroke="#4a4aff" stroke-width="0.55" fill="none"/>
<circle cx="188.55" cy="499.5" r="2.2" fill="none" stroke="#2a2aff" stroke-width="0.95"/>
<line x1="179.1" y1="507.9" x2="198" y2="507.9" stroke="#ff4d4d" stroke-width="0.65"/>
<path d="M188.55 505.1V510.7M187.15 505.1h2.8M187.15 510.7h2.8" stroke="#ff6060" stroke-width="0.55" fill="none"/>
<rect x="187.15" y="506.5" width="2.8" height="2.8" fill="none" stroke="#ff5a5a" stroke-width="0.6"/>
<text x="200" y="501.6" font-size="5.95" text-anchor="start" fill="#1a1a1a" stroke="#1a1a1a" stroke-width="0.28">white-noise</text>
<text x="200" y="510" font-size="5.95" text-anchor="start" fill="#1a1a1a" stroke="#1a1a1a" stroke-width="0.28">pink-noise</text>
<line x1="368.34" y1="459.3" x2="368.34" y2="628.2" stroke="#eeeeee" stroke-width="0.7"/>
<line x1="411.28" y1="459.3" x2="411.28" y2="628.2" stroke="#eeeeee" stroke-width="0.7"/>
<line x1="454.22" y1="459.3" x2="454.22" y2="628.2" stroke="#eeeeee" stroke-width="0.7"/>
<line x1="497.16" y1="459.3" x2="497.16" y2="628.2" stroke="#eeeeee" stroke-width="0.7"/>
<line x1="325.4" y1="604.07" x2="540.1" y2="604.07" stroke="#eeeeee" stroke-width="0.7"/>
<line x1="325.4" y1="579.94" x2="540.1" y2="579.94" stroke="#eeeeee" stroke-width="0.7"/>
<line x1="325.4" y1="555.81" x2="540.1" y2="555.81" stroke="#eeeeee" stroke-width="0.7"/>
<line x1="325.4" y1="531.69" x2="540.1" y2="531.69" stroke="#eeeeee" stroke-width="0.7"/>
<line x1="325.4" y1="507.56" x2="540.1" y2="507.56" stroke="#eeeeee" stroke-width="0.7"/>
<line x1="325.4" y1="483.43" x2="540.1" y2="483.43" stroke="#eeeeee" stroke-width="0.7"/>
<line x1="368.34" y1="628.2" x2="368.34" y2="626.2" stroke="#7a7a7a" stroke-width="0.7"/>
<line x1="368.34" y1="459.3" x2="368.34" y2="461.3" stroke="#7a7a7a" stroke-width="0.7"/>
<line x1="411.28" y1="628.2" x2="411.28" y2="626.2" stroke="#7a7a7a" stroke-width="0.7"/>
<line x1="411.28" y1="459.3" x2="411.28" y2="461.3" stroke="#7a7a7a" stroke-width="0.7"/>
<line x1="454.22" y1="628.2" x2="454.22" y2="626.2" stroke="#7a7a7a" stroke-width="0.7"/>
<line x1="454.22" y1="459.3" x2="454.22" y2="461.3" stroke="#7a7a7a" stroke-width="0.7"/>
<line x1="497.16" y1="628.2" x2="497.16" y2="626.2" stroke="#7a7a7a" stroke-width="0.7"/>
<line x1="497.16" y1="459.3" x2="497.16" y2="461.3" stroke="#7a7a7a" stroke-width="0.7"/>
<line x1="325.4" y1="628.2" x2="327.4" y2="628.2" stroke="#7a7a7a" stroke-width="0.7"/>
<line x1="540.1" y1="628.2" x2="538.1" y2="628.2" stroke="#7a7a7a" stroke-width="0.7"/>
<line x1="325.4" y1="604.07" x2="327.4" y2="604.07" stroke="#7a7a7a" stroke-width="0.7"/>
<line x1="540.1" y1="604.07" x2="538.1" y2="604.07" stroke="#7a7a7a" stroke-width="0.7"/>
<line x1="325.4" y1="579.94" x2="327.4" y2="579.94" stroke="#7a7a7a" stroke-width="0.7"/>
<line x1="540.1" y1="579.94" x2="538.1" y2="579.94" stroke="#7a7a7a" stroke-width="0.7"/>
<line x1="325.4" y1="555.81" x2="327.4" y2="555.81" stroke="#7a7a7a" stroke-width="0.7"/>
<line x1="540.1" y1="555.81" x2="538.1" y2="555.81" stroke="#7a7a7a" stroke-width="0.7"/>
<line x1="325.4" y1="531.69" x2="327.4" y2="531.69" stroke="#7a7a7a" stroke-width="0.7"/>
<line x1="540.1" y1="531.69" x2="538.1" y2="531.69" stroke="#7a7a7a" stroke-width="0.7"/>
<line x1="325.4" y1="507.56" x2="327.4" y2="507.56" stroke="#7a7a7a" stroke-width="0.7"/>
<line x1="540.1" y1="507.56" x2="538.1" y2="507.56" stroke="#7a7a7a" stroke-width="0.7"/>
<line x1="325.4" y1="483.43" x2="327.4" y2="483.43" stroke="#7a7a7a" stroke-width="0.7"/>
<line x1="540.1" y1="483.43" x2="538.1" y2="483.43" stroke="#7a7a7a" stroke-width="0.7"/>
<line x1="325.4" y1="459.3" x2="327.4" y2="459.3" stroke="#7a7a7a" stroke-width="0.7"/>
<line x1="540.1" y1="459.3" x2="538.1" y2="459.3" stroke="#7a7a7a" stroke-width="0.7"/>
<text x="325.4" y="637.9" font-size="6.5" text-anchor="middle" fill="#1a1a1a" stroke="#1a1a1a" stroke-width="0.28">0</text>
<text x="368.34" y="637.9" font-size="6.5" text-anchor="middle" fill="#1a1a1a" stroke="#1a1a1a" stroke-width="0.28">500</text>
<text x="411.28" y="637.9" font-size="6.5" text-anchor="middle" fill="#1a1a1a" stroke="#1a1a1a" stroke-width="0.28">1000</text>
<text x="454.22" y="637.9" font-size="6.5" text-anchor="middle" fill="#1a1a1a" stroke="#1a1a1a" stroke-width="0.28">1500</text>
<text x="497.16" y="637.9" font-size="6.5" text-anchor="middle" fill="#1a1a1a" stroke="#1a1a1a" stroke-width="0.28">2000</text>
<text x="540.1" y="637.9" font-size="6.5" text-anchor="middle" fill="#1a1a1a" stroke="#1a1a1a" stroke-width="0.28">2500</text>
<text x="321.5" y="630.4" font-size="6.5" text-anchor="end" fill="#1a1a1a" stroke="#1a1a1a" stroke-width="0.28">0.1</text>
<text x="321.5" y="606.27" font-size="6.5" text-anchor="end" fill="#1a1a1a" stroke="#1a1a1a" stroke-width="0.28">0.15</text>
<text x="321.5" y="582.14" font-size="6.5" text-anchor="end" fill="#1a1a1a" stroke="#1a1a1a" stroke-width="0.28">0.2</text>
<text x="321.5" y="558.01" font-size="6.5" text-anchor="end" fill="#1a1a1a" stroke="#1a1a1a" stroke-width="0.28">0.25</text>
<text x="321.5" y="533.89" font-size="6.5" text-anchor="end" fill="#1a1a1a" stroke="#1a1a1a" stroke-width="0.28">0.3</text>
<text x="321.5" y="509.76" font-size="6.5" text-anchor="end" fill="#1a1a1a" stroke="#1a1a1a" stroke-width="0.28">0.35</text>
<text x="321.5" y="485.63" font-size="6.5" text-anchor="end" fill="#1a1a1a" stroke="#1a1a1a" stroke-width="0.28">0.4</text>
<text x="321.5" y="461.5" font-size="6.5" text-anchor="end" fill="#1a1a1a" stroke="#1a1a1a" stroke-width="0.28">0.45</text>
<text x="305.3" y="543.75" font-size="7.2" text-anchor="middle" fill="#1a1a1a" stroke="#1a1a1a" stroke-width="0.28" transform="rotate(-90 305.3 543.75)">Entropy,Cq</text>
<text x="432.75" y="648" font-size="7.2" text-anchor="middle" fill="#1a1a1a" stroke="#1a1a1a" stroke-width="0.28">length,L</text>
<text x="427.7" y="667.4" font-family="'Liberation Serif', 'Times New Roman', serif" font-size="13.6" text-anchor="middle" fill="#111">(<tspan font-weight="bold">f</tspan>)</text>
<polyline points="326.66,532.17 330.09,465.57 334.39,475.22 338.68,483.91 342.98,489.22 347.27,492.11 351.56,493.08 355.86,498.87 360.15,497.42 364.45,498.39 368.74,500.8 373.03,501.28 377.33,501.28 381.62,499.84 385.92,502.73 390.21,502.73 394.5,502.73 398.8,504.18 403.09,505.14 407.39,504.18 411.68,503.7 415.97,504.18 420.27,503.7 424.56,504.18 428.86,504.66 433.15,504.37 437.44,504.18 441.74,503.44 446.03,504.18 450.33,503.31 454.62,504.66 458.91,504.93 463.21,504.18 467.5,503.3 471.8,503.7 476.09,503.45 480.38,504.18 484.68,503.79 488.97,504.18 493.27,505.36 497.56,504.66" fill="none" stroke="#ff4d4d" stroke-width="0.65" stroke-linejoin="round"/>
<path d="M326.66 517.69V546.65M324.96 517.69h3.4M324.96 546.65h3.4M330.09 462.78V468.36M328.39 462.78h3.4M328.39 468.36h3.4M334.39 473.01V477.44M332.69 473.01h3.4M332.69 477.44h3.4M338.68 481.71V486.11M336.98 481.71h3.4M336.98 486.11h3.4M342.98 487.28V491.16M341.28 487.28h3.4M341.28 491.16h3.4M347.27 488.86V495.37M345.57 488.86h3.4M345.57 495.37h3.4M351.56 491.37V494.79M349.86 491.37h3.4M349.86 494.79h3.4M355.86 497.46V500.28M354.16 497.46h3.4M354.16 500.28h3.4M360.15 495.77V499.08M358.45 495.77h3.4M358.45 499.08h3.4M364.45 496.74V500.04M362.75 496.74h3.4M362.75 500.04h3.4M368.74 499V502.6M367.04 499h3.4M367.04 502.6h3.4M373.03 499.62V502.95M371.33 499.62h3.4M371.33 502.95h3.4M377.33 499.96V502.6M375.63 499.96h3.4M375.63 502.6h3.4M381.62 498.04V501.63M379.92 498.04h3.4M379.92 501.63h3.4M385.92 500.97V504.49M384.22 500.97h3.4M384.22 504.49h3.4M390.21 500.41V505.05M388.51 500.41h3.4M388.51 505.05h3.4M394.5 501.21V504.26M392.8 501.21h3.4M392.8 504.26h3.4M398.8 502.94V505.42M397.1 502.94h3.4M397.1 505.42h3.4M403.09 503.62V506.67M401.39 503.62h3.4M401.39 506.67h3.4M407.39 501.92V506.44M405.69 501.92h3.4M405.69 506.44h3.4M411.68 501.77V505.63M409.98 501.77h3.4M409.98 505.63h3.4M415.97 501.5V506.86M414.27 501.5h3.4M414.27 506.86h3.4M420.27 500.87V506.53M418.57 500.87h3.4M418.57 506.53h3.4M424.56 502.19V506.16M422.86 502.19h3.4M422.86 506.16h3.4M428.86 503.36V505.96M427.16 503.36h3.4M427.16 505.96h3.4M433.15 501.7V507.03M431.45 501.7h3.4M431.45 507.03h3.4M437.44 501.45V506.91M435.74 501.45h3.4M435.74 506.91h3.4M441.74 501.49V505.39M440.04 501.49h3.4M440.04 505.39h3.4M446.03 501.66V506.69M444.33 501.66h3.4M444.33 506.69h3.4M450.33 501.57V505.04M448.63 501.57h3.4M448.63 505.04h3.4M454.62 501.59V507.73M452.92 501.59h3.4M452.92 507.73h3.4M458.91 502.03V507.82M457.21 502.03h3.4M457.21 507.82h3.4M463.21 501.37V506.98M461.51 501.37h3.4M461.51 506.98h3.4M467.5 500.14V506.45M465.8 500.14h3.4M465.8 506.45h3.4M471.8 502.11V505.29M470.1 502.11h3.4M470.1 505.29h3.4M476.09 501.18V505.71M474.39 501.18h3.4M474.39 505.71h3.4M480.38 501.51V506.85M478.68 501.51h3.4M478.68 506.85h3.4M484.68 500.96V506.62M482.98 500.96h3.4M482.98 506.62h3.4M488.97 502.25V506.11M487.27 502.25h3.4M487.27 506.11h3.4M493.27 503.97V506.75M491.57 503.97h3.4M491.57 506.75h3.4M497.56 502.22V507.11M495.86 502.22h3.4M495.86 507.11h3.4" stroke="#ff6a6a" stroke-width="0.55" fill="none"/>
<rect x="325.06" y="530.57" width="3.2" height="3.2" fill="none" stroke="#ff6262" stroke-width="0.62"/>
<rect x="328.49" y="463.97" width="3.2" height="3.2" fill="none" stroke="#ff6262" stroke-width="0.62"/>
<rect x="332.79" y="473.62" width="3.2" height="3.2" fill="none" stroke="#ff6262" stroke-width="0.62"/>
<rect x="337.08" y="482.31" width="3.2" height="3.2" fill="none" stroke="#ff6262" stroke-width="0.62"/>
<rect x="341.38" y="487.62" width="3.2" height="3.2" fill="none" stroke="#ff6262" stroke-width="0.62"/>
<rect x="345.67" y="490.51" width="3.2" height="3.2" fill="none" stroke="#ff6262" stroke-width="0.62"/>
<rect x="349.96" y="491.48" width="3.2" height="3.2" fill="none" stroke="#ff6262" stroke-width="0.62"/>
<rect x="354.26" y="497.27" width="3.2" height="3.2" fill="none" stroke="#ff6262" stroke-width="0.62"/>
<rect x="358.55" y="495.82" width="3.2" height="3.2" fill="none" stroke="#ff6262" stroke-width="0.62"/>
<rect x="362.85" y="496.79" width="3.2" height="3.2" fill="none" stroke="#ff6262" stroke-width="0.62"/>
<rect x="367.14" y="499.2" width="3.2" height="3.2" fill="none" stroke="#ff6262" stroke-width="0.62"/>
<rect x="371.43" y="499.68" width="3.2" height="3.2" fill="none" stroke="#ff6262" stroke-width="0.62"/>
<rect x="375.73" y="499.68" width="3.2" height="3.2" fill="none" stroke="#ff6262" stroke-width="0.62"/>
<rect x="380.02" y="498.24" width="3.2" height="3.2" fill="none" stroke="#ff6262" stroke-width="0.62"/>
<rect x="384.32" y="501.13" width="3.2" height="3.2" fill="none" stroke="#ff6262" stroke-width="0.62"/>
<rect x="388.61" y="501.13" width="3.2" height="3.2" fill="none" stroke="#ff6262" stroke-width="0.62"/>
<rect x="392.9" y="501.13" width="3.2" height="3.2" fill="none" stroke="#ff6262" stroke-width="0.62"/>
<rect x="397.2" y="502.58" width="3.2" height="3.2" fill="none" stroke="#ff6262" stroke-width="0.62"/>
<rect x="401.49" y="503.54" width="3.2" height="3.2" fill="none" stroke="#ff6262" stroke-width="0.62"/>
<rect x="405.79" y="502.58" width="3.2" height="3.2" fill="none" stroke="#ff6262" stroke-width="0.62"/>
<rect x="410.08" y="502.1" width="3.2" height="3.2" fill="none" stroke="#ff6262" stroke-width="0.62"/>
<rect x="414.37" y="502.58" width="3.2" height="3.2" fill="none" stroke="#ff6262" stroke-width="0.62"/>
<rect x="418.67" y="502.1" width="3.2" height="3.2" fill="none" stroke="#ff6262" stroke-width="0.62"/>
<rect x="422.96" y="502.58" width="3.2" height="3.2" fill="none" stroke="#ff6262" stroke-width="0.62"/>
<rect x="427.26" y="503.06" width="3.2" height="3.2" fill="none" stroke="#ff6262" stroke-width="0.62"/>
<rect x="431.55" y="502.77" width="3.2" height="3.2" fill="none" stroke="#ff6262" stroke-width="0.62"/>
<rect x="435.84" y="502.58" width="3.2" height="3.2" fill="none" stroke="#ff6262" stroke-width="0.62"/>
<rect x="440.14" y="501.84" width="3.2" height="3.2" fill="none" stroke="#ff6262" stroke-width="0.62"/>
<rect x="444.43" y="502.58" width="3.2" height="3.2" fill="none" stroke="#ff6262" stroke-width="0.62"/>
<rect x="448.73" y="501.71" width="3.2" height="3.2" fill="none" stroke="#ff6262" stroke-width="0.62"/>
<rect x="453.02" y="503.06" width="3.2" height="3.2" fill="none" stroke="#ff6262" stroke-width="0.62"/>
<rect x="457.31" y="503.33" width="3.2" height="3.2" fill="none" stroke="#ff6262" stroke-width="0.62"/>
<rect x="461.61" y="502.58" width="3.2" height="3.2" fill="none" stroke="#ff6262" stroke-width="0.62"/>
<rect x="465.9" y="501.7" width="3.2" height="3.2" fill="none" stroke="#ff6262" stroke-width="0.62"/>
<rect x="470.2" y="502.1" width="3.2" height="3.2" fill="none" stroke="#ff6262" stroke-width="0.62"/>
<rect x="474.49" y="501.85" width="3.2" height="3.2" fill="none" stroke="#ff6262" stroke-width="0.62"/>
<rect x="478.78" y="502.58" width="3.2" height="3.2" fill="none" stroke="#ff6262" stroke-width="0.62"/>
<rect x="483.08" y="502.19" width="3.2" height="3.2" fill="none" stroke="#ff6262" stroke-width="0.62"/>
<rect x="487.37" y="502.58" width="3.2" height="3.2" fill="none" stroke="#ff6262" stroke-width="0.62"/>
<rect x="491.67" y="503.76" width="3.2" height="3.2" fill="none" stroke="#ff6262" stroke-width="0.62"/>
<rect x="495.96" y="503.06" width="3.2" height="3.2" fill="none" stroke="#ff6262" stroke-width="0.62"/>
<polyline points="326.66,536.03 330.09,465.57 334.39,486.81 338.68,507.56 342.98,523.96 347.27,536.99 351.56,546.16 355.86,558.23 360.15,564.02 364.45,564.98 368.74,572.7 373.03,573.67 377.33,581.15 381.62,582.6 385.92,586.22 390.21,588.15 394.5,589.11 398.8,593.17 403.09,592.49 407.39,596.54 411.68,596.35 415.97,597.32 420.27,598.76 424.56,600.69 428.86,600.21 433.15,602.14 437.44,602.14 441.74,605.04 446.03,603.11 450.33,604.07 454.62,602.62 458.91,606 463.21,606.97 467.5,606 471.8,606.97 476.09,606.48 480.38,606 484.68,608.41 488.97,609.38 493.27,607.93 497.56,608.9" fill="none" stroke="#3a3aff" stroke-width="0.65" stroke-linejoin="round"/>
<path d="M326.66 520.59V551.47M324.96 520.59h3.4M324.96 551.47h3.4M330.09 460.53V470.62M328.39 460.53h3.4M328.39 470.62h3.4M334.39 483.18V490.43M332.69 483.18h3.4M332.69 490.43h3.4M338.68 504.53V510.59M336.98 504.53h3.4M336.98 510.59h3.4M342.98 519.67V528.26M341.28 519.67h3.4M341.28 528.26h3.4M347.27 532.68V541.31M345.57 532.68h3.4M345.57 541.31h3.4M351.56 541.91V550.42M349.86 541.91h3.4M349.86 550.42h3.4M355.86 554.06V562.39M354.16 554.06h3.4M354.16 562.39h3.4M360.15 560.7V567.34M358.45 560.7h3.4M358.45 567.34h3.4M364.45 561.71V568.26M362.75 561.71h3.4M362.75 568.26h3.4M368.74 567.53V577.88M367.04 567.53h3.4M367.04 577.88h3.4M373.03 570.09V577.25M371.33 570.09h3.4M371.33 577.25h3.4M377.33 576.05V586.25M375.63 576.05h3.4M375.63 586.25h3.4M381.62 577.01V588.19M379.92 577.01h3.4M379.92 588.19h3.4M385.92 580.28V592.15M384.22 580.28h3.4M384.22 592.15h3.4M390.21 581.87V594.42M388.51 581.87h3.4M388.51 594.42h3.4M394.5 585.92V592.3M392.8 585.92h3.4M392.8 592.3h3.4M398.8 589.96V596.37M397.1 589.96h3.4M397.1 596.37h3.4M403.09 587.13V597.85M401.39 587.13h3.4M401.39 597.85h3.4M407.39 591.87V601.21M405.69 591.87h3.4M405.69 601.21h3.4M411.68 593.3V599.4M409.98 593.3h3.4M409.98 599.4h3.4M415.97 592.2V602.43M414.27 592.2h3.4M414.27 602.43h3.4M420.27 592.8V604.73M418.57 592.8h3.4M418.57 604.73h3.4M424.56 594.89V606.49M422.86 594.89h3.4M422.86 606.49h3.4M428.86 597.1V603.32M427.16 597.1h3.4M427.16 603.32h3.4M433.15 598.67V605.61M431.45 598.67h3.4M431.45 605.61h3.4M437.44 599.94V604.34M435.74 599.94h3.4M435.74 604.34h3.4M441.74 598.63V611.45M440.04 598.63h3.4M440.04 611.45h3.4M446.03 599.98V606.24M444.33 599.98h3.4M444.33 606.24h3.4M450.33 598.74V609.4M448.63 598.74h3.4M448.63 609.4h3.4M454.62 598.12V607.13M452.92 598.12h3.4M452.92 607.13h3.4M458.91 601.25V610.75M457.21 601.25h3.4M457.21 610.75h3.4M463.21 602.51V611.43M461.51 602.51h3.4M461.51 611.43h3.4M467.5 600.24V611.76M465.8 600.24h3.4M465.8 611.76h3.4M471.8 602.19V611.74M470.1 602.19h3.4M470.1 611.74h3.4M476.09 603V609.97M474.39 603h3.4M474.39 609.97h3.4M480.38 603.33V608.67M478.68 603.33h3.4M478.68 608.67h3.4M484.68 604.17V612.66M482.98 604.17h3.4M482.98 612.66h3.4M488.97 603.2V615.56M487.27 603.2h3.4M487.27 615.56h3.4M493.27 605.13V610.73M491.57 605.13h3.4M491.57 610.73h3.4M497.56 603.76V614.04M495.86 603.76h3.4M495.86 614.04h3.4" stroke="#4a4aff" stroke-width="0.55" fill="none"/>
<circle cx="326.66" cy="536.03" r="2.2" fill="none" stroke="#2a2aff" stroke-width="0.95"/>
<circle cx="330.09" cy="465.57" r="2.2" fill="none" stroke="#2a2aff" stroke-width="0.95"/>
<circle cx="334.39" cy="486.81" r="2.2" fill="none" stroke="#2a2aff" stroke-width="0.95"/>
<circle cx="338.68" cy="507.56" r="2.2" fill="none" stroke="#2a2aff" stroke-width="0.95"/>
<circle cx="342.98" cy="523.96" r="2.2" fill="none" stroke="#2a2aff" stroke-width="0.95"/>
<circle cx="347.27" cy="536.99" r="2.2" fill="none" stroke="#2a2aff" stroke-width="0.95"/>
<circle cx="351.56" cy="546.16" r="2.2" fill="none" stroke="#2a2aff" stroke-width="0.95"/>
<circle cx="355.86" cy="558.23" r="2.2" fill="none" stroke="#2a2aff" stroke-width="0.95"/>
<circle cx="360.15" cy="564.02" r="2.2" fill="none" stroke="#2a2aff" stroke-width="0.95"/>
<circle cx="364.45" cy="564.98" r="2.2" fill="none" stroke="#2a2aff" stroke-width="0.95"/>
<circle cx="368.74" cy="572.7" r="2.2" fill="none" stroke="#2a2aff" stroke-width="0.95"/>
<circle cx="373.03" cy="573.67" r="2.2" fill="none" stroke="#2a2aff" stroke-width="0.95"/>
<circle cx="377.33" cy="581.15" r="2.2" fill="none" stroke="#2a2aff" stroke-width="0.95"/>
<circle cx="381.62" cy="582.6" r="2.2" fill="none" stroke="#2a2aff" stroke-width="0.95"/>
<circle cx="385.92" cy="586.22" r="2.2" fill="none" stroke="#2a2aff" stroke-width="0.95"/>
<circle cx="390.21" cy="588.15" r="2.2" fill="none" stroke="#2a2aff" stroke-width="0.95"/>
<circle cx="394.5" cy="589.11" r="2.2" fill="none" stroke="#2a2aff" stroke-width="0.95"/>
<circle cx="398.8" cy="593.17" r="2.2" fill="none" stroke="#2a2aff" stroke-width="0.95"/>
<circle cx="403.09" cy="592.49" r="2.2" fill="none" stroke="#2a2aff" stroke-width="0.95"/>
<circle cx="407.39" cy="596.54" r="2.2" fill="none" stroke="#2a2aff" stroke-width="0.95"/>
<circle cx="411.68" cy="596.35" r="2.2" fill="none" stroke="#2a2aff" stroke-width="0.95"/>
<circle cx="415.97" cy="597.32" r="2.2" fill="none" stroke="#2a2aff" stroke-width="0.95"/>
<circle cx="420.27" cy="598.76" r="2.2" fill="none" stroke="#2a2aff" stroke-width="0.95"/>
<circle cx="424.56" cy="600.69" r="2.2" fill="none" stroke="#2a2aff" stroke-width="0.95"/>
<circle cx="428.86" cy="600.21" r="2.2" fill="none" stroke="#2a2aff" stroke-width="0.95"/>
<circle cx="433.15" cy="602.14" r="2.2" fill="none" stroke="#2a2aff" stroke-width="0.95"/>
<circle cx="437.44" cy="602.14" r="2.2" fill="none" stroke="#2a2aff" stroke-width="0.95"/>
<circle cx="441.74" cy="605.04" r="2.2" fill="none" stroke="#2a2aff" stroke-width="0.95"/>
<circle cx="446.03" cy="603.11" r="2.2" fill="none" stroke="#2a2aff" stroke-width="0.95"/>
<circle cx="450.33" cy="604.07" r="2.2" fill="none" stroke="#2a2aff" stroke-width="0.95"/>
<circle cx="454.62" cy="602.62" r="2.2" fill="none" stroke="#2a2aff" stroke-width="0.95"/>
<circle cx="458.91" cy="606" r="2.2" fill="none" stroke="#2a2aff" stroke-width="0.95"/>
<circle cx="463.21" cy="606.97" r="2.2" fill="none" stroke="#2a2aff" stroke-width="0.95"/>
<circle cx="467.5" cy="606" r="2.2" fill="none" stroke="#2a2aff" stroke-width="0.95"/>
<circle cx="471.8" cy="606.97" r="2.2" fill="none" stroke="#2a2aff" stroke-width="0.95"/>
<circle cx="476.09" cy="606.48" r="2.2" fill="none" stroke="#2a2aff" stroke-width="0.95"/>
<circle cx="480.38" cy="606" r="2.2" fill="none" stroke="#2a2aff" stroke-width="0.95"/>
<circle cx="484.68" cy="608.41" r="2.2" fill="none" stroke="#2a2aff" stroke-width="0.95"/>
<circle cx="488.97" cy="609.38" r="2.2" fill="none" stroke="#2a2aff" stroke-width="0.95"/>
<circle cx="493.27" cy="607.93" r="2.2" fill="none" stroke="#2a2aff" stroke-width="0.95"/>
<circle cx="497.56" cy="608.9" r="2.2" fill="none" stroke="#2a2aff" stroke-width="0.95"/>
<rect x="325.4" y="459.3" width="214.7" height="168.9" fill="none" stroke="#7a7a7a" stroke-width="1.0"/>
<rect x="479.2" y="465.1" width="53.9" height="17" fill="#fff"/>
<line x1="481.2" y1="469.6" x2="500" y2="469.6" stroke="#3a3aff" stroke-width="0.65"/>
<path d="M490.6 466.8V472.4M489.2 466.8h2.8M489.2 472.4h2.8" stroke="#4a4aff" stroke-width="0.55" fill="none"/>
<circle cx="490.6" cy="469.6" r="2.2" fill="none" stroke="#2a2aff" stroke-width="0.95"/>
<line x1="481.2" y1="477.6" x2="500" y2="477.6" stroke="#ff4d4d" stroke-width="0.65"/>
<path d="M490.6 474.8V480.4M489.2 474.8h2.8M489.2 480.4h2.8" stroke="#ff6060" stroke-width="0.55" fill="none"/>
<rect x="489.2" y="476.2" width="2.8" height="2.8" fill="none" stroke="#ff5a5a" stroke-width="0.6"/>
<text x="502.1" y="471.7" font-size="5.95" text-anchor="start" fill="#1a1a1a" stroke="#1a1a1a" stroke-width="0.28">white-noise</text>
<text x="502.1" y="479.7" font-size="5.95" text-anchor="start" fill="#1a1a1a" stroke="#1a1a1a" stroke-width="0.28">pink-noise</text>
<line x1="71.48" y1="686" x2="71.48" y2="855.5" stroke="#eeeeee" stroke-width="0.7"/>
<line x1="114.46" y1="686" x2="114.46" y2="855.5" stroke="#eeeeee" stroke-width="0.7"/>
<line x1="157.44" y1="686" x2="157.44" y2="855.5" stroke="#eeeeee" stroke-width="0.7"/>
<line x1="200.42" y1="686" x2="200.42" y2="855.5" stroke="#eeeeee" stroke-width="0.7"/>
<line x1="28.5" y1="827.25" x2="243.4" y2="827.25" stroke="#eeeeee" stroke-width="0.7"/>
<line x1="28.5" y1="799" x2="243.4" y2="799" stroke="#eeeeee" stroke-width="0.7"/>
<line x1="28.5" y1="770.75" x2="243.4" y2="770.75" stroke="#eeeeee" stroke-width="0.7"/>
<line x1="28.5" y1="742.5" x2="243.4" y2="742.5" stroke="#eeeeee" stroke-width="0.7"/>
<line x1="28.5" y1="714.25" x2="243.4" y2="714.25" stroke="#eeeeee" stroke-width="0.7"/>
<line x1="71.48" y1="855.5" x2="71.48" y2="853.5" stroke="#7a7a7a" stroke-width="0.7"/>
<line x1="71.48" y1="686" x2="71.48" y2="688" stroke="#7a7a7a" stroke-width="0.7"/>
<line x1="114.46" y1="855.5" x2="114.46" y2="853.5" stroke="#7a7a7a" stroke-width="0.7"/>
<line x1="114.46" y1="686" x2="114.46" y2="688" stroke="#7a7a7a" stroke-width="0.7"/>
<line x1="157.44" y1="855.5" x2="157.44" y2="853.5" stroke="#7a7a7a" stroke-width="0.7"/>
<line x1="157.44" y1="686" x2="157.44" y2="688" stroke="#7a7a7a" stroke-width="0.7"/>
<line x1="200.42" y1="855.5" x2="200.42" y2="853.5" stroke="#7a7a7a" stroke-width="0.7"/>
<line x1="200.42" y1="686" x2="200.42" y2="688" stroke="#7a7a7a" stroke-width="0.7"/>
<line x1="28.5" y1="855.5" x2="30.5" y2="855.5" stroke="#7a7a7a" stroke-width="0.7"/>
<line x1="243.4" y1="855.5" x2="241.4" y2="855.5" stroke="#7a7a7a" stroke-width="0.7"/>
<line x1="28.5" y1="827.25" x2="30.5" y2="827.25" stroke="#7a7a7a" stroke-width="0.7"/>
<line x1="243.4" y1="827.25" x2="241.4" y2="827.25" stroke="#7a7a7a" stroke-width="0.7"/>
<line x1="28.5" y1="799" x2="30.5" y2="799" stroke="#7a7a7a" stroke-width="0.7"/>
<line x1="243.4" y1="799" x2="241.4" y2="799" stroke="#7a7a7a" stroke-width="0.7"/>
<line x1="28.5" y1="770.75" x2="30.5" y2="770.75" stroke="#7a7a7a" stroke-width="0.7"/>
<line x1="243.4" y1="770.75" x2="241.4" y2="770.75" stroke="#7a7a7a" stroke-width="0.7"/>
<line x1="28.5" y1="742.5" x2="30.5" y2="742.5" stroke="#7a7a7a" stroke-width="0.7"/>
<line x1="243.4" y1="742.5" x2="241.4" y2="742.5" stroke="#7a7a7a" stroke-width="0.7"/>
<line x1="28.5" y1="714.25" x2="30.5" y2="714.25" stroke="#7a7a7a" stroke-width="0.7"/>
<line x1="243.4" y1="714.25" x2="241.4" y2="714.25" stroke="#7a7a7a" stroke-width="0.7"/>
<line x1="28.5" y1="686" x2="30.5" y2="686" stroke="#7a7a7a" stroke-width="0.7"/>
<line x1="243.4" y1="686" x2="241.4" y2="686" stroke="#7a7a7a" stroke-width="0.7"/>
<text x="28.5" y="865.2" font-size="6.5" text-anchor="middle" fill="#1a1a1a" stroke="#1a1a1a" stroke-width="0.28">0</text>
<text x="71.48" y="865.2" font-size="6.5" text-anchor="middle" fill="#1a1a1a" stroke="#1a1a1a" stroke-width="0.28">500</text>
<text x="114.46" y="865.2" font-size="6.5" text-anchor="middle" fill="#1a1a1a" stroke="#1a1a1a" stroke-width="0.28">1000</text>
<text x="157.44" y="865.2" font-size="6.5" text-anchor="middle" fill="#1a1a1a" stroke="#1a1a1a" stroke-width="0.28">1500</text>
<text x="200.42" y="865.2" font-size="6.5" text-anchor="middle" fill="#1a1a1a" stroke="#1a1a1a" stroke-width="0.28">2000</text>
<text x="243.4" y="865.2" font-size="6.5" text-anchor="middle" fill="#1a1a1a" stroke="#1a1a1a" stroke-width="0.28">2500</text>
<text x="24.6" y="857.7" font-size="6.5" text-anchor="end" fill="#1a1a1a" stroke="#1a1a1a" stroke-width="0.28">0.7</text>
<text x="24.6" y="829.45" font-size="6.5" text-anchor="end" fill="#1a1a1a" stroke="#1a1a1a" stroke-width="0.28">0.75</text>
<text x="24.6" y="801.2" font-size="6.5" text-anchor="end" fill="#1a1a1a" stroke="#1a1a1a" stroke-width="0.28">0.8</text>
<text x="24.6" y="772.95" font-size="6.5" text-anchor="end" fill="#1a1a1a" stroke="#1a1a1a" stroke-width="0.28">0.85</text>
<text x="24.6" y="744.7" font-size="6.5" text-anchor="end" fill="#1a1a1a" stroke="#1a1a1a" stroke-width="0.28">0.9</text>
<text x="24.6" y="716.45" font-size="6.5" text-anchor="end" fill="#1a1a1a" stroke="#1a1a1a" stroke-width="0.28">0.95</text>
<text x="24.6" y="688.2" font-size="6.5" text-anchor="end" fill="#1a1a1a" stroke="#1a1a1a" stroke-width="0.28">1</text>
<text x="11.9" y="770.75" font-size="7.2" text-anchor="middle" fill="#1a1a1a" stroke="#1a1a1a" stroke-width="0.28" transform="rotate(-90 11.9 770.75)">Entropy,Hq</text>
<text x="135.95" y="875.3" font-size="7.2" text-anchor="middle" fill="#1a1a1a" stroke="#1a1a1a" stroke-width="0.28">length,L</text>
<text x="131" y="894.7" font-family="'Liberation Serif', 'Times New Roman', serif" font-size="13.6" text-anchor="middle" fill="#111">(<tspan font-weight="bold">g</tspan>)</text>
<polyline points="29.76,789.39 33.2,703.51 37.5,704.08 41.79,705.21 46.09,705.21 50.39,705.49 54.69,706 58.99,706.9 63.28,707.64 67.58,707.19 71.88,709.73 76.18,708.88 80.48,710.3 84.77,710.01 89.07,710.18 93.37,711.03 97.67,711.99 101.97,712.27 106.26,712.56 110.56,713.12 114.86,713.69 119.16,713.12 123.46,713.4 127.75,713.97 132.05,715.04 136.35,714.01 140.65,714.53 144.95,715.57 149.24,715.38 153.54,716.47 157.84,715.95 162.14,714.96 166.44,715.66 170.73,716.62 175.03,716.51 179.33,717.29 183.63,716.79 187.93,716.82 192.22,717.36 196.52,717.76 200.82,717.64" fill="none" stroke="#ff4d4d" stroke-width="0.65" stroke-linejoin="round"/>
<path d="M29.76 756.62V822.17M28.06 756.62h3.4M28.06 822.17h3.4M33.2 700.11V706.92M31.5 700.11h3.4M31.5 706.92h3.4M37.5 702.34V705.82M35.8 702.34h3.4M35.8 705.82h3.4M41.79 701.4V709.02M40.09 701.4h3.4M40.09 709.02h3.4M46.09 703.45V706.97M44.39 703.45h3.4M44.39 706.97h3.4M50.39 702.52V708.47M48.69 702.52h3.4M48.69 708.47h3.4M54.69 704.5V707.51M52.99 704.5h3.4M52.99 707.51h3.4M58.99 703.71V710.1M57.29 703.71h3.4M57.29 710.1h3.4M63.28 705.98V709.3M61.58 705.98h3.4M61.58 709.3h3.4M67.58 704.12V710.26M65.88 704.12h3.4M65.88 710.26h3.4M71.88 706.62V712.84M70.18 706.62h3.4M70.18 712.84h3.4M76.18 705.66V712.1M74.48 705.66h3.4M74.48 712.1h3.4M80.48 707.9V712.69M78.78 707.9h3.4M78.78 712.69h3.4M84.77 706.54V713.48M83.07 706.54h3.4M83.07 713.48h3.4M89.07 706.4V713.97M87.37 706.4h3.4M87.37 713.97h3.4M93.37 709.46V712.59M91.67 709.46h3.4M91.67 712.59h3.4M97.67 709.4V714.58M95.97 709.4h3.4M95.97 714.58h3.4M101.97 708.57V715.98M100.27 708.57h3.4M100.27 715.98h3.4M106.26 709.4V715.71M104.56 709.4h3.4M104.56 715.71h3.4M110.56 710.72V715.52M108.86 710.72h3.4M108.86 715.52h3.4M114.86 711.64V715.73M113.16 711.64h3.4M113.16 715.73h3.4M119.16 709.43V716.81M117.46 709.43h3.4M117.46 716.81h3.4M123.46 711.91V714.89M121.76 711.91h3.4M121.76 714.89h3.4M127.75 710.76V717.17M126.05 710.76h3.4M126.05 717.17h3.4M132.05 711.63V718.46M130.35 711.63h3.4M130.35 718.46h3.4M136.35 712.34V715.68M134.65 712.34h3.4M134.65 715.68h3.4M140.65 712.43V716.63M138.95 712.43h3.4M138.95 716.63h3.4M144.95 713.52V717.61M143.25 713.52h3.4M143.25 717.61h3.4M149.24 712.73V718.03M147.54 712.73h3.4M147.54 718.03h3.4M153.54 714.27V718.67M151.84 714.27h3.4M151.84 718.67h3.4M157.84 712.4V719.49M156.14 712.4h3.4M156.14 719.49h3.4M162.14 711.34V718.58M160.44 711.34h3.4M160.44 718.58h3.4M166.44 713.59V717.74M164.74 713.59h3.4M164.74 717.74h3.4M170.73 713.08V720.17M169.03 713.08h3.4M169.03 720.17h3.4M175.03 715.06V717.96M173.33 715.06h3.4M173.33 717.96h3.4M179.33 715.78V718.81M177.63 715.78h3.4M177.63 718.81h3.4M183.63 713.83V719.75M181.93 713.83h3.4M181.93 719.75h3.4M187.93 713.52V720.12M186.23 713.52h3.4M186.23 720.12h3.4M192.22 714V720.71M190.52 714h3.4M190.52 720.71h3.4M196.52 713.97V721.55M194.82 713.97h3.4M194.82 721.55h3.4M200.82 714.18V721.1M199.12 714.18h3.4M199.12 721.1h3.4" stroke="#ff6a6a" stroke-width="0.55" fill="none"/>
<rect x="28.16" y="787.79" width="3.2" height="3.2" fill="none" stroke="#ff6262" stroke-width="0.62"/>
<rect x="31.6" y="701.91" width="3.2" height="3.2" fill="none" stroke="#ff6262" stroke-width="0.62"/>
<rect x="35.9" y="702.48" width="3.2" height="3.2" fill="none" stroke="#ff6262" stroke-width="0.62"/>
<rect x="40.19" y="703.61" width="3.2" height="3.2" fill="none" stroke="#ff6262" stroke-width="0.62"/>
<rect x="44.49" y="703.61" width="3.2" height="3.2" fill="none" stroke="#ff6262" stroke-width="0.62"/>
<rect x="48.79" y="703.89" width="3.2" height="3.2" fill="none" stroke="#ff6262" stroke-width="0.62"/>
<rect x="53.09" y="704.4" width="3.2" height="3.2" fill="none" stroke="#ff6262" stroke-width="0.62"/>
<rect x="57.39" y="705.3" width="3.2" height="3.2" fill="none" stroke="#ff6262" stroke-width="0.62"/>
<rect x="61.68" y="706.04" width="3.2" height="3.2" fill="none" stroke="#ff6262" stroke-width="0.62"/>
<rect x="65.98" y="705.59" width="3.2" height="3.2" fill="none" stroke="#ff6262" stroke-width="0.62"/>
<rect x="70.28" y="708.13" width="3.2" height="3.2" fill="none" stroke="#ff6262" stroke-width="0.62"/>
<rect x="74.58" y="707.28" width="3.2" height="3.2" fill="none" stroke="#ff6262" stroke-width="0.62"/>
<rect x="78.88" y="708.7" width="3.2" height="3.2" fill="none" stroke="#ff6262" stroke-width="0.62"/>
<rect x="83.17" y="708.41" width="3.2" height="3.2" fill="none" stroke="#ff6262" stroke-width="0.62"/>
<rect x="87.47" y="708.58" width="3.2" height="3.2" fill="none" stroke="#ff6262" stroke-width="0.62"/>
<rect x="91.77" y="709.43" width="3.2" height="3.2" fill="none" stroke="#ff6262" stroke-width="0.62"/>
<rect x="96.07" y="710.39" width="3.2" height="3.2" fill="none" stroke="#ff6262" stroke-width="0.62"/>
<rect x="100.37" y="710.67" width="3.2" height="3.2" fill="none" stroke="#ff6262" stroke-width="0.62"/>
<rect x="104.66" y="710.96" width="3.2" height="3.2" fill="none" stroke="#ff6262" stroke-width="0.62"/>
<rect x="108.96" y="711.52" width="3.2" height="3.2" fill="none" stroke="#ff6262" stroke-width="0.62"/>
<rect x="113.26" y="712.09" width="3.2" height="3.2" fill="none" stroke="#ff6262" stroke-width="0.62"/>
<rect x="117.56" y="711.52" width="3.2" height="3.2" fill="none" stroke="#ff6262" stroke-width="0.62"/>
<rect x="121.86" y="711.8" width="3.2" height="3.2" fill="none" stroke="#ff6262" stroke-width="0.62"/>
<rect x="126.15" y="712.37" width="3.2" height="3.2" fill="none" stroke="#ff6262" stroke-width="0.62"/>
<rect x="130.45" y="713.44" width="3.2" height="3.2" fill="none" stroke="#ff6262" stroke-width="0.62"/>
<rect x="134.75" y="712.41" width="3.2" height="3.2" fill="none" stroke="#ff6262" stroke-width="0.62"/>
<rect x="139.05" y="712.93" width="3.2" height="3.2" fill="none" stroke="#ff6262" stroke-width="0.62"/>
<rect x="143.35" y="713.97" width="3.2" height="3.2" fill="none" stroke="#ff6262" stroke-width="0.62"/>
<rect x="147.64" y="713.78" width="3.2" height="3.2" fill="none" stroke="#ff6262" stroke-width="0.62"/>
<rect x="151.94" y="714.87" width="3.2" height="3.2" fill="none" stroke="#ff6262" stroke-width="0.62"/>
<rect x="156.24" y="714.35" width="3.2" height="3.2" fill="none" stroke="#ff6262" stroke-width="0.62"/>
<rect x="160.54" y="713.36" width="3.2" height="3.2" fill="none" stroke="#ff6262" stroke-width="0.62"/>
<rect x="164.84" y="714.06" width="3.2" height="3.2" fill="none" stroke="#ff6262" stroke-width="0.62"/>
<rect x="169.13" y="715.02" width="3.2" height="3.2" fill="none" stroke="#ff6262" stroke-width="0.62"/>
<rect x="173.43" y="714.91" width="3.2" height="3.2" fill="none" stroke="#ff6262" stroke-width="0.62"/>
<rect x="177.73" y="715.69" width="3.2" height="3.2" fill="none" stroke="#ff6262" stroke-width="0.62"/>
<rect x="182.03" y="715.19" width="3.2" height="3.2" fill="none" stroke="#ff6262" stroke-width="0.62"/>
<rect x="186.33" y="715.22" width="3.2" height="3.2" fill="none" stroke="#ff6262" stroke-width="0.62"/>
<rect x="190.62" y="715.76" width="3.2" height="3.2" fill="none" stroke="#ff6262" stroke-width="0.62"/>
<rect x="194.92" y="716.16" width="3.2" height="3.2" fill="none" stroke="#ff6262" stroke-width="0.62"/>
<rect x="199.22" y="716.04" width="3.2" height="3.2" fill="none" stroke="#ff6262" stroke-width="0.62"/>
<polyline points="29.76,796.17 33.2,700.12 37.5,695.04 41.79,692.5 46.09,691.09 50.39,690.52 54.69,689.95 58.99,689.82 63.28,689.39 67.58,689.27 71.88,689.26 76.18,689.29 80.48,689.38 84.77,689.08 89.07,689.04 93.37,689.14 97.67,689.11 101.97,689.07 106.26,689.16 110.56,689.23 114.86,689.02 119.16,688.89 123.46,689.09 127.75,688.73 132.05,688.83 136.35,688.93 140.65,688.91 144.95,688.98 149.24,688.53 153.54,688.63 157.84,688.55 162.14,688.65 166.44,688.89 170.73,688.74 175.03,688.65 179.33,688.8 183.63,688.41 187.93,688.65 192.22,688.73 196.52,688.42 200.82,688.54" fill="none" stroke="#3a3aff" stroke-width="0.65" stroke-linejoin="round"/>
<path d="M29.76 761.71V830.64M28.06 761.71h3.4M28.06 830.64h3.4M33.2 699.2V701.05M31.5 699.2h3.4M31.5 701.05h3.4M37.5 694.15V695.93M35.8 694.15h3.4M35.8 695.93h3.4M41.79 692.05V692.95M40.09 692.05h3.4M40.09 692.95h3.4M46.09 690.36V691.81M44.39 690.36h3.4M44.39 691.81h3.4M50.39 689.88V691.16M48.69 689.88h3.4M48.69 691.16h3.4M54.69 689.26V690.65M52.99 689.26h3.4M52.99 690.65h3.4M58.99 689.35V690.3M57.29 689.35h3.4M57.29 690.3h3.4M63.28 688.88V689.9M61.58 688.88h3.4M61.58 689.9h3.4M67.58 688.62V689.92M65.88 688.62h3.4M65.88 689.92h3.4M71.88 688.73V689.79M70.18 688.73h3.4M70.18 689.79h3.4M76.18 688.64V689.95M74.48 688.64h3.4M74.48 689.95h3.4M80.48 688.96V689.8M78.78 688.96h3.4M78.78 689.8h3.4M84.77 688.63V689.53M83.07 688.63h3.4M83.07 689.53h3.4M89.07 688.25V689.83M87.37 688.25h3.4M87.37 689.83h3.4M93.37 688.5V689.77M91.67 688.5h3.4M91.67 689.77h3.4M97.67 688.42V689.79M95.97 688.42h3.4M95.97 689.79h3.4M101.97 688.26V689.87M100.27 688.26h3.4M100.27 689.87h3.4M106.26 688.55V689.76M104.56 688.55h3.4M104.56 689.76h3.4M110.56 688.79V689.66M108.86 688.79h3.4M108.86 689.66h3.4M114.86 688.19V689.86M113.16 688.19h3.4M113.16 689.86h3.4M119.16 688.17V689.62M117.46 688.17h3.4M117.46 689.62h3.4M123.46 688.33V689.85M121.76 688.33h3.4M121.76 689.85h3.4M127.75 687.98V689.47M126.05 687.98h3.4M126.05 689.47h3.4M132.05 687.89V689.76M130.35 687.89h3.4M130.35 689.76h3.4M136.35 688.32V689.53M134.65 688.32h3.4M134.65 689.53h3.4M140.65 688.09V689.73M138.95 688.09h3.4M138.95 689.73h3.4M144.95 688.37V689.59M143.25 688.37h3.4M143.25 689.59h3.4M149.24 687.81V689.25M147.54 687.81h3.4M147.54 689.25h3.4M153.54 687.86V689.39M151.84 687.86h3.4M151.84 689.39h3.4M157.84 687.97V689.13M156.14 687.97h3.4M156.14 689.13h3.4M162.14 688.2V689.1M160.44 688.2h3.4M160.44 689.1h3.4M166.44 688.23V689.56M164.74 688.23h3.4M164.74 689.56h3.4M170.73 687.95V689.54M169.03 687.95h3.4M169.03 689.54h3.4M175.03 687.92V689.38M173.33 687.92h3.4M173.33 689.38h3.4M179.33 688.15V689.45M177.63 688.15h3.4M177.63 689.45h3.4M183.63 687.65V689.16M181.93 687.65h3.4M181.93 689.16h3.4M187.93 688.15V689.16M186.23 688.15h3.4M186.23 689.16h3.4M192.22 688.23V689.24M190.52 688.23h3.4M190.52 689.24h3.4M196.52 687.83V689M194.82 687.83h3.4M194.82 689h3.4M200.82 687.69V689.39M199.12 687.69h3.4M199.12 689.39h3.4" stroke="#4a4aff" stroke-width="0.55" fill="none"/>
<circle cx="29.76" cy="796.17" r="2.2" fill="none" stroke="#2a2aff" stroke-width="0.95"/>
<circle cx="33.2" cy="700.12" r="2.2" fill="none" stroke="#2a2aff" stroke-width="0.95"/>
<circle cx="37.5" cy="695.04" r="2.2" fill="none" stroke="#2a2aff" stroke-width="0.95"/>
<circle cx="41.79" cy="692.5" r="2.2" fill="none" stroke="#2a2aff" stroke-width="0.95"/>
<circle cx="46.09" cy="691.09" r="2.2" fill="none" stroke="#2a2aff" stroke-width="0.95"/>
<circle cx="50.39" cy="690.52" r="2.2" fill="none" stroke="#2a2aff" stroke-width="0.95"/>
<circle cx="54.69" cy="689.95" r="2.2" fill="none" stroke="#2a2aff" stroke-width="0.95"/>
<circle cx="58.99" cy="689.82" r="2.2" fill="none" stroke="#2a2aff" stroke-width="0.95"/>
<circle cx="63.28" cy="689.39" r="2.2" fill="none" stroke="#2a2aff" stroke-width="0.95"/>
<circle cx="67.58" cy="689.27" r="2.2" fill="none" stroke="#2a2aff" stroke-width="0.95"/>
<circle cx="71.88" cy="689.26" r="2.2" fill="none" stroke="#2a2aff" stroke-width="0.95"/>
<circle cx="76.18" cy="689.29" r="2.2" fill="none" stroke="#2a2aff" stroke-width="0.95"/>
<circle cx="80.48" cy="689.38" r="2.2" fill="none" stroke="#2a2aff" stroke-width="0.95"/>
<circle cx="84.77" cy="689.08" r="2.2" fill="none" stroke="#2a2aff" stroke-width="0.95"/>
<circle cx="89.07" cy="689.04" r="2.2" fill="none" stroke="#2a2aff" stroke-width="0.95"/>
<circle cx="93.37" cy="689.14" r="2.2" fill="none" stroke="#2a2aff" stroke-width="0.95"/>
<circle cx="97.67" cy="689.11" r="2.2" fill="none" stroke="#2a2aff" stroke-width="0.95"/>
<circle cx="101.97" cy="689.07" r="2.2" fill="none" stroke="#2a2aff" stroke-width="0.95"/>
<circle cx="106.26" cy="689.16" r="2.2" fill="none" stroke="#2a2aff" stroke-width="0.95"/>
<circle cx="110.56" cy="689.23" r="2.2" fill="none" stroke="#2a2aff" stroke-width="0.95"/>
<circle cx="114.86" cy="689.02" r="2.2" fill="none" stroke="#2a2aff" stroke-width="0.95"/>
<circle cx="119.16" cy="688.89" r="2.2" fill="none" stroke="#2a2aff" stroke-width="0.95"/>
<circle cx="123.46" cy="689.09" r="2.2" fill="none" stroke="#2a2aff" stroke-width="0.95"/>
<circle cx="127.75" cy="688.73" r="2.2" fill="none" stroke="#2a2aff" stroke-width="0.95"/>
<circle cx="132.05" cy="688.83" r="2.2" fill="none" stroke="#2a2aff" stroke-width="0.95"/>
<circle cx="136.35" cy="688.93" r="2.2" fill="none" stroke="#2a2aff" stroke-width="0.95"/>
<circle cx="140.65" cy="688.91" r="2.2" fill="none" stroke="#2a2aff" stroke-width="0.95"/>
<circle cx="144.95" cy="688.98" r="2.2" fill="none" stroke="#2a2aff" stroke-width="0.95"/>
<circle cx="149.24" cy="688.53" r="2.2" fill="none" stroke="#2a2aff" stroke-width="0.95"/>
<circle cx="153.54" cy="688.63" r="2.2" fill="none" stroke="#2a2aff" stroke-width="0.95"/>
<circle cx="157.84" cy="688.55" r="2.2" fill="none" stroke="#2a2aff" stroke-width="0.95"/>
<circle cx="162.14" cy="688.65" r="2.2" fill="none" stroke="#2a2aff" stroke-width="0.95"/>
<circle cx="166.44" cy="688.89" r="2.2" fill="none" stroke="#2a2aff" stroke-width="0.95"/>
<circle cx="170.73" cy="688.74" r="2.2" fill="none" stroke="#2a2aff" stroke-width="0.95"/>
<circle cx="175.03" cy="688.65" r="2.2" fill="none" stroke="#2a2aff" stroke-width="0.95"/>
<circle cx="179.33" cy="688.8" r="2.2" fill="none" stroke="#2a2aff" stroke-width="0.95"/>
<circle cx="183.63" cy="688.41" r="2.2" fill="none" stroke="#2a2aff" stroke-width="0.95"/>
<circle cx="187.93" cy="688.65" r="2.2" fill="none" stroke="#2a2aff" stroke-width="0.95"/>
<circle cx="192.22" cy="688.73" r="2.2" fill="none" stroke="#2a2aff" stroke-width="0.95"/>
<circle cx="196.52" cy="688.42" r="2.2" fill="none" stroke="#2a2aff" stroke-width="0.95"/>
<circle cx="200.82" cy="688.54" r="2.2" fill="none" stroke="#2a2aff" stroke-width="0.95"/>
<rect x="28.5" y="686" width="214.9" height="169.5" fill="none" stroke="#7a7a7a" stroke-width="1.0"/>
<rect x="182.8" y="691.8" width="53.9" height="17.4" fill="#fff"/>
<line x1="184.8" y1="696.3" x2="203.6" y2="696.3" stroke="#3a3aff" stroke-width="0.65"/>
<path d="M194.2 693.5V699.1M192.8 693.5h2.8M192.8 699.1h2.8" stroke="#4a4aff" stroke-width="0.55" fill="none"/>
<circle cx="194.2" cy="696.3" r="2.2" fill="none" stroke="#2a2aff" stroke-width="0.95"/>
<line x1="184.8" y1="704.7" x2="203.6" y2="704.7" stroke="#ff4d4d" stroke-width="0.65"/>
<path d="M194.2 701.9V707.5M192.8 701.9h2.8M192.8 707.5h2.8" stroke="#ff6060" stroke-width="0.55" fill="none"/>
<rect x="192.8" y="703.3" width="2.8" height="2.8" fill="none" stroke="#ff5a5a" stroke-width="0.6"/>
<text x="205.7" y="698.4" font-size="5.95" text-anchor="start" fill="#1a1a1a" stroke="#1a1a1a" stroke-width="0.28">white-noise</text>
<text x="205.7" y="706.8" font-size="5.95" text-anchor="start" fill="#1a1a1a" stroke="#1a1a1a" stroke-width="0.28">pink-noise</text>
<line x1="368.34" y1="686" x2="368.34" y2="855.3" stroke="#eeeeee" stroke-width="0.7"/>
<line x1="411.28" y1="686" x2="411.28" y2="855.3" stroke="#eeeeee" stroke-width="0.7"/>
<line x1="454.22" y1="686" x2="454.22" y2="855.3" stroke="#eeeeee" stroke-width="0.7"/>
<line x1="497.16" y1="686" x2="497.16" y2="855.3" stroke="#eeeeee" stroke-width="0.7"/>
<line x1="325.4" y1="834.14" x2="540.1" y2="834.14" stroke="#eeeeee" stroke-width="0.7"/>
<line x1="325.4" y1="812.98" x2="540.1" y2="812.98" stroke="#eeeeee" stroke-width="0.7"/>
<line x1="325.4" y1="791.81" x2="540.1" y2="791.81" stroke="#eeeeee" stroke-width="0.7"/>
<line x1="325.4" y1="770.65" x2="540.1" y2="770.65" stroke="#eeeeee" stroke-width="0.7"/>
<line x1="325.4" y1="749.49" x2="540.1" y2="749.49" stroke="#eeeeee" stroke-width="0.7"/>
<line x1="325.4" y1="728.33" x2="540.1" y2="728.33" stroke="#eeeeee" stroke-width="0.7"/>
<line x1="325.4" y1="707.16" x2="540.1" y2="707.16" stroke="#eeeeee" stroke-width="0.7"/>
<line x1="368.34" y1="855.3" x2="368.34" y2="853.3" stroke="#7a7a7a" stroke-width="0.7"/>
<line x1="368.34" y1="686" x2="368.34" y2="688" stroke="#7a7a7a" stroke-width="0.7"/>
<line x1="411.28" y1="855.3" x2="411.28" y2="853.3" stroke="#7a7a7a" stroke-width="0.7"/>
<line x1="411.28" y1="686" x2="411.28" y2="688" stroke="#7a7a7a" stroke-width="0.7"/>
<line x1="454.22" y1="855.3" x2="454.22" y2="853.3" stroke="#7a7a7a" stroke-width="0.7"/>
<line x1="454.22" y1="686" x2="454.22" y2="688" stroke="#7a7a7a" stroke-width="0.7"/>
<line x1="497.16" y1="855.3" x2="497.16" y2="853.3" stroke="#7a7a7a" stroke-width="0.7"/>
<line x1="497.16" y1="686" x2="497.16" y2="688" stroke="#7a7a7a" stroke-width="0.7"/>
<line x1="325.4" y1="855.3" x2="327.4" y2="855.3" stroke="#7a7a7a" stroke-width="0.7"/>
<line x1="540.1" y1="855.3" x2="538.1" y2="855.3" stroke="#7a7a7a" stroke-width="0.7"/>
<line x1="325.4" y1="834.14" x2="327.4" y2="834.14" stroke="#7a7a7a" stroke-width="0.7"/>
<line x1="540.1" y1="834.14" x2="538.1" y2="834.14" stroke="#7a7a7a" stroke-width="0.7"/>
<line x1="325.4" y1="812.98" x2="327.4" y2="812.98" stroke="#7a7a7a" stroke-width="0.7"/>
<line x1="540.1" y1="812.98" x2="538.1" y2="812.98" stroke="#7a7a7a" stroke-width="0.7"/>
<line x1="325.4" y1="791.81" x2="327.4" y2="791.81" stroke="#7a7a7a" stroke-width="0.7"/>
<line x1="540.1" y1="791.81" x2="538.1" y2="791.81" stroke="#7a7a7a" stroke-width="0.7"/>
<line x1="325.4" y1="770.65" x2="327.4" y2="770.65" stroke="#7a7a7a" stroke-width="0.7"/>
<line x1="540.1" y1="770.65" x2="538.1" y2="770.65" stroke="#7a7a7a" stroke-width="0.7"/>
<line x1="325.4" y1="749.49" x2="327.4" y2="749.49" stroke="#7a7a7a" stroke-width="0.7"/>
<line x1="540.1" y1="749.49" x2="538.1" y2="749.49" stroke="#7a7a7a" stroke-width="0.7"/>
<line x1="325.4" y1="728.33" x2="327.4" y2="728.33" stroke="#7a7a7a" stroke-width="0.7"/>
<line x1="540.1" y1="728.33" x2="538.1" y2="728.33" stroke="#7a7a7a" stroke-width="0.7"/>
<line x1="325.4" y1="707.16" x2="327.4" y2="707.16" stroke="#7a7a7a" stroke-width="0.7"/>
<line x1="540.1" y1="707.16" x2="538.1" y2="707.16" stroke="#7a7a7a" stroke-width="0.7"/>
<text x="325.4" y="865" font-size="6.5" text-anchor="middle" fill="#1a1a1a" stroke="#1a1a1a" stroke-width="0.28">0</text>
<text x="368.34" y="865" font-size="6.5" text-anchor="middle" fill="#1a1a1a" stroke="#1a1a1a" stroke-width="0.28">500</text>
<text x="411.28" y="865" font-size="6.5" text-anchor="middle" fill="#1a1a1a" stroke="#1a1a1a" stroke-width="0.28">1000</text>
<text x="454.22" y="865" font-size="6.5" text-anchor="middle" fill="#1a1a1a" stroke="#1a1a1a" stroke-width="0.28">1500</text>
<text x="497.16" y="865" font-size="6.5" text-anchor="middle" fill="#1a1a1a" stroke="#1a1a1a" stroke-width="0.28">2000</text>
<text x="540.1" y="865" font-size="6.5" text-anchor="middle" fill="#1a1a1a" stroke="#1a1a1a" stroke-width="0.28">2500</text>
<text x="321.5" y="857.5" font-size="6.5" text-anchor="end" fill="#1a1a1a" stroke="#1a1a1a" stroke-width="0.28">0.1</text>
<text x="321.5" y="836.34" font-size="6.5" text-anchor="end" fill="#1a1a1a" stroke="#1a1a1a" stroke-width="0.28">0.2</text>
<text x="321.5" y="815.18" font-size="6.5" text-anchor="end" fill="#1a1a1a" stroke="#1a1a1a" stroke-width="0.28">0.3</text>
<text x="321.5" y="794.01" font-size="6.5" text-anchor="end" fill="#1a1a1a" stroke="#1a1a1a" stroke-width="0.28">0.4</text>
<text x="321.5" y="772.85" font-size="6.5" text-anchor="end" fill="#1a1a1a" stroke="#1a1a1a" stroke-width="0.28">0.5</text>
<text x="321.5" y="751.69" font-size="6.5" text-anchor="end" fill="#1a1a1a" stroke="#1a1a1a" stroke-width="0.28">0.6</text>
<text x="321.5" y="730.53" font-size="6.5" text-anchor="end" fill="#1a1a1a" stroke="#1a1a1a" stroke-width="0.28">0.7</text>
<text x="321.5" y="709.36" font-size="6.5" text-anchor="end" fill="#1a1a1a" stroke="#1a1a1a" stroke-width="0.28">0.8</text>
<text x="305.3" y="770.65" font-size="7.2" text-anchor="middle" fill="#1a1a1a" stroke="#1a1a1a" stroke-width="0.28" transform="rotate(-90 305.3 770.65)">Entropy,Cq</text>
<text x="432.75" y="875.1" font-size="7.2" text-anchor="middle" fill="#1a1a1a" stroke="#1a1a1a" stroke-width="0.28">length,L</text>
<text x="427.7" y="894.5" font-family="'Liberation Serif', 'Times New Roman', serif" font-size="13.6" text-anchor="middle" fill="#111">(<tspan font-weight="bold">h</tspan>)</text>
<polyline points="326.66,713.51 330.09,726.42 334.39,742.5 338.68,750.33 342.98,754.35 347.27,757.32 351.56,759.43 355.86,762.4 360.15,760.28 364.45,761.34 368.74,761.34 373.03,761.77 377.33,761.13 381.62,761.49 385.92,761.38 390.21,760.62 394.5,761.13 398.8,761.08 403.09,760.74 407.39,761.48 411.68,760.92 415.97,760.75 420.27,760.16 424.56,760.41 428.86,760.28 433.15,759.65 437.44,759.65 441.74,760.23 446.03,760.63 450.33,759.6 454.62,759.86 458.91,760.25 463.21,760.31 467.5,759.31 471.8,759.08 476.09,759.01 480.38,758.77 484.68,759.64 488.97,759.71 493.27,759.58 497.56,759.01" fill="none" stroke="#ff4d4d" stroke-width="0.65" stroke-linejoin="round"/>
<path d="M326.66 696.79V730.23M324.96 696.79h3.4M324.96 730.23h3.4M330.09 724.14V728.7M328.39 724.14h3.4M328.39 728.7h3.4M334.39 739.73V745.27M332.69 739.73h3.4M332.69 745.27h3.4M338.68 747.46V753.21M336.98 747.46h3.4M336.98 753.21h3.4M342.98 751.51V757.2M341.28 751.51h3.4M341.28 757.2h3.4M347.27 755.46V759.18M345.57 755.46h3.4M345.57 759.18h3.4M351.56 756.46V762.4M349.86 756.46h3.4M349.86 762.4h3.4M355.86 760.42V764.37M354.16 760.42h3.4M354.16 764.37h3.4M360.15 758.53V762.03M358.45 758.53h3.4M358.45 762.03h3.4M364.45 759.99V762.68M362.75 759.99h3.4M362.75 762.68h3.4M368.74 759.2V763.48M367.04 759.2h3.4M367.04 763.48h3.4M373.03 760.31V763.23M371.33 760.31h3.4M371.33 763.23h3.4M377.33 759.44V762.81M375.63 759.44h3.4M375.63 762.81h3.4M381.62 759.16V763.82M379.92 759.16h3.4M379.92 763.82h3.4M385.92 758.73V764.02M384.22 758.73h3.4M384.22 764.02h3.4M390.21 758.02V763.22M388.51 758.02h3.4M388.51 763.22h3.4M394.5 759.8V762.46M392.8 759.8h3.4M392.8 762.46h3.4M398.8 759.8V762.36M397.1 759.8h3.4M397.1 762.36h3.4M403.09 759.09V762.39M401.39 759.09h3.4M401.39 762.39h3.4M407.39 759.26V763.69M405.69 759.26h3.4M405.69 763.69h3.4M411.68 758.15V763.68M409.98 758.15h3.4M409.98 763.68h3.4M415.97 758.06V763.43M414.27 758.06h3.4M414.27 763.43h3.4M420.27 757.22V763.1M418.57 757.22h3.4M418.57 763.1h3.4M424.56 758.12V762.7M422.86 758.12h3.4M422.86 762.7h3.4M428.86 757.9V762.66M427.16 757.9h3.4M427.16 762.66h3.4M433.15 757.93V761.37M431.45 757.93h3.4M431.45 761.37h3.4M437.44 757.89V761.42M435.74 757.89h3.4M435.74 761.42h3.4M441.74 758.68V761.79M440.04 758.68h3.4M440.04 761.79h3.4M446.03 758.45V762.82M444.33 758.45h3.4M444.33 762.82h3.4M450.33 757.28V761.92M448.63 757.28h3.4M448.63 761.92h3.4M454.62 757.6V762.11M452.92 757.6h3.4M452.92 762.11h3.4M458.91 758.34V762.16M457.21 758.34h3.4M457.21 762.16h3.4M463.21 758.34V762.28M461.51 758.34h3.4M461.51 762.28h3.4M467.5 757.67V760.95M465.8 757.67h3.4M465.8 760.95h3.4M471.8 756.37V761.8M470.1 756.37h3.4M470.1 761.8h3.4M476.09 756.74V761.28M474.39 756.74h3.4M474.39 761.28h3.4M480.38 756.18V761.36M478.68 756.18h3.4M478.68 761.36h3.4M484.68 756.93V762.35M482.98 756.93h3.4M482.98 762.35h3.4M488.97 758.01V761.41M487.27 758.01h3.4M487.27 761.41h3.4M493.27 758.19V760.96M491.57 758.19h3.4M491.57 760.96h3.4M497.56 757.31V760.71M495.86 757.31h3.4M495.86 760.71h3.4" stroke="#ff6a6a" stroke-width="0.55" fill="none"/>
<rect x="325.06" y="711.91" width="3.2" height="3.2" fill="none" stroke="#ff6262" stroke-width="0.62"/>
<rect x="328.49" y="724.82" width="3.2" height="3.2" fill="none" stroke="#ff6262" stroke-width="0.62"/>
<rect x="332.79" y="740.9" width="3.2" height="3.2" fill="none" stroke="#ff6262" stroke-width="0.62"/>
<rect x="337.08" y="748.73" width="3.2" height="3.2" fill="none" stroke="#ff6262" stroke-width="0.62"/>
<rect x="341.38" y="752.75" width="3.2" height="3.2" fill="none" stroke="#ff6262" stroke-width="0.62"/>
<rect x="345.67" y="755.72" width="3.2" height="3.2" fill="none" stroke="#ff6262" stroke-width="0.62"/>
<rect x="349.96" y="757.83" width="3.2" height="3.2" fill="none" stroke="#ff6262" stroke-width="0.62"/>
<rect x="354.26" y="760.8" width="3.2" height="3.2" fill="none" stroke="#ff6262" stroke-width="0.62"/>
<rect x="358.55" y="758.68" width="3.2" height="3.2" fill="none" stroke="#ff6262" stroke-width="0.62"/>
<rect x="362.85" y="759.74" width="3.2" height="3.2" fill="none" stroke="#ff6262" stroke-width="0.62"/>
<rect x="367.14" y="759.74" width="3.2" height="3.2" fill="none" stroke="#ff6262" stroke-width="0.62"/>
<rect x="371.43" y="760.17" width="3.2" height="3.2" fill="none" stroke="#ff6262" stroke-width="0.62"/>
<rect x="375.73" y="759.53" width="3.2" height="3.2" fill="none" stroke="#ff6262" stroke-width="0.62"/>
<rect x="380.02" y="759.89" width="3.2" height="3.2" fill="none" stroke="#ff6262" stroke-width="0.62"/>
<rect x="384.32" y="759.78" width="3.2" height="3.2" fill="none" stroke="#ff6262" stroke-width="0.62"/>
<rect x="388.61" y="759.02" width="3.2" height="3.2" fill="none" stroke="#ff6262" stroke-width="0.62"/>
<rect x="392.9" y="759.53" width="3.2" height="3.2" fill="none" stroke="#ff6262" stroke-width="0.62"/>
<rect x="397.2" y="759.48" width="3.2" height="3.2" fill="none" stroke="#ff6262" stroke-width="0.62"/>
<rect x="401.49" y="759.14" width="3.2" height="3.2" fill="none" stroke="#ff6262" stroke-width="0.62"/>
<rect x="405.79" y="759.88" width="3.2" height="3.2" fill="none" stroke="#ff6262" stroke-width="0.62"/>
<rect x="410.08" y="759.32" width="3.2" height="3.2" fill="none" stroke="#ff6262" stroke-width="0.62"/>
<rect x="414.37" y="759.15" width="3.2" height="3.2" fill="none" stroke="#ff6262" stroke-width="0.62"/>
<rect x="418.67" y="758.56" width="3.2" height="3.2" fill="none" stroke="#ff6262" stroke-width="0.62"/>
<rect x="422.96" y="758.81" width="3.2" height="3.2" fill="none" stroke="#ff6262" stroke-width="0.62"/>
<rect x="427.26" y="758.68" width="3.2" height="3.2" fill="none" stroke="#ff6262" stroke-width="0.62"/>
<rect x="431.55" y="758.05" width="3.2" height="3.2" fill="none" stroke="#ff6262" stroke-width="0.62"/>
<rect x="435.84" y="758.05" width="3.2" height="3.2" fill="none" stroke="#ff6262" stroke-width="0.62"/>
<rect x="440.14" y="758.63" width="3.2" height="3.2" fill="none" stroke="#ff6262" stroke-width="0.62"/>
<rect x="444.43" y="759.03" width="3.2" height="3.2" fill="none" stroke="#ff6262" stroke-width="0.62"/>
<rect x="448.73" y="758" width="3.2" height="3.2" fill="none" stroke="#ff6262" stroke-width="0.62"/>
<rect x="453.02" y="758.26" width="3.2" height="3.2" fill="none" stroke="#ff6262" stroke-width="0.62"/>
<rect x="457.31" y="758.65" width="3.2" height="3.2" fill="none" stroke="#ff6262" stroke-width="0.62"/>
<rect x="461.61" y="758.71" width="3.2" height="3.2" fill="none" stroke="#ff6262" stroke-width="0.62"/>
<rect x="465.9" y="757.71" width="3.2" height="3.2" fill="none" stroke="#ff6262" stroke-width="0.62"/>
<rect x="470.2" y="757.48" width="3.2" height="3.2" fill="none" stroke="#ff6262" stroke-width="0.62"/>
<rect x="474.49" y="757.41" width="3.2" height="3.2" fill="none" stroke="#ff6262" stroke-width="0.62"/>
<rect x="478.78" y="757.17" width="3.2" height="3.2" fill="none" stroke="#ff6262" stroke-width="0.62"/>
<rect x="483.08" y="758.04" width="3.2" height="3.2" fill="none" stroke="#ff6262" stroke-width="0.62"/>
<rect x="487.37" y="758.11" width="3.2" height="3.2" fill="none" stroke="#ff6262" stroke-width="0.62"/>
<rect x="491.67" y="757.98" width="3.2" height="3.2" fill="none" stroke="#ff6262" stroke-width="0.62"/>
<rect x="495.96" y="757.41" width="3.2" height="3.2" fill="none" stroke="#ff6262" stroke-width="0.62"/>
<polyline points="326.66,717.53 330.09,732.98 334.39,759.43 338.68,777.85 342.98,790.12 347.27,799.22 351.56,804.09 355.86,811.07 360.15,815.09 364.45,814.46 368.74,819.54 373.03,819.75 377.33,823.56 381.62,823.98 385.92,826.31 390.21,826.52 394.5,827.37 398.8,828.21 403.09,828.95 407.39,830.15 411.68,830.12 415.97,831.03 420.27,830.96 424.56,831.52 428.86,831.81 433.15,832.11 437.44,832.87 441.74,833.96 446.03,834.14 450.33,834.74 454.62,834.35 458.91,835.01 463.21,834.98 467.5,834.87 471.8,835.41 476.09,835.96 480.38,835.62 484.68,835.63 488.97,836.25 493.27,836.05 497.56,836.25" fill="none" stroke="#3a3aff" stroke-width="0.65" stroke-linejoin="round"/>
<path d="M326.66 699.97V735.1M324.96 699.97h3.4M324.96 735.1h3.4M330.09 729.67V736.3M328.39 729.67h3.4M328.39 736.3h3.4M334.39 755.63V763.24M332.69 755.63h3.4M332.69 763.24h3.4M338.68 775.48V780.21M336.98 775.48h3.4M336.98 780.21h3.4M342.98 786.75V793.49M341.28 786.75h3.4M341.28 793.49h3.4M347.27 795.21V803.22M345.57 795.21h3.4M345.57 803.22h3.4M351.56 800.03V808.14M349.86 800.03h3.4M349.86 808.14h3.4M355.86 808.94V813.2M354.16 808.94h3.4M354.16 813.2h3.4M360.15 811.72V818.46M358.45 811.72h3.4M358.45 818.46h3.4M364.45 811.18V817.73M362.75 811.18h3.4M362.75 817.73h3.4M368.74 816.56V822.51M367.04 816.56h3.4M367.04 822.51h3.4M373.03 815.54V823.95M371.33 815.54h3.4M371.33 823.95h3.4M377.33 820.52V826.59M375.63 820.52h3.4M375.63 826.59h3.4M381.62 821.16V826.8M379.92 821.16h3.4M379.92 826.8h3.4M385.92 822.16V830.45M384.22 822.16h3.4M384.22 830.45h3.4M390.21 823.19V829.84M388.51 823.19h3.4M388.51 829.84h3.4M394.5 824.93V829.8M392.8 824.93h3.4M392.8 829.8h3.4M398.8 825.76V830.67M397.1 825.76h3.4M397.1 830.67h3.4M403.09 826V831.91M401.39 826h3.4M401.39 831.91h3.4M407.39 828.38V831.92M405.69 828.38h3.4M405.69 831.92h3.4M411.68 826.87V833.37M409.98 826.87h3.4M409.98 833.37h3.4M415.97 827.44V834.62M414.27 827.44h3.4M414.27 834.62h3.4M420.27 828.2V833.73M418.57 828.2h3.4M418.57 833.73h3.4M424.56 827.64V835.41M422.86 827.64h3.4M422.86 835.41h3.4M428.86 827.71V835.91M427.16 827.71h3.4M427.16 835.91h3.4M433.15 828.99V835.22M431.45 828.99h3.4M431.45 835.22h3.4M437.44 829.42V836.31M435.74 829.42h3.4M435.74 836.31h3.4M441.74 832.02V835.9M440.04 832.02h3.4M440.04 835.9h3.4M446.03 832.36V835.92M444.33 832.36h3.4M444.33 835.92h3.4M450.33 830.49V838.98M448.63 830.49h3.4M448.63 838.98h3.4M454.62 831.96V836.74M452.92 831.96h3.4M452.92 836.74h3.4M458.91 832.81V837.21M457.21 832.81h3.4M457.21 837.21h3.4M463.21 830.96V839M461.51 830.96h3.4M461.51 839h3.4M467.5 831.24V838.5M465.8 831.24h3.4M465.8 838.5h3.4M471.8 833.45V837.37M470.1 833.45h3.4M470.1 837.37h3.4M476.09 833.47V838.45M474.39 833.47h3.4M474.39 838.45h3.4M480.38 833.34V837.9M478.68 833.34h3.4M478.68 837.9h3.4M484.68 833.27V837.99M482.98 833.27h3.4M482.98 837.99h3.4M488.97 834.61V837.9M487.27 834.61h3.4M487.27 837.9h3.4M493.27 833.02V839.08M491.57 833.02h3.4M491.57 839.08h3.4M497.56 833.81V838.69M495.86 833.81h3.4M495.86 838.69h3.4" stroke="#4a4aff" stroke-width="0.55" fill="none"/>
<circle cx="326.66" cy="717.53" r="2.2" fill="none" stroke="#2a2aff" stroke-width="0.95"/>
<circle cx="330.09" cy="732.98" r="2.2" fill="none" stroke="#2a2aff" stroke-width="0.95"/>
<circle cx="334.39" cy="759.43" r="2.2" fill="none" stroke="#2a2aff" stroke-width="0.95"/>
<circle cx="338.68" cy="777.85" r="2.2" fill="none" stroke="#2a2aff" stroke-width="0.95"/>
<circle cx="342.98" cy="790.12" r="2.2" fill="none" stroke="#2a2aff" stroke-width="0.95"/>
<circle cx="347.27" cy="799.22" r="2.2" fill="none" stroke="#2a2aff" stroke-width="0.95"/>
<circle cx="351.56" cy="804.09" r="2.2" fill="none" stroke="#2a2aff" stroke-width="0.95"/>
<circle cx="355.86" cy="811.07" r="2.2" fill="none" stroke="#2a2aff" stroke-width="0.95"/>
<circle cx="360.15" cy="815.09" r="2.2" fill="none" stroke="#2a2aff" stroke-width="0.95"/>
<circle cx="364.45" cy="814.46" r="2.2" fill="none" stroke="#2a2aff" stroke-width="0.95"/>
<circle cx="368.74" cy="819.54" r="2.2" fill="none" stroke="#2a2aff" stroke-width="0.95"/>
<circle cx="373.03" cy="819.75" r="2.2" fill="none" stroke="#2a2aff" stroke-width="0.95"/>
<circle cx="377.33" cy="823.56" r="2.2" fill="none" stroke="#2a2aff" stroke-width="0.95"/>
<circle cx="381.62" cy="823.98" r="2.2" fill="none" stroke="#2a2aff" stroke-width="0.95"/>
<circle cx="385.92" cy="826.31" r="2.2" fill="none" stroke="#2a2aff" stroke-width="0.95"/>
<circle cx="390.21" cy="826.52" r="2.2" fill="none" stroke="#2a2aff" stroke-width="0.95"/>
<circle cx="394.5" cy="827.37" r="2.2" fill="none" stroke="#2a2aff" stroke-width="0.95"/>
<circle cx="398.8" cy="828.21" r="2.2" fill="none" stroke="#2a2aff" stroke-width="0.95"/>
<circle cx="403.09" cy="828.95" r="2.2" fill="none" stroke="#2a2aff" stroke-width="0.95"/>
<circle cx="407.39" cy="830.15" r="2.2" fill="none" stroke="#2a2aff" stroke-width="0.95"/>
<circle cx="411.68" cy="830.12" r="2.2" fill="none" stroke="#2a2aff" stroke-width="0.95"/>
<circle cx="415.97" cy="831.03" r="2.2" fill="none" stroke="#2a2aff" stroke-width="0.95"/>
<circle cx="420.27" cy="830.96" r="2.2" fill="none" stroke="#2a2aff" stroke-width="0.95"/>
<circle cx="424.56" cy="831.52" r="2.2" fill="none" stroke="#2a2aff" stroke-width="0.95"/>
<circle cx="428.86" cy="831.81" r="2.2" fill="none" stroke="#2a2aff" stroke-width="0.95"/>
<circle cx="433.15" cy="832.11" r="2.2" fill="none" stroke="#2a2aff" stroke-width="0.95"/>
<circle cx="437.44" cy="832.87" r="2.2" fill="none" stroke="#2a2aff" stroke-width="0.95"/>
<circle cx="441.74" cy="833.96" r="2.2" fill="none" stroke="#2a2aff" stroke-width="0.95"/>
<circle cx="446.03" cy="834.14" r="2.2" fill="none" stroke="#2a2aff" stroke-width="0.95"/>
<circle cx="450.33" cy="834.74" r="2.2" fill="none" stroke="#2a2aff" stroke-width="0.95"/>
<circle cx="454.62" cy="834.35" r="2.2" fill="none" stroke="#2a2aff" stroke-width="0.95"/>
<circle cx="458.91" cy="835.01" r="2.2" fill="none" stroke="#2a2aff" stroke-width="0.95"/>
<circle cx="463.21" cy="834.98" r="2.2" fill="none" stroke="#2a2aff" stroke-width="0.95"/>
<circle cx="467.5" cy="834.87" r="2.2" fill="none" stroke="#2a2aff" stroke-width="0.95"/>
<circle cx="471.8" cy="835.41" r="2.2" fill="none" stroke="#2a2aff" stroke-width="0.95"/>
<circle cx="476.09" cy="835.96" r="2.2" fill="none" stroke="#2a2aff" stroke-width="0.95"/>
<circle cx="480.38" cy="835.62" r="2.2" fill="none" stroke="#2a2aff" stroke-width="0.95"/>
<circle cx="484.68" cy="835.63" r="2.2" fill="none" stroke="#2a2aff" stroke-width="0.95"/>
<circle cx="488.97" cy="836.25" r="2.2" fill="none" stroke="#2a2aff" stroke-width="0.95"/>
<circle cx="493.27" cy="836.05" r="2.2" fill="none" stroke="#2a2aff" stroke-width="0.95"/>
<circle cx="497.56" cy="836.25" r="2.2" fill="none" stroke="#2a2aff" stroke-width="0.95"/>
<rect x="325.4" y="686" width="214.7" height="169.3" fill="none" stroke="#7a7a7a" stroke-width="1.0"/>
<rect x="479.2" y="691.8" width="53.8" height="17.4" fill="#fff"/>
<line x1="481.2" y1="696.3" x2="500" y2="696.3" stroke="#3a3aff" stroke-width="0.65"/>
<path d="M490.6 693.5V699.1M489.2 693.5h2.8M489.2 699.1h2.8" stroke="#4a4aff" stroke-width="0.55" fill="none"/>
<circle cx="490.6" cy="696.3" r="2.2" fill="none" stroke="#2a2aff" stroke-width="0.95"/>
<line x1="481.2" y1="704.7" x2="500" y2="704.7" stroke="#ff4d4d" stroke-width="0.65"/>
<path d="M490.6 701.9V707.5M489.2 701.9h2.8M489.2 707.5h2.8" stroke="#ff6060" stroke-width="0.55" fill="none"/>
<rect x="489.2" y="703.3" width="2.8" height="2.8" fill="none" stroke="#ff5a5a" stroke-width="0.6"/>
<text x="502" y="698.4" font-size="5.95" text-anchor="start" fill="#1a1a1a" stroke="#1a1a1a" stroke-width="0.28">white-noise</text>
<text x="502" y="706.8" font-size="5.95" text-anchor="start" fill="#1a1a1a" stroke="#1a1a1a" stroke-width="0.28">pink-noise</text>
</svg></body></html>
